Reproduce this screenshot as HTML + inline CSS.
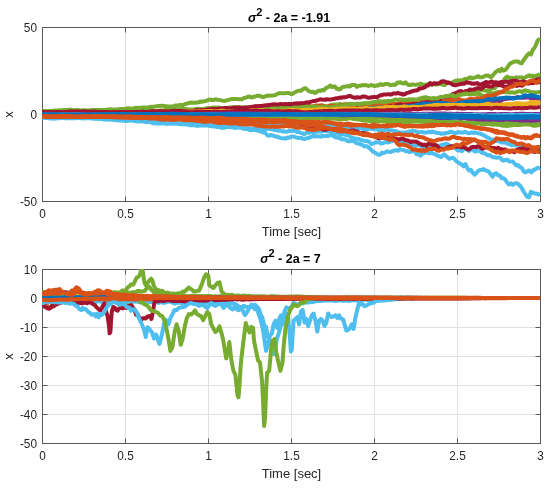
<!DOCTYPE html>
<html><head><meta charset="utf-8"><style>html,body{margin:0;padding:0;background:#fff;width:550px;height:489px;overflow:hidden}svg{display:block}</style></head>
<body>
<svg width="550" height="489" viewBox="0 0 550 489">
<rect width="550" height="489" fill="#fff"/>
<line x1="125.5" y1="27.5" x2="125.5" y2="201.5" stroke="#dfdfdf" stroke-width="1"/>
<line x1="208.5" y1="27.5" x2="208.5" y2="201.5" stroke="#dfdfdf" stroke-width="1"/>
<line x1="291.5" y1="27.5" x2="291.5" y2="201.5" stroke="#dfdfdf" stroke-width="1"/>
<line x1="374.5" y1="27.5" x2="374.5" y2="201.5" stroke="#dfdfdf" stroke-width="1"/>
<line x1="457.5" y1="27.5" x2="457.5" y2="201.5" stroke="#dfdfdf" stroke-width="1"/>
<line x1="42.5" y1="114.5" x2="540.5" y2="114.5" stroke="#dfdfdf" stroke-width="1"/>
<rect x="42.5" y="27.5" width="498.0" height="174.0" fill="none" stroke="#585858" stroke-width="1"/>
<line x1="125.5" y1="27.5" x2="125.5" y2="32.5" stroke="#585858" stroke-width="1"/>
<line x1="125.5" y1="201.5" x2="125.5" y2="196.5" stroke="#585858" stroke-width="1"/>
<line x1="208.5" y1="27.5" x2="208.5" y2="32.5" stroke="#585858" stroke-width="1"/>
<line x1="208.5" y1="201.5" x2="208.5" y2="196.5" stroke="#585858" stroke-width="1"/>
<line x1="291.5" y1="27.5" x2="291.5" y2="32.5" stroke="#585858" stroke-width="1"/>
<line x1="291.5" y1="201.5" x2="291.5" y2="196.5" stroke="#585858" stroke-width="1"/>
<line x1="374.5" y1="27.5" x2="374.5" y2="32.5" stroke="#585858" stroke-width="1"/>
<line x1="374.5" y1="201.5" x2="374.5" y2="196.5" stroke="#585858" stroke-width="1"/>
<line x1="457.5" y1="27.5" x2="457.5" y2="32.5" stroke="#585858" stroke-width="1"/>
<line x1="457.5" y1="201.5" x2="457.5" y2="196.5" stroke="#585858" stroke-width="1"/>
<line x1="42.5" y1="27.5" x2="47.5" y2="27.5" stroke="#585858" stroke-width="1"/>
<line x1="540.5" y1="27.5" x2="535.5" y2="27.5" stroke="#585858" stroke-width="1"/>
<line x1="42.5" y1="114.5" x2="47.5" y2="114.5" stroke="#585858" stroke-width="1"/>
<line x1="540.5" y1="114.5" x2="535.5" y2="114.5" stroke="#585858" stroke-width="1"/>
<line x1="42.5" y1="201.5" x2="47.5" y2="201.5" stroke="#585858" stroke-width="1"/>
<line x1="540.5" y1="201.5" x2="535.5" y2="201.5" stroke="#585858" stroke-width="1"/>
<defs><clipPath id="ct"><rect x="42" y="27" width="499" height="175"/></clipPath><clipPath id="cb"><rect x="42" y="269" width="499" height="175"/></clipPath></defs>
<g clip-path="url(#ct)">
<polyline points="42.0,111.0 43.7,111.2 45.4,111.4 47.1,111.3 48.8,111.2 50.5,110.9 52.2,110.9 54.0,110.7 55.7,110.4 57.4,110.4 59.1,110.3 60.8,110.4 62.5,110.2 64.2,110.1 65.9,110.1 67.6,109.8 69.3,109.8 71.0,109.8 72.8,110.2 74.5,110.2 76.2,110.1 77.9,110.3 79.6,110.3 81.3,110.4 83.0,110.3 84.7,110.3 86.4,110.4 88.1,110.4 89.8,110.3 91.4,110.0 93.1,110.0 94.8,110.0 96.5,110.0 98.2,110.0 99.9,110.1 101.6,110.0 103.2,109.9 104.9,110.0 106.6,109.7 108.3,109.5 110.0,109.3 111.7,109.6 113.3,109.5 115.0,109.5 116.7,109.6 118.3,109.4 120.0,109.0 121.7,109.1 123.3,108.9 125.0,108.9 126.7,108.5 128.3,108.3 130.0,108.5 131.7,108.8 133.3,108.4 135.0,107.9 136.7,107.8 138.3,107.9 140.0,107.8 141.7,107.8 143.3,107.5 145.0,107.5 146.7,107.7 148.3,107.5 150.0,107.0 151.7,106.8 153.3,106.9 155.0,106.4 156.7,106.3 158.3,106.0 160.0,105.9 161.7,105.8 163.3,105.8 165.0,106.2 166.7,106.3 168.3,106.6 170.0,106.6 171.7,106.4 173.3,106.4 175.0,105.5 176.7,105.4 178.3,105.5 180.0,105.0 181.7,105.1 183.3,104.9 185.0,104.0 186.7,103.7 188.3,103.2 190.0,102.8 191.7,102.6 193.3,102.8 195.0,102.7 196.7,102.5 198.3,102.4 200.0,101.5 201.6,101.9 203.2,101.3 204.8,101.3 206.4,100.7 208.0,100.1 209.9,99.5 211.8,100.0 213.6,100.0 215.5,99.3 217.4,99.8 219.2,99.9 221.1,100.4 223.0,100.8 224.9,100.9 226.8,100.2 228.7,99.9 230.6,99.3 232.5,98.9 234.4,99.1 236.3,99.1 238.2,99.3 240.1,99.3 241.9,99.3 243.8,98.1 245.7,97.8 247.6,96.8 249.4,96.6 251.3,97.4 253.2,97.1 254.7,96.4 256.3,96.1 257.8,95.6 259.3,96.1 260.8,96.1 262.3,97.1 263.8,97.0 265.3,96.3 266.8,95.8 268.3,95.6 270.2,95.7 272.1,95.5 274.0,95.4 275.9,94.8 277.8,93.7 279.6,93.0 281.5,93.2 283.4,93.3 285.3,93.3 287.2,92.9 289.1,93.1 291.0,94.0 292.5,94.0 294.0,92.8 295.5,92.0 297.3,91.2 299.1,90.6 300.9,90.9 302.4,89.5 303.8,88.7 305.3,88.2 306.9,89.4 308.5,90.9 310.1,91.6 311.8,92.0 313.3,91.7 314.7,92.9 316.2,92.5 317.6,91.1 319.1,90.6 320.5,90.9 322.1,90.0 323.8,90.4 325.5,88.3 327.1,87.6 328.7,86.7 330.3,85.5 332.0,87.0 333.6,86.5 335.1,86.6 336.5,88.7 338.0,88.7 339.4,89.5 340.9,88.7 342.3,87.1 343.8,86.8 345.4,86.6 346.9,86.4 348.5,86.0 350.0,86.5 351.7,85.0 353.4,85.0 355.1,85.1 356.9,86.9 358.6,85.7 360.3,85.8 362.0,85.2 363.7,85.0 365.3,85.2 366.9,85.2 368.5,86.0 370.2,85.2 371.8,85.1 373.4,85.7 375.0,86.1 376.8,85.2 378.6,85.5 380.4,84.1 382.2,85.0 384.0,84.5 385.5,84.0 387.0,83.9 388.5,84.2 390.0,85.2 391.5,85.0 393.0,84.6 394.5,85.0 396.0,84.2 397.4,82.4 398.9,82.7 400.4,82.2 401.8,83.1 403.6,83.6 405.5,82.4 406.9,83.7 408.4,84.9 410.2,85.1 412.0,84.5 413.8,84.6 415.6,84.9 417.5,84.4 419.3,84.2 420.8,83.6 422.2,84.5 423.6,84.6 425.1,84.9 426.6,84.5 428.0,84.2 429.8,83.2 431.5,84.7 433.2,84.0 435.0,84.5 436.6,84.6 438.3,84.1 440.0,83.6 441.6,84.4 443.3,84.9 445.0,85.0 446.7,83.2 448.4,82.3 450.1,83.0 451.8,82.9 453.6,81.8 455.4,80.9 457.2,80.3 459.0,80.7 460.9,80.3 462.7,80.6 464.5,79.1 466.4,79.3 468.2,78.2 470.0,77.3 471.8,78.4 473.6,77.8 475.2,77.3 476.8,76.8 478.4,76.1 480.0,77.3 481.9,77.3 483.7,76.7 485.5,75.6 487.4,75.5 489.2,76.1 491.0,77.3 492.9,75.3 494.7,73.0 496.5,71.4 498.4,70.0 500.0,71.3 501.7,68.7 503.3,70.6 505.1,70.1 507.0,68.1 508.9,64.9 510.7,63.2 512.5,62.5 514.4,61.4 516.2,61.5 518.0,61.4 519.9,62.9 521.7,63.2 523.5,60.3 525.4,57.7 527.2,55.2 529.0,53.4 530.9,54.6 532.8,49.7 534.3,48.1 535.8,45.4 537.7,40.5 540.0,38.7" fill="none" stroke="#77AC30" stroke-width="4.0" stroke-linejoin="round"/>
<polyline points="42.0,111.5 43.7,111.5 45.4,111.9 47.1,112.0 48.8,112.1 50.5,112.2 52.2,112.2 53.9,112.2 55.6,112.2 57.3,112.0 59.0,111.8 60.7,111.6 62.4,111.6 64.1,111.7 65.8,111.9 67.5,112.0 69.2,112.0 70.9,112.1 72.6,112.0 74.3,111.7 76.0,111.8 77.8,111.7 79.5,111.7 81.2,111.7 82.9,112.1 84.6,112.3 86.3,112.3 88.0,112.1 89.7,112.2 91.4,112.0 93.1,112.2 94.8,111.9 96.5,111.9 98.2,112.0 99.9,111.8 101.6,111.8 103.3,111.8 105.0,112.0 106.7,111.8 108.4,111.9 110.1,112.3 111.8,112.0 113.5,111.8 115.2,111.9 116.9,111.7 118.6,111.5 120.3,111.7 122.0,111.8 123.7,112.0 125.4,112.2 127.1,112.3 128.8,112.1 130.5,111.6 132.2,111.7 133.9,111.5 135.6,111.5 137.3,111.5 139.0,111.3 140.7,111.2 142.4,111.5 144.1,111.6 145.8,111.3 147.5,111.2 149.2,111.2 151.0,111.3 152.7,111.4 154.4,111.3 156.1,111.3 157.8,111.4 159.5,111.1 161.2,111.3 162.9,111.4 164.6,111.2 166.3,111.1 168.0,111.1 169.7,110.8 171.4,110.4 173.1,110.4 174.8,110.7 176.5,110.6 178.2,110.6 179.9,110.5 181.6,110.3 183.3,110.4 185.0,110.5 186.7,110.4 188.4,110.6 190.1,110.3 191.8,110.3 193.5,110.1 195.3,109.9 197.0,109.9 198.7,109.9 200.4,110.0 202.1,110.1 203.8,109.8 205.5,110.0 207.2,109.6 208.9,109.5 210.6,109.5 212.4,109.4 214.1,109.5 215.8,109.4 217.5,109.1 219.2,109.2 220.9,109.1 222.6,108.9 224.3,108.8 226.0,108.7 227.7,108.7 229.5,108.5 231.2,108.5 232.9,108.4 234.6,108.7 236.3,108.5 238.0,108.7 239.7,108.6 241.4,108.8 243.1,109.3 244.8,109.1 246.5,109.1 248.3,108.8 250.0,108.6 251.7,108.3 253.4,108.3 255.1,108.4 256.8,108.6 258.5,108.4 260.2,108.4 261.9,107.9 263.6,108.0 265.4,107.9 267.1,107.5 268.8,107.3 270.5,107.3 272.2,107.3 273.9,107.4 275.6,107.2 277.3,107.1 279.0,107.0 280.7,106.5 282.5,106.4 284.2,106.3 285.9,106.0 287.6,106.2 289.3,106.7 291.0,107.0 292.7,107.0 294.4,106.6 296.0,106.6 297.7,106.3 299.4,106.4 301.1,106.7 302.8,106.6 304.5,106.2 306.1,106.6 307.8,106.5 309.5,106.9 311.2,106.6 312.9,107.3 314.6,106.9 316.2,107.0 317.9,107.2 319.6,106.4 321.3,106.1 323.0,105.6 324.7,106.1 326.3,106.3 328.0,105.9 329.7,105.4 331.4,104.8 333.1,104.8 334.8,104.5 336.4,104.6 338.1,104.4 339.8,103.8 341.5,104.4 343.2,104.5 344.9,104.2 346.5,104.1 348.2,104.5 349.9,104.8 351.6,104.3 353.3,104.8 355.0,104.5 356.6,104.7 358.3,104.3 360.0,104.0 361.7,104.1 363.4,103.6 365.1,103.5 366.9,103.5 368.6,103.1 370.3,103.5 372.0,103.6 373.7,103.4 375.4,103.7 377.1,104.1 378.9,104.4 380.6,104.2 382.3,104.4 384.0,104.4 385.7,103.8 387.4,103.6 389.1,104.2 390.9,103.8 392.6,103.9 394.3,104.4 396.0,104.1 397.7,104.0 399.4,103.5 401.1,103.6 402.9,103.0 404.6,103.0 406.3,102.5 408.0,102.5 409.7,101.7 411.4,101.1 413.1,101.3 414.9,101.5 416.6,100.0 418.3,100.5 420.0,100.0 421.7,100.1 423.3,100.3 425.0,100.0 426.7,99.5 428.3,98.4 430.0,98.3 431.7,98.9 433.3,98.1 435.0,98.4 436.7,98.5 438.3,98.7 440.0,97.9 441.7,97.5 443.3,97.4 445.0,98.0 446.7,97.3 448.3,96.7 450.0,96.0 451.7,96.4 453.3,95.4 455.0,95.2 456.7,94.4 458.3,94.1 460.0,94.4 461.7,94.0 463.3,94.3 465.0,94.0 466.7,93.8 468.3,93.6 470.0,93.0 471.6,92.8 473.3,92.7 474.9,91.7 476.5,91.7 478.2,91.3 479.8,90.5 481.5,90.2 483.1,90.2 484.7,90.3 486.4,90.8 488.0,90.5 489.8,90.2 491.5,88.8 493.2,88.0 495.0,88.0 496.7,85.5 498.3,83.0 500.0,83.0 501.8,82.3 503.6,80.6 505.4,78.0 507.2,76.5 509.0,78.2 510.9,77.8 512.7,78.0 514.5,78.2 516.4,77.3 518.2,77.6 520.0,77.6 521.8,77.2 523.6,78.2 525.5,77.2 527.3,76.2 529.1,75.3 531.0,76.4 532.8,75.6 534.6,77.2 536.4,75.5 538.2,75.5 540.0,73.6" fill="none" stroke="#77AC30" stroke-width="4.0" stroke-linejoin="round"/>
<polyline points="42.0,114.5 43.7,114.5 45.4,114.5 47.1,114.5 48.8,114.5 50.5,114.5 52.2,114.5 53.9,114.6 55.6,114.5 57.2,114.7 58.9,114.4 60.6,114.4 62.3,114.5 64.0,114.5 65.7,114.4 67.4,114.4 69.1,114.5 70.8,114.6 72.5,114.5 74.2,114.5 75.9,114.4 77.6,114.5 79.3,114.5 81.0,114.5 82.7,114.6 84.3,114.6 86.0,114.6 87.7,114.5 89.4,114.5 91.1,114.3 92.8,114.2 94.5,114.2 96.2,114.1 97.9,114.3 99.6,114.1 101.3,113.9 103.0,113.9 104.7,113.9 106.4,113.9 108.1,114.0 109.8,114.2 111.4,114.2 113.1,114.0 114.8,114.0 116.5,114.1 118.2,114.2 119.9,114.1 121.6,114.2 123.3,114.2 125.0,114.0 126.7,114.0 128.4,113.9 130.1,113.8 131.9,113.7 133.6,113.7 135.3,113.7 137.0,113.7 138.7,113.6 140.4,113.7 142.1,113.7 143.9,113.6 145.6,113.6 147.3,113.5 149.0,113.5 150.7,113.4 152.4,113.6 154.1,113.4 155.9,113.3 157.6,113.3 159.3,113.2 161.0,113.1 162.7,113.2 164.4,113.0 166.1,113.0 167.9,112.8 169.6,113.0 171.3,113.0 173.0,113.1 174.7,113.0 176.4,112.9 178.1,112.8 179.9,112.8 181.6,112.8 183.3,112.9 185.0,113.0 186.7,112.9 188.3,112.8 190.0,112.8 191.7,112.6 193.3,112.6 195.0,112.5 196.7,112.5 198.3,112.5 200.0,112.4 201.7,112.5 203.3,112.4 205.0,112.5 206.7,112.3 208.3,112.1 210.0,112.0 211.7,111.9 213.3,112.0 215.0,111.8 216.7,112.0 218.3,111.8 220.0,112.0 221.7,112.0 223.3,111.9 225.0,112.0 226.7,111.7 228.3,111.6 230.0,111.4 231.7,111.7 233.3,111.3 235.0,111.5 236.7,111.2 238.3,110.9 240.0,110.7 241.7,110.7 243.3,110.5 245.0,110.2 246.7,110.1 248.3,110.0 250.0,110.0 251.7,109.6 253.4,109.8 255.1,109.9 256.8,109.6 258.5,109.4 260.2,109.4 262.0,109.2 263.7,109.3 265.4,109.3 267.1,109.1 268.8,108.7 270.5,108.1 272.2,108.0 273.9,107.6 275.6,107.7 277.3,108.0 279.0,107.9 280.8,108.0 282.5,108.2 284.2,108.2 285.9,107.8 287.6,107.4 289.3,107.1 291.0,107.0 292.7,106.7 294.4,106.6 296.1,106.9 297.8,106.7 299.5,106.6 301.2,106.3 302.9,106.1 304.6,106.3 306.4,106.6 308.1,106.6 309.8,106.3 311.5,106.8 313.2,106.1 314.9,105.8 316.6,105.5 318.3,105.4 320.0,105.5 321.7,105.2 323.5,106.2 325.2,106.6 326.9,106.7 328.7,106.4 330.4,105.7 332.2,106.0 333.9,106.1 335.6,106.1 337.4,106.4 339.1,106.4 340.9,105.7 342.6,104.9 344.3,104.6 346.1,104.5 347.8,104.5 349.5,104.7 351.3,104.7 353.0,104.5 354.8,104.8 356.5,105.1 358.3,105.0 360.0,104.8 361.8,104.7 363.5,104.5 365.3,104.6 367.0,104.3 368.8,104.5 370.5,104.3 372.3,104.4 374.0,105.2 375.8,104.7 377.5,104.7 379.3,105.5 381.0,105.8 382.8,105.8 384.5,105.9 386.3,105.7 388.0,105.2 389.8,104.1 391.5,103.8 393.3,103.5 395.0,103.9 396.8,104.0 398.5,103.4 400.3,103.5 402.0,103.0 403.8,103.5 405.5,103.1 407.3,103.4 409.0,103.4 410.8,103.2 412.5,103.6 414.3,103.5 416.0,102.5 417.7,102.5 419.4,102.0 421.2,101.8 422.9,101.7 424.6,101.9 426.4,101.9 428.1,101.3 429.8,100.9 431.5,100.3 433.2,100.1 435.0,99.6 436.7,99.9 438.4,99.4 440.2,99.7 441.9,100.4 443.6,100.5 445.2,100.2 446.9,100.5 448.5,99.9 450.2,99.7 451.8,100.1 453.4,100.1 455.1,99.8 456.7,99.5 458.4,99.0 460.0,99.5 461.7,100.2 463.3,100.6 465.0,100.4 466.7,100.3 468.3,99.6 470.0,98.8 471.7,98.9 473.3,98.9 475.0,98.0" fill="none" stroke="#D95319" stroke-width="4.0" stroke-linejoin="round"/>
<polyline points="42.0,112.2 43.7,112.3 45.4,112.2 47.1,112.7 48.8,112.8 50.5,112.8 52.2,112.8 53.9,112.8 55.6,112.6 57.3,112.7 59.0,112.6 60.7,112.7 62.4,112.7 64.1,112.4 65.8,112.2 67.5,112.1 69.2,111.8 70.9,111.8 72.6,111.7 74.3,111.8 76.0,111.7 77.8,111.7 79.5,111.7 81.2,111.8 82.9,111.7 84.6,111.9 86.3,111.8 88.0,111.9 89.7,111.9 91.4,111.8 93.1,111.6 94.8,111.6 96.5,111.9 98.2,111.8 99.9,112.0 101.6,112.2 103.3,112.1 105.0,112.3 106.7,112.5 108.4,112.4 110.1,112.3 111.8,112.5 113.5,112.5 115.2,112.8 116.9,112.9 118.6,112.7 120.3,112.7 122.0,112.5 123.7,112.6 125.4,112.7 127.1,112.6 128.8,112.5 130.5,112.6 132.2,112.5 133.9,112.7 135.6,112.5 137.3,112.5 139.0,112.4 140.7,112.2 142.4,112.6 144.1,112.9 145.8,112.8 147.5,112.9 149.2,112.6 151.0,112.8 152.7,112.9 154.4,112.8 156.1,112.8 157.8,112.8 159.5,112.9 161.2,112.8 162.9,112.7 164.6,112.6 166.3,112.5 168.0,112.6 169.7,112.6 171.4,112.7 173.1,112.4 174.8,112.3 176.5,112.3 178.2,112.2 179.9,112.2 181.6,112.1 183.3,111.9 185.0,112.0 186.7,112.2 188.3,112.1 190.0,112.2 191.7,112.1 193.3,112.0 195.0,112.0 196.7,112.2 198.3,112.2 200.0,112.0 201.7,112.1 203.3,112.0 205.0,111.9 206.7,112.0 208.3,111.8 210.0,111.5 211.7,111.4 213.3,111.5 215.0,111.6 216.7,111.5 218.3,111.5 220.0,111.6 221.7,111.8 223.3,111.7 225.0,111.8 226.7,112.1 228.4,112.1 230.1,111.9 231.8,111.9 233.5,111.8 235.2,111.8 236.8,111.8 238.5,111.6 240.2,111.5 241.9,111.4 243.6,111.2 245.3,111.1 247.0,110.9 248.7,111.0 250.4,111.2 252.1,111.0 253.8,111.0 255.5,111.0 257.2,110.9 258.8,110.7 260.5,110.7 262.2,110.8 263.9,110.5 265.6,110.6 267.3,110.4 269.0,110.1 270.7,110.0 272.4,110.0 274.1,109.9 275.8,109.9 277.5,109.7 279.2,109.5 280.8,109.6 282.5,109.3 284.2,109.5 285.9,109.5 287.6,109.3 289.3,109.2 291.0,109.0 292.7,109.0 294.4,109.1 296.1,109.1 297.8,108.7 299.5,108.2 301.2,108.3 302.9,108.2 304.6,108.1 306.3,108.1 308.0,107.9 309.7,108.3 311.4,108.3 313.1,108.3 314.8,108.1 316.5,108.4 318.2,108.6 319.9,109.0 321.6,109.2 323.3,109.0 325.0,108.8 326.7,109.1 328.4,109.0 330.1,109.0 331.9,109.0 333.6,109.2 335.3,109.4 337.0,109.2 338.7,109.0 340.4,108.7 342.1,108.8 343.8,108.8 345.5,108.5 347.2,108.8 348.9,108.8 350.6,108.6 352.3,108.6 354.0,108.5 355.7,108.5 357.4,108.6 359.1,108.5 360.8,108.6 362.5,108.1 364.2,108.0 365.9,108.2 367.6,108.5 369.3,108.7 371.0,108.5 372.7,108.0 374.5,107.8 376.2,108.2 377.9,108.2 379.7,107.9 381.4,107.3 383.1,107.2 384.8,107.0 386.6,107.0 388.3,106.9 390.0,106.1 391.8,106.0 393.5,106.1 395.2,105.8 397.0,105.3 398.7,104.8 400.4,104.3 402.2,104.9 403.9,105.2 405.6,104.9 407.3,105.2 409.1,104.7 410.8,104.4 412.5,104.1 414.3,103.9 416.0,104.0 417.7,104.3 419.4,104.2 421.1,103.7 422.8,103.3 424.5,102.8 426.2,102.5 427.9,101.8 429.6,101.4 431.4,101.2 433.1,101.2 434.8,100.4 436.5,100.2 438.2,99.9 439.9,99.1 441.6,97.7 443.3,97.0 445.0,97.0 446.8,96.0 448.5,96.4 450.2,95.9 452.0,94.6 453.8,93.6 455.5,93.1 457.2,92.5 459.0,91.5 460.9,90.9 462.7,92.0 464.5,91.7 466.4,90.9 468.2,90.7 470.0,89.5 471.8,89.7 473.6,89.5 475.5,89.0 477.3,88.2 479.1,88.3 481.0,88.7 482.8,87.7 484.6,86.1 486.4,85.9 488.2,86.5 490.0,86.5 491.9,86.6 493.7,85.2 495.5,84.4 497.3,84.9 499.1,85.3 500.9,85.3 502.7,85.8 504.5,86.6 506.4,86.7 508.2,86.2 510.0,85.1 511.7,85.3 513.3,85.1 515.0,85.0 516.7,85.9 518.3,85.3 520.0,85.1 521.7,85.7 523.3,84.9 525.0,83.0 526.7,82.5 528.3,83.2 530.0,82.6 531.7,82.3 533.3,80.5 535.0,81.6 536.7,79.9 538.3,79.2 540.0,79.0" fill="none" stroke="#A2142F" stroke-width="4.0" stroke-linejoin="round"/>
<polyline points="42.0,111.3 43.7,111.2 45.4,111.2 47.1,111.3 48.8,111.2 50.5,111.1 52.2,111.1 53.9,110.7 55.6,111.0 57.3,111.2 59.0,111.3 60.7,111.3 62.4,111.5 64.1,111.7 65.8,111.7 67.5,111.6 69.2,111.5 70.9,111.5 72.6,111.4 74.3,111.5 76.0,111.7 77.7,111.5 79.4,111.7 81.1,111.6 82.8,111.6 84.5,111.5 86.2,111.4 87.9,111.3 89.6,111.4 91.3,111.1 93.0,111.3 94.7,111.1 96.4,111.1 98.1,111.1 99.8,110.9 101.5,110.9 103.2,110.7 104.9,110.6 106.6,110.4 108.3,110.7 110.0,111.0 111.7,110.9 113.3,110.9 115.0,110.9 116.7,111.0 118.3,111.1 120.0,111.1 121.7,110.8 123.3,110.9 125.0,110.4 126.7,110.4 128.3,110.3 130.0,110.1 131.7,110.2 133.3,110.0 135.0,110.2 136.7,110.0 138.3,110.1 140.0,110.0 141.7,109.9 143.3,110.3 145.0,110.6 146.7,110.6 148.3,110.6 150.0,110.5 151.7,110.7 153.3,110.9 155.0,111.2 156.7,111.0 158.3,110.9 160.0,110.5 161.7,110.4 163.3,110.3 165.0,110.0 166.7,109.6 168.3,109.7 170.0,109.6 171.7,109.6 173.3,109.5 175.0,109.3 176.7,109.3 178.3,109.3 180.0,109.3 181.7,109.1 183.3,109.0 185.0,109.0 186.7,109.1 188.3,109.4 190.0,109.5 191.7,109.6 193.3,109.4 195.0,109.1 196.7,108.8 198.3,108.8 200.0,109.0 201.7,109.2 203.3,108.9 205.0,108.6 206.7,108.3 208.3,108.1 210.0,108.0 211.7,107.8 213.3,107.5 215.0,107.6 216.7,107.7 218.3,107.5 220.0,108.0 221.7,107.9 223.3,108.2 225.0,108.0 226.7,108.1 228.3,107.6 230.0,107.5 231.7,107.4 233.3,107.2 235.0,107.3 236.7,107.5 238.3,107.1 240.0,107.2 241.7,107.4 243.3,107.3 245.0,107.8 246.7,107.6 248.3,107.4 250.0,107.5 251.7,107.4 253.4,107.8 255.1,107.9 256.8,108.1 258.5,107.8 260.2,107.6 262.0,107.8 263.7,107.7 265.4,107.9 267.1,107.8 268.8,108.0 270.5,107.8 272.2,107.6 273.9,107.6 275.6,107.4 277.3,107.4 279.0,107.6 280.8,107.8 282.5,107.3 284.2,106.9 285.9,106.9 287.6,106.9 289.3,106.8 291.0,106.6 292.7,106.2 294.4,106.6 296.0,106.6 297.7,106.8 299.4,106.7 301.1,106.5 302.8,106.4 304.5,106.6 306.1,106.5 307.8,106.9 309.5,106.8 311.2,106.4 312.9,106.5 314.5,106.4 316.2,106.4 317.9,107.2 319.6,107.3 321.3,106.9 322.9,106.9 324.6,107.1 326.3,107.0 328.0,107.5 329.7,107.5 331.4,107.3 333.0,107.0 334.7,106.6 336.4,106.6 338.1,106.5 339.9,106.4 341.6,105.7 343.4,105.7 345.1,104.9 346.8,104.4 348.6,104.5 350.3,103.8 352.0,104.1 353.8,104.2 355.5,104.3 357.3,103.6 359.0,104.0 360.7,103.8 362.3,103.4 364.0,103.4 365.7,103.1 367.4,103.5 369.0,103.1 370.7,102.8 372.4,102.3 374.1,102.1 375.7,102.3 377.4,101.5 379.2,101.1 380.9,101.5 382.7,101.4 384.5,101.1 386.2,101.5 388.0,101.0 389.8,101.0 391.5,100.9 393.3,100.3 395.0,99.5 396.6,99.6 398.3,100.0 400.0,99.5 401.6,99.5 403.2,100.2 404.8,99.8 406.4,99.8 408.1,99.9 409.7,99.2 411.3,99.6 412.9,99.3 414.5,99.5 416.1,99.7 417.7,99.5 419.3,98.6 420.9,98.2 422.6,97.7 424.2,97.4 425.8,97.2 427.4,97.8 429.0,98.2 430.7,98.5 432.4,98.7 434.2,98.4 435.9,98.5 437.6,98.5 439.3,97.3 441.1,96.9 442.8,97.0 444.5,96.5 446.1,96.3 447.7,96.1 449.3,95.8 450.9,95.2 452.6,94.9 454.2,96.5 455.8,96.3 457.4,95.6 459.0,94.5 460.7,94.9 462.5,94.2 464.2,93.8 466.0,93.6 467.7,93.8 469.4,94.3 471.2,94.5 472.9,93.8 474.7,94.1 476.4,93.5 478.0,94.1 479.7,94.4 481.3,95.2 483.0,95.7 484.6,96.0 486.3,95.9 487.9,94.5 489.6,94.0 491.2,93.7 492.9,93.2 494.5,93.0 496.1,92.5 497.7,92.1 499.3,92.6 500.9,92.6 502.6,92.1 504.2,91.8 505.8,92.2 507.4,92.1 509.0,92.5 510.6,92.2 512.2,92.4 513.8,92.4 515.4,92.7 517.0,91.8 518.6,91.3 520.2,91.3 521.8,92.0 523.6,91.0 525.5,90.3 527.3,91.0 529.2,91.3 531.0,92.7 532.8,92.3 534.6,92.3 536.4,92.6 538.2,92.1 540.0,92.0" fill="none" stroke="#77AC30" stroke-width="4.0" stroke-linejoin="round"/>
<polyline points="42.0,112.2 43.7,112.0 45.4,112.3 47.1,112.5 48.8,112.4 50.5,112.4 52.2,112.1 53.9,112.3 55.6,112.2 57.3,112.2 59.0,112.4 60.7,112.2 62.4,112.2 64.1,112.0 65.8,111.9 67.5,112.0 69.2,111.6 70.9,111.5 72.6,111.6 74.3,111.7 76.0,111.6 77.7,111.6 79.4,111.7 81.1,111.7 82.8,111.5 84.5,111.5 86.2,111.7 87.9,111.5 89.6,111.7 91.3,111.7 93.0,111.9 94.7,111.5 96.4,111.7 98.1,111.9 99.8,112.1 101.5,111.9 103.2,111.9 104.9,111.9 106.6,112.0 108.3,112.5 110.0,112.2 111.7,112.3 113.3,112.2 115.0,112.2 116.7,112.3 118.3,112.2 120.0,112.1 121.7,112.1 123.3,112.1 125.0,112.1 126.7,112.1 128.3,112.1 130.0,112.1 131.7,112.1 133.3,112.2 135.0,112.3 136.7,112.2 138.3,112.1 140.0,112.0 141.7,112.0 143.3,112.2 145.0,112.1 146.7,112.0 148.3,111.9 150.0,111.8 151.7,111.7 153.3,111.5 155.0,111.5 156.7,111.5 158.3,111.5 160.0,111.2 161.7,111.4 163.3,111.5 165.0,111.4 166.7,111.5 168.3,111.6 170.0,111.5 171.7,111.1 173.3,110.9 175.0,110.8 176.7,110.9 178.3,111.1 180.0,111.1 181.7,111.0 183.3,111.1 185.0,111.0 186.6,111.2 188.3,111.2 189.9,111.0 191.6,110.9 193.2,110.8 194.9,110.7 196.5,110.1 198.1,110.2 199.8,110.3 201.4,110.1 203.1,110.2 204.7,109.9 206.4,109.7 208.0,109.5 209.7,109.3 211.3,109.1 213.0,109.0 214.7,108.9 216.3,108.9 218.0,108.8 219.7,108.8 221.3,108.6 223.0,108.4 224.7,107.9 226.3,108.1 228.0,108.2 229.7,108.4 231.3,108.1 233.0,107.8 234.7,107.8 236.3,107.5 238.0,107.8 239.8,107.6 241.5,107.9 243.3,108.1 245.0,107.5 246.8,107.4 248.5,107.4 250.3,107.0 252.0,106.8 253.8,106.4 255.5,106.1 257.3,106.2 259.0,106.1 260.8,106.1 262.5,105.7 264.2,105.6 265.8,105.2 267.5,105.3 269.2,105.0 270.9,104.7 272.5,104.4 274.2,104.2 275.9,104.6 277.6,104.6 279.3,104.4 280.9,103.9 282.6,104.2 284.3,104.3 286.0,104.0 287.6,104.3 289.3,104.0 291.0,104.3 292.6,103.9 294.3,103.6 295.9,103.5 297.5,103.2 299.1,103.6 300.8,103.1 302.4,103.2 304.0,103.0 305.6,102.6 307.2,102.3 308.9,102.7 310.5,101.8 312.1,101.4 313.7,100.9 315.3,100.9 316.9,100.3 318.5,99.9 320.2,99.3 321.8,99.6 323.4,99.8 325.0,99.8 326.6,99.2 328.3,99.4 329.9,99.4 331.5,99.4 333.1,99.0 334.8,98.8 336.4,98.2 338.1,98.2 339.8,97.6 341.5,97.8 343.2,97.2 344.9,97.3 346.6,96.9 348.3,96.2 350.0,95.9 351.8,96.8 353.6,97.5 355.4,97.8 357.2,97.3 359.0,97.5 360.6,97.6 362.3,96.6 363.9,96.6 365.6,96.7 367.2,97.5 368.9,97.8 370.5,97.5 372.1,97.2 373.8,97.1 375.4,97.1 377.0,97.4 378.6,96.2 380.3,95.3 381.9,95.2 383.5,94.5 385.1,94.6 386.8,94.4 388.4,94.1 390.0,94.5 391.5,94.4 393.0,93.6 394.5,93.6 396.0,93.6 397.8,93.0 399.6,93.6 401.5,93.9 403.3,94.7 405.1,94.1 406.9,92.9 408.7,92.6 410.5,91.8 412.4,91.3 414.2,90.7 416.0,90.6 417.8,90.0 419.6,88.2 421.5,88.5 423.3,87.8 425.1,87.1 426.6,85.6 428.0,85.6 430.2,83.1 432.4,84.5 434.2,83.1 436.0,83.5 437.9,83.5 439.7,82.8 441.6,81.5 443.6,81.2 445.5,81.9 447.5,82.9 449.4,82.8 451.4,83.8 453.3,85.1 455.2,85.2 457.1,84.8 459.0,84.4 460.9,84.0 462.7,83.6 464.5,83.8 466.4,82.2 468.2,82.8 470.0,82.8 471.8,83.7 473.6,83.6 475.5,83.7 477.3,83.0 479.1,84.5 481.0,84.4 482.8,83.7 484.6,82.8 486.4,81.9 488.2,82.9 490.0,81.9 491.9,81.6 493.7,82.6 495.5,82.2 497.3,82.4 499.1,83.1 500.9,81.9 502.7,82.2 504.5,81.9 506.4,81.6 508.2,82.2 510.0,81.5 511.9,81.1 513.8,80.8 515.6,80.7 517.5,81.3 519.1,82.1 520.7,82.2 522.3,81.6 523.9,81.5 525.5,82.4 527.1,83.0 528.7,83.5 530.3,82.5 531.9,83.3 533.5,83.1 535.2,82.1 536.8,82.3 538.4,82.2 540.0,82.4" fill="none" stroke="#A2142F" stroke-width="4.0" stroke-linejoin="round"/>
<polyline points="475.0,98.0 476.7,98.5 478.3,98.3 480.0,98.4 481.7,98.6 483.3,97.8 485.0,96.7 486.7,95.8 488.3,95.7 490.0,96.0 491.6,95.8 493.2,94.8 494.8,95.3 496.4,94.1 498.0,93.5 499.6,92.4 501.2,91.8 502.8,91.8 504.4,90.0 506.0,89.0 507.7,88.7 509.4,87.4 511.0,86.8 512.7,86.5 514.5,85.3 516.3,84.1 518.2,83.9 520.0,83.6 521.8,83.6 523.6,84.3 525.5,83.9 527.3,83.2 529.2,81.3 531.0,81.0 532.8,80.3 534.6,81.8 536.4,82.9 538.2,81.1 540.0,80.0" fill="none" stroke="#D95319" stroke-width="4.0" stroke-linejoin="round"/>
<polyline points="42.0,114.5 43.7,114.4 45.4,114.4 47.1,114.4 48.8,114.3 50.5,114.1 52.2,114.2 53.9,114.2 55.6,114.2 57.2,114.2 58.9,114.2 60.6,114.3 62.3,114.4 64.0,114.5 65.7,114.5 67.4,114.5 69.1,114.7 70.8,114.7 72.5,114.8 74.2,114.7 75.9,114.6 77.6,114.8 79.3,114.7 81.0,114.6 82.7,114.5 84.3,114.5 86.0,114.4 87.7,114.3 89.4,114.3 91.1,114.3 92.8,114.5 94.5,114.5 96.2,114.5 97.9,114.5 99.6,114.5 101.3,114.4 103.0,114.3 104.7,114.3 106.4,114.4 108.1,114.3 109.8,114.2 111.4,114.1 113.1,114.0 114.8,114.1 116.5,113.9 118.2,113.8 119.9,113.6 121.6,113.4 123.3,113.4 125.0,113.5 126.7,113.3 128.4,113.4 130.1,113.5 131.8,113.4 133.5,113.4 135.2,113.3 136.9,113.4 138.6,113.4 140.2,113.4 141.9,113.3 143.6,113.3 145.3,113.5 147.0,113.4 148.7,113.5 150.4,113.4 152.1,113.4 153.8,113.5 155.5,113.6 157.2,113.6 158.9,113.6 160.6,113.6 162.3,113.7 164.0,113.7 165.7,113.8 167.3,113.8 169.0,113.8 170.7,114.0 172.4,113.9 174.1,113.9 175.8,113.7 177.5,113.8 179.2,113.7 180.9,113.7 182.6,113.6 184.3,113.7 186.0,113.8 187.7,113.8 189.4,113.8 191.1,113.8 192.8,113.8 194.4,113.8 196.1,113.8 197.8,113.7 199.5,113.6 201.2,113.6 202.9,113.3 204.6,113.4 206.3,113.5 208.0,113.5 209.7,113.5 211.4,113.5 213.0,113.5 214.7,113.6 216.4,113.6 218.1,113.3 219.8,113.4 221.4,113.4 223.1,113.4 224.8,113.6 226.5,113.7 228.2,113.7 229.8,113.8 231.5,113.8 233.2,113.6 234.9,113.7 236.6,113.7 238.2,113.7 239.9,113.5 241.6,113.4 243.3,113.3 245.0,113.4 246.6,113.5 248.3,113.5 250.0,113.5 251.7,113.3 253.4,113.3 255.1,113.3 256.8,113.3 258.5,113.1 260.2,113.0 262.0,113.1 263.7,113.1 265.4,113.2 267.1,113.2 268.8,113.2 270.5,113.0 272.2,112.9 273.9,112.8 275.6,112.9 277.3,112.8 279.0,113.0 280.8,113.0 282.5,112.8 284.2,112.8 285.9,112.7 287.6,112.7 289.3,112.6 291.0,112.5 292.7,112.4 294.4,112.4 296.1,112.4 297.8,112.3 299.5,112.2 301.2,112.0 302.9,112.3 304.6,112.2 306.3,111.9 308.0,112.0 309.7,111.9 311.4,111.8 313.1,111.4 314.8,111.2 316.5,111.0 318.2,111.2 319.9,111.4 321.6,111.2 323.3,111.2 325.0,111.2 326.7,111.4 328.4,111.2 330.1,111.4 331.9,111.0 333.6,110.6 335.3,110.7 337.0,110.2 338.7,110.2 340.4,110.1 342.1,110.2 343.8,110.1 345.5,110.1 347.2,110.0 348.9,109.9 350.6,109.6 352.3,109.5 354.0,109.7 355.7,109.6 357.4,109.7 359.1,109.6 360.8,109.5 362.5,109.8 364.2,109.6 365.9,109.3 367.6,109.5 369.3,109.6 371.0,109.5 372.7,109.2 374.5,109.0 376.2,109.1 377.9,109.1 379.7,109.1 381.4,109.3 383.1,109.1 384.8,108.7 386.6,108.9 388.3,108.5 390.0,108.8 391.8,109.2 393.5,108.9 395.2,108.6 397.0,108.0 398.7,108.0 400.4,107.8 402.2,108.1 403.9,107.7 405.6,107.8 407.3,107.5 409.1,107.2 410.8,107.0 412.5,106.9 414.3,106.8 416.0,107.0 417.7,106.7 419.4,106.8 421.0,106.6 422.7,106.7 424.4,106.4 426.1,106.3 427.8,106.7 429.5,106.9 431.1,106.5 432.8,105.9 434.5,105.5 436.2,105.9 437.9,105.4 439.5,105.5 441.2,105.5 442.9,105.4 444.6,104.9 446.3,104.4 448.0,104.1 449.6,104.5 451.3,104.3 453.0,104.1 454.7,104.0 456.4,105.0 458.0,104.9 459.7,104.7 461.4,104.4 463.1,104.0 464.8,104.6 466.5,104.9 468.1,104.3 469.8,104.5 471.5,104.0 473.2,104.6 474.9,104.1 476.5,103.8 478.2,103.5 479.9,104.2 481.6,103.4 483.3,102.4 485.0,102.5 486.6,102.8 488.3,102.2 490.0,101.0 491.7,101.1 493.4,100.7 495.2,101.3 496.9,101.0 498.6,100.9 500.3,101.3 502.1,99.9 503.8,99.2 505.5,99.0 507.2,98.7 509.0,98.6 510.7,98.5 512.4,97.9 514.1,97.8 515.9,97.9 517.6,96.9 519.3,97.6 521.0,97.9 522.8,97.6 524.5,97.7 526.2,97.3 527.9,97.4 529.7,97.8 531.4,98.8 533.1,98.7 534.8,98.6 536.6,98.6 538.3,98.8 540.0,98.5" fill="none" stroke="#7E2F8E" stroke-width="4.0" stroke-linejoin="round"/>
<polyline points="42.0,114.5 43.7,114.6 45.4,114.6 47.1,114.7 48.8,114.7 50.5,114.8 52.2,114.8 53.9,114.9 55.6,114.9 57.2,114.9 58.9,114.9 60.6,114.8 62.3,114.7 64.0,114.7 65.7,114.6 67.4,114.7 69.1,114.7 70.8,114.7 72.5,114.6 74.2,114.4 75.9,114.4 77.6,114.3 79.3,114.2 81.0,114.3 82.7,114.3 84.3,114.4 86.0,114.5 87.7,114.4 89.4,114.4 91.1,114.3 92.8,114.3 94.5,114.2 96.2,114.2 97.9,114.4 99.6,114.4 101.3,114.3 103.0,114.3 104.7,114.2 106.4,114.3 108.1,114.1 109.8,114.1 111.4,114.2 113.1,114.2 114.8,114.2 116.5,114.2 118.2,114.1 119.9,114.1 121.6,114.0 123.3,114.3 125.0,114.2 126.7,114.3 128.4,114.2 130.1,114.1 131.9,114.1 133.6,114.1 135.3,114.2 137.0,114.2 138.7,114.2 140.4,114.2 142.1,114.2 143.9,114.3 145.6,114.4 147.3,114.5 149.0,114.4 150.7,114.2 152.4,114.2 154.1,114.2 155.9,114.2 157.6,114.0 159.3,114.0 161.0,114.1 162.7,114.2 164.4,114.3 166.1,114.3 167.9,114.3 169.6,114.3 171.3,114.2 173.0,114.3 174.7,114.2 176.4,114.1 178.1,114.1 179.9,114.1 181.6,114.1 183.3,113.9 185.0,114.0 186.7,113.8 188.3,113.9 190.0,113.9 191.7,113.9 193.3,113.9 195.0,113.9 196.7,114.0 198.3,114.1 200.0,114.1 201.7,113.8 203.3,113.8 205.0,113.7 206.7,113.6 208.3,113.5 210.0,113.4 211.7,113.5 213.3,113.5 215.0,113.5 216.7,113.4 218.3,113.4 220.0,113.4 221.7,113.6 223.3,113.5 225.0,113.5 226.7,113.4 228.3,113.4 230.0,113.7 231.7,113.6 233.3,113.6 235.0,113.6 236.7,113.7 238.3,113.8 240.0,113.9 241.7,113.9 243.3,113.9 245.0,113.9 246.7,113.8 248.3,113.6 250.0,113.5 251.7,113.3 253.4,113.3 255.1,113.1 256.8,113.1 258.5,113.1 260.2,113.1 262.0,112.8 263.7,112.9 265.4,112.7 267.1,112.7 268.8,112.7 270.5,112.6 272.2,112.6 273.9,112.5 275.6,112.4 277.3,112.3 279.0,112.0 280.8,112.2 282.5,112.1 284.2,112.0 285.9,112.0 287.6,111.9 289.3,111.9 291.0,112.0 292.7,112.0 294.4,111.9 296.1,111.9 297.8,111.7 299.4,111.7 301.1,111.7 302.8,111.6 304.5,111.6 306.2,111.3 307.9,111.1 309.6,111.0 311.3,110.7 313.0,110.8 314.7,110.5 316.3,110.5 318.0,110.5 319.7,110.6 321.4,110.5 323.1,110.4 324.8,110.4 326.5,110.6 328.2,110.7 329.9,110.6 331.6,110.6 333.2,110.7 334.9,110.5 336.6,110.7 338.3,110.6 340.0,110.5 341.7,110.5 343.4,110.2 345.2,109.9 346.9,110.1 348.6,110.0 350.3,109.5 352.1,109.4 353.8,109.4 355.5,109.2 357.2,108.9 358.9,108.8 360.7,108.9 362.4,108.6 364.1,108.4 365.8,108.4 367.6,108.1 369.3,108.2 371.0,108.0 372.7,108.1 374.5,108.0 376.2,107.8 377.9,107.8 379.7,107.6 381.4,107.6 383.1,107.5 384.8,107.8 386.6,107.7 388.3,107.6 390.0,107.6 391.8,107.6 393.5,107.7 395.2,107.3 397.0,107.2 398.7,106.8 400.4,106.7 402.2,106.6 403.9,106.7 405.6,106.8 407.3,106.5 409.1,105.9 410.8,105.9 412.5,106.0 414.3,105.8 416.0,105.0 417.7,104.7 419.4,104.4 421.1,104.2 422.8,103.3 424.5,103.6 426.2,103.6 427.8,103.7 429.5,104.1 431.2,104.0 432.9,103.4 434.6,103.4 436.3,102.9 438.0,103.2 439.7,103.0 441.4,103.1 443.1,103.2 444.8,103.1 446.5,103.6 448.2,103.6 449.8,103.8 451.5,104.6 453.2,104.5 454.9,104.0 456.6,103.4 458.3,103.2 460.0,102.5 461.7,102.4 463.3,102.1 465.0,101.7 466.7,102.0 468.3,101.8 470.0,101.7 471.7,101.3 473.3,101.4 475.0,101.3 476.7,101.3 478.3,101.6 480.0,100.9 481.7,101.2 483.3,101.3 485.0,100.6 486.7,99.6 488.3,99.0 490.0,99.5 491.7,99.6 493.3,99.2 495.0,98.6 496.7,98.6 498.3,98.7 500.0,98.2 501.7,98.1 503.3,97.9 505.0,97.7 506.7,97.5 508.3,97.7 510.0,97.8 511.7,98.0 513.3,98.7 515.0,98.0 516.7,97.8 518.3,97.4 520.0,97.4 521.7,97.0 523.3,96.1 525.0,95.2 526.7,95.7 528.3,96.0 530.0,95.2 531.7,95.8 533.3,95.4 535.0,96.2 536.7,96.8 538.3,97.0 540.0,96.7" fill="none" stroke="#0072BD" stroke-width="4.0" stroke-linejoin="round"/>
<polyline points="42.0,114.5 43.7,114.3 45.4,114.3 47.1,114.1 48.8,114.2 50.5,114.4 52.2,114.4 53.9,114.3 55.6,114.1 57.2,114.1 58.9,114.0 60.6,114.0 62.3,113.8 64.0,113.9 65.7,114.0 67.4,113.8 69.1,113.8 70.8,113.9 72.5,113.9 74.2,113.9 75.9,113.8 77.6,113.8 79.3,113.8 81.0,113.7 82.7,113.6 84.3,113.6 86.0,113.7 87.7,113.7 89.4,113.6 91.1,113.6 92.8,113.7 94.5,113.5 96.2,113.5 97.9,113.4 99.6,113.4 101.3,113.3 103.0,113.3 104.7,113.4 106.4,113.3 108.1,113.3 109.8,113.3 111.4,113.2 113.1,113.3 114.8,113.3 116.5,113.2 118.2,113.2 119.9,113.1 121.6,113.2 123.3,112.9 125.0,112.8 126.7,112.9 128.4,112.8 130.1,112.7 131.8,112.9 133.5,112.8 135.2,112.8 136.9,112.7 138.6,112.7 140.2,112.9 141.9,112.8 143.6,112.9 145.3,112.8 147.0,113.0 148.7,112.9 150.4,112.9 152.1,113.1 153.8,113.2 155.5,113.3 157.2,113.2 158.9,113.1 160.6,113.2 162.3,113.3 164.0,113.0 165.7,112.8 167.3,112.7 169.0,112.6 170.7,112.7 172.4,112.9 174.1,112.9 175.8,112.7 177.5,112.6 179.2,112.7 180.9,112.4 182.6,112.6 184.3,112.5 186.0,112.6 187.7,112.6 189.4,112.5 191.1,112.4 192.8,112.3 194.4,112.3 196.1,112.3 197.8,112.4 199.5,112.2 201.2,111.9 202.9,111.7 204.6,111.5 206.3,111.7 208.0,112.0 209.7,112.0 211.4,111.8 213.1,111.6 214.8,111.6 216.5,111.6 218.2,111.7 219.9,112.1 221.6,112.1 223.2,112.0 224.9,112.1 226.6,112.1 228.3,111.9 230.0,112.3 231.7,112.2 233.4,112.2 235.1,112.1 236.8,112.2 238.5,112.0 240.2,112.2 241.9,112.2 243.6,111.8 245.3,111.5 247.0,111.4 248.7,111.3 250.3,111.3 252.0,111.3 253.7,111.3 255.4,111.0 257.1,110.8 258.8,111.0 260.5,110.9 262.2,110.9 263.9,110.9 265.6,111.0 267.3,111.0 269.0,110.9 270.7,110.9 272.4,111.1 274.1,111.2 275.8,111.1 277.4,111.0 279.1,111.2 280.8,110.8 282.5,110.9 284.2,110.7 285.9,110.7 287.6,110.8 289.3,110.7 291.0,110.3 292.7,110.4 294.4,110.3 296.1,110.3 297.8,110.3 299.5,110.4 301.2,110.5 302.9,110.1 304.6,110.1 306.3,110.1 308.0,110.1 309.7,110.1 311.4,109.9 313.1,109.8 314.8,109.7 316.5,109.6 318.2,109.3 319.9,109.0 321.6,108.9 323.3,109.3 325.0,109.2 326.7,109.8 328.4,110.2 330.1,110.1 331.9,109.7 333.6,109.9 335.3,110.0 337.0,109.9 338.7,109.9 340.4,109.7 342.1,109.6 343.8,110.0 345.5,109.9 347.2,109.5 348.9,109.7 350.6,109.7 352.3,109.9 354.0,110.0 355.7,109.7 357.4,109.6 359.1,109.4 360.8,109.4 362.5,109.6 364.2,109.6 365.9,109.5 367.6,109.2 369.3,109.3 371.0,109.3 372.7,109.2 374.5,109.1 376.2,108.8 377.9,108.8 379.7,108.3 381.4,108.3 383.1,108.5 384.8,108.3 386.6,108.4 388.3,108.7 390.0,108.9 391.8,108.6 393.5,108.5 395.2,108.6 397.0,108.5 398.7,108.7 400.4,108.8 402.2,108.5 403.9,108.0 405.6,107.8 407.3,107.8 409.1,107.9 410.8,107.8 412.5,107.7 414.3,107.8 416.0,107.8 417.7,107.7 419.4,108.1 421.0,108.1 422.7,108.4 424.4,108.1 426.1,108.0 427.8,107.8 429.5,108.0 431.1,107.6 432.8,107.2 434.5,106.4 436.2,106.6 437.9,106.8 439.5,107.1 441.2,106.7 442.9,106.4 444.6,106.5 446.3,106.5 448.0,106.6 449.6,106.5 451.3,105.9 453.0,105.5 454.7,105.0 456.4,105.0 458.0,105.0 459.7,104.9 461.4,104.6 463.1,104.9 464.8,105.1 466.5,105.4 468.1,105.7 469.8,105.6 471.5,105.7 473.2,105.3 474.9,105.8 476.5,105.5 478.2,105.7 479.9,105.5 481.6,105.2 483.3,105.0 485.0,105.1 486.6,105.7 488.3,105.5 490.0,105.5 491.7,105.9 493.4,106.1 495.2,106.0 496.9,105.9 498.6,105.5 500.3,105.4 502.1,105.0 503.8,105.0 505.5,104.5 507.2,104.5 509.0,104.3 510.7,104.3 512.4,104.6 514.1,104.6 515.9,104.4 517.6,104.4 519.3,104.6 521.0,104.6 522.8,104.7 524.5,104.7 526.2,104.2 527.9,104.2 529.7,104.6 531.4,104.6 533.1,104.4 534.8,104.1 536.6,103.1 538.3,103.0 540.0,103.5" fill="none" stroke="#EDB120" stroke-width="4.0" stroke-linejoin="round"/>
<polyline points="42.0,114.5 43.7,114.4 45.4,114.5 47.1,114.7 48.8,114.6 50.5,114.7 52.2,114.4 53.9,114.4 55.6,114.4 57.2,114.4 58.9,114.4 60.6,114.5 62.3,114.4 64.0,114.3 65.7,114.4 67.4,114.3 69.1,114.2 70.8,114.2 72.5,114.2 74.2,114.3 75.9,114.3 77.6,114.3 79.3,114.3 81.0,114.3 82.7,114.2 84.3,114.4 86.0,114.3 87.7,114.2 89.4,114.1 91.1,114.1 92.8,114.1 94.5,114.1 96.2,113.9 97.9,113.9 99.6,113.9 101.3,113.8 103.0,113.8 104.7,113.8 106.4,113.8 108.1,113.8 109.8,113.8 111.4,113.6 113.1,113.6 114.8,113.6 116.5,113.5 118.2,113.5 119.9,113.6 121.6,113.5 123.3,113.6 125.0,113.5 126.7,113.5 128.4,113.6 130.1,113.7 131.9,113.5 133.6,113.4 135.3,113.3 137.0,113.1 138.7,113.1 140.4,113.1 142.1,112.9 143.9,112.9 145.6,112.7 147.3,112.7 149.0,112.7 150.7,112.7 152.4,112.9 154.1,112.6 155.9,112.5 157.6,112.5 159.3,112.5 161.0,112.6 162.7,112.7 164.4,112.8 166.1,112.8 167.9,112.9 169.6,112.9 171.3,112.8 173.0,112.7 174.7,112.6 176.4,112.3 178.1,112.3 179.9,111.9 181.6,111.9 183.3,111.7 185.0,111.8 186.7,111.7 188.3,111.5 190.0,111.5 191.7,111.4 193.3,111.5 195.0,111.5 196.7,111.6 198.3,111.6 200.0,111.4 201.7,111.3 203.3,111.5 205.0,111.3 206.7,111.2 208.3,111.1 210.0,111.0 211.7,111.0 213.3,111.2 215.0,111.3 216.7,111.2 218.3,111.1 220.0,111.0 221.7,110.8 223.3,110.7 225.0,111.0 226.7,111.1 228.3,111.1 230.0,110.9 231.7,111.1 233.3,111.0 235.0,111.5 236.7,111.6 238.3,111.6 240.0,111.3 241.7,111.3 243.3,111.3 245.0,111.3 246.7,111.3 248.3,110.9 250.0,110.5 251.7,110.3 253.4,110.2 255.1,110.3 256.8,110.2 258.5,110.2 260.2,110.3 262.0,110.2 263.7,110.6 265.4,110.8 267.1,110.7 268.8,110.7 270.5,110.8 272.2,110.7 273.9,110.7 275.6,110.7 277.3,110.9 279.0,111.0 280.8,111.0 282.5,110.9 284.2,110.9 285.9,110.7 287.6,110.4 289.3,110.0 291.0,110.0 292.7,110.0 294.4,110.3 296.1,110.4 297.8,110.5 299.5,110.6 301.2,110.4 302.9,110.1 304.6,110.1 306.3,109.8 308.0,109.6 309.7,110.0 311.3,110.1 313.0,110.1 314.7,110.2 316.4,110.2 318.1,110.3 319.8,110.1 321.5,109.8 323.2,109.6 324.9,109.2 326.6,109.3 328.3,109.5 330.0,109.5 331.7,109.5 333.4,109.2 335.1,109.0 336.8,108.7 338.5,108.6 340.2,108.9 342.0,108.5 343.7,108.4 345.4,108.4 347.1,108.6 348.8,108.5 350.5,108.6 352.2,108.6 353.9,108.3 355.6,108.7 357.3,108.9 359.0,108.5 360.8,108.4 362.5,108.4 364.2,108.2 365.9,108.0 367.6,108.3 369.3,108.7 371.0,108.5 372.7,108.7 374.5,108.6 376.2,108.3 377.9,108.2 379.7,107.8 381.4,107.7 383.1,107.6 384.8,107.1 386.6,107.2 388.3,107.0 390.0,106.9 391.8,106.8 393.5,106.6 395.2,106.9 397.0,107.3 398.7,107.3 400.4,107.0 402.2,106.9 403.9,106.4 405.6,106.6 407.3,107.0 409.1,107.2 410.8,107.0 412.5,106.7 414.3,106.7 416.0,107.0 417.7,106.9 419.4,107.0 421.1,107.0 422.9,106.7 424.6,106.7 426.3,106.3 428.0,105.9 429.7,105.7 431.4,105.9 433.1,105.3 434.9,104.9 436.6,105.1 438.3,104.9 440.0,105.5 441.7,105.1 443.4,105.2 445.2,105.0 446.9,104.9 448.6,104.6 450.3,105.1 452.1,104.8 453.8,104.7 455.5,105.0 457.2,105.5 459.0,105.7 460.7,105.1 462.4,105.3 464.1,105.6 465.9,105.3 467.6,105.4 469.3,105.0 471.0,105.4 472.8,105.2 474.5,105.1 476.2,105.3 477.9,105.3 479.7,105.6 481.4,104.9 483.1,104.7 484.8,104.4 486.6,103.9 488.3,103.8 490.0,104.2 491.7,104.8 493.4,104.8 495.2,104.7 496.9,104.5 498.6,104.7 500.3,105.1 502.1,104.4 503.8,104.6 505.5,104.4 507.2,104.0 509.0,103.9 510.7,104.3 512.4,104.3 514.1,103.4 515.9,103.1 517.6,103.4 519.3,103.1 521.0,103.4 522.8,103.5 524.5,103.7 526.2,103.5 527.9,103.1 529.7,102.6 531.4,102.1 533.1,102.1 534.8,102.0 536.6,102.4 538.3,102.4 540.0,101.7" fill="none" stroke="#EDB120" stroke-width="4.0" stroke-linejoin="round"/>
<polyline points="42.0,112.2 43.7,112.2 45.4,112.2 47.1,112.4 48.8,112.2 50.5,112.2 52.2,112.4 53.9,112.4 55.6,112.5 57.2,112.3 58.9,112.1 60.6,112.2 62.3,112.4 64.0,112.3 65.7,112.4 67.4,112.4 69.1,112.3 70.8,112.4 72.5,112.5 74.2,112.7 75.9,112.6 77.6,112.7 79.3,112.6 81.0,112.6 82.7,112.3 84.3,112.3 86.0,112.3 87.7,112.4 89.4,112.4 91.1,112.4 92.8,112.5 94.5,112.6 96.2,112.5 97.9,112.6 99.6,112.6 101.3,112.3 103.0,112.3 104.7,112.6 106.4,112.4 108.1,112.4 109.8,112.4 111.4,112.4 113.1,112.4 114.8,112.3 116.5,112.3 118.2,112.3 119.9,112.3 121.6,112.1 123.3,112.2 125.0,112.2 126.7,112.2 128.4,112.3 130.1,112.2 131.9,112.1 133.6,112.0 135.3,112.0 137.0,111.9 138.7,111.9 140.4,111.9 142.1,111.6 143.9,111.8 145.6,111.9 147.3,112.0 149.0,111.9 150.7,111.5 152.4,111.6 154.1,111.7 155.9,111.6 157.6,111.5 159.3,111.6 161.0,111.6 162.7,111.7 164.4,111.7 166.1,111.7 167.9,111.7 169.6,111.7 171.3,111.7 173.0,111.6 174.7,111.6 176.4,111.6 178.1,111.7 179.9,111.7 181.6,111.8 183.3,112.0 185.0,112.0 186.7,112.1 188.3,112.0 190.0,112.2 191.7,112.3 193.3,112.3 195.0,111.8 196.7,111.9 198.3,111.9 200.0,111.9 201.7,111.8 203.3,111.9 205.0,111.9 206.7,112.0 208.3,111.8 210.0,112.0 211.7,111.9 213.3,111.8 215.0,111.8 216.7,111.8 218.3,111.8 220.0,112.0 221.7,111.9 223.3,111.8 225.0,111.8 226.7,111.6 228.4,111.5 230.1,111.4 231.8,111.3 233.5,111.2 235.2,111.0 236.8,110.9 238.5,110.8 240.2,110.9 241.9,111.0 243.6,110.9 245.3,110.8 247.0,110.8 248.7,110.8 250.4,110.8 252.1,110.8 253.8,110.7 255.5,110.6 257.2,110.6 258.8,110.9 260.5,111.1 262.2,111.0 263.9,110.9 265.6,110.8 267.3,110.7 269.0,110.7 270.7,111.2 272.4,111.3 274.1,111.6 275.8,111.3 277.5,111.3 279.2,111.3 280.8,111.4 282.5,111.6 284.2,111.5 285.9,111.3 287.6,111.3 289.3,111.1 291.0,111.2 292.7,111.4 294.4,111.2 296.1,111.3 297.8,111.4 299.5,111.6 301.2,112.1 302.9,112.2 304.6,112.4 306.3,112.3 308.0,112.2 309.7,112.0 311.4,111.9 313.1,111.7 314.8,111.6 316.5,111.5 318.2,111.6 319.9,111.3 321.6,111.4 323.3,111.1 325.0,111.1 326.7,111.1 328.4,110.9 330.1,110.8 331.9,110.9 333.6,111.1 335.3,111.2 337.0,111.0 338.7,110.8 340.4,110.7 342.1,110.7 343.8,110.4 345.5,110.4 347.2,110.5 348.9,110.5 350.6,110.6 352.3,110.4 354.0,110.6 355.7,110.6 357.4,110.7 359.1,110.5 360.8,110.7 362.5,110.7 364.2,110.5 365.9,110.2 367.6,110.3 369.3,110.5 371.0,110.5 372.7,110.4 374.5,110.3 376.2,110.3 377.9,110.6 379.7,110.5 381.4,110.4 383.1,110.6 384.8,110.5 386.6,110.2 388.3,110.1 390.0,110.2 391.8,110.1 393.5,110.2 395.2,110.3 397.0,110.5 398.7,110.0 400.4,109.8 402.2,109.7 403.9,109.9 405.6,109.8 407.3,109.7 409.1,109.6 410.8,109.7 412.5,109.1 414.3,109.0 416.0,109.0 417.7,109.4 419.4,109.1 421.1,108.9 422.9,108.6 424.6,108.5 426.3,108.6 428.0,108.5 429.7,108.5 431.4,108.6 433.1,108.8 434.9,108.6 436.6,108.7 438.3,108.5 440.0,108.5 441.7,108.0 443.4,108.1 445.2,108.3 446.9,108.6 448.6,108.2 450.3,108.2 452.1,108.1 453.8,108.0 455.5,107.5 457.2,108.1 459.0,108.2 460.7,108.3 462.4,108.5 464.1,108.5 465.9,108.3 467.6,108.1 469.3,108.0 471.0,108.2 472.8,108.3 474.5,108.3 476.2,108.3 477.9,108.3 479.7,107.9 481.4,108.1 483.1,108.1 484.8,108.1 486.6,107.9 488.3,107.9 490.0,108.2 491.7,108.7 493.4,108.0 495.2,107.8 496.9,107.8 498.6,108.2 500.3,107.9 502.1,108.1 503.8,108.2 505.5,108.2 507.2,108.3 509.0,108.5 510.7,108.4 512.4,108.3 514.1,107.9 515.9,108.4 517.6,108.0 519.3,107.9 521.0,108.3 522.8,108.2 524.5,107.9 526.2,107.9 527.9,107.9 529.7,107.5 531.4,107.6 533.1,107.7 534.8,107.8 536.6,107.6 538.3,107.3 540.0,106.7" fill="none" stroke="#A2142F" stroke-width="4.0" stroke-linejoin="round"/>
<polyline points="42.0,117.3 43.7,117.4 45.4,117.7 47.1,118.0 48.8,118.3 50.5,118.4 52.2,118.6 54.0,118.7 55.7,118.4 57.4,118.3 59.1,118.2 60.8,118.0 62.5,118.0 64.2,118.1 65.9,118.4 67.6,118.3 69.3,118.2 71.0,118.3 72.8,118.3 74.5,118.2 76.2,118.2 77.9,118.1 79.6,118.1 81.3,118.4 83.0,118.3 84.7,118.3 86.4,118.3 88.1,118.0 89.8,118.3 91.4,118.3 93.1,118.5 94.8,118.5 96.5,118.6 98.2,118.9 99.9,118.7 101.6,118.8 103.2,119.4 104.9,119.3 106.6,119.4 108.3,119.6 110.0,119.6 111.7,119.6 113.3,119.9 115.0,120.1 116.7,120.0 118.3,120.0 120.0,120.0 121.7,120.0 123.3,120.3 125.0,120.3 126.7,119.9 128.3,120.0 130.0,119.9 131.7,119.9 133.3,120.0 135.0,120.0 136.7,119.9 138.3,120.4 140.0,120.3 141.7,120.6 143.3,120.5 145.0,121.0 146.7,120.9 148.3,121.4 150.0,122.0 151.7,122.6 153.3,123.3 155.0,123.3 156.7,123.5 158.3,123.5 160.0,123.5 161.7,123.5 163.3,123.1 165.0,123.6 166.7,123.9 168.3,123.6 170.0,123.6 171.7,123.2 173.3,123.1 175.0,123.6 176.7,123.6 178.3,123.7 180.0,124.3 181.7,124.0 183.3,124.2 185.0,124.0 186.7,124.5 188.3,124.6 190.0,125.3 191.7,125.0 193.3,125.3 195.0,125.3 196.7,125.7 198.3,125.7 200.0,125.5 201.7,125.4 203.3,125.5 205.0,125.4 206.7,125.2 208.3,125.5 210.0,126.0 211.7,126.2 213.3,126.4 215.0,126.5 216.7,126.9 218.3,126.9 220.0,127.1 221.7,127.9 223.3,127.7 225.0,127.5 226.7,126.9 228.3,126.7 230.0,126.9 231.7,127.3 233.3,127.4 235.0,127.9 236.7,127.7 238.3,127.6 240.0,126.8 241.7,127.5 243.3,128.5 245.0,128.8 246.7,128.6 248.3,129.6 250.0,130.0 251.7,130.2 253.4,130.1 255.1,130.0 256.8,130.2 258.5,130.8 260.2,131.3 262.0,132.0 263.7,132.5 265.4,132.9 267.1,135.1 268.8,135.8 270.5,135.0 272.2,135.3 273.9,135.9 275.6,136.5 277.3,136.7 279.0,137.4 280.8,138.1 282.5,138.4 284.2,138.2 285.9,138.5 287.6,137.5 289.3,137.7 291.0,136.7 292.7,136.4 294.4,136.7 296.1,137.5 297.8,137.9 299.5,137.9 301.2,137.9 302.9,138.7 304.6,139.0 306.3,138.2 308.1,138.0 309.8,137.5 311.5,136.7 313.3,135.9 315.1,136.5 316.9,136.1 318.7,136.4 320.5,136.7 322.1,135.9 323.8,136.3 325.4,136.1 327.1,135.7 328.7,135.9 330.4,134.9 332.0,135.6 333.7,136.1 335.4,137.2 337.0,137.5 338.7,137.9 340.5,138.8 342.3,139.3 344.2,139.3 346.0,139.6 347.8,141.3 349.4,141.3 351.0,140.9 352.6,141.0 354.2,141.3 355.8,142.6 357.4,143.4 359.0,143.5 360.8,144.4 362.6,145.1 364.4,146.5 366.2,146.1 368.0,147.0 369.8,148.4 371.5,150.2 373.2,151.9 375.0,152.6 376.8,153.9 378.5,154.9 380.2,154.6 382.0,152.6 383.8,153.1 385.5,152.2 387.3,151.3 389.1,152.0 390.9,151.9 392.7,151.1 394.5,150.5 396.3,150.1 398.1,150.8 400.0,149.1 401.8,149.8 403.6,149.9 405.4,151.2 407.2,151.1 409.0,152.0 410.9,151.9 412.7,150.4 414.5,151.5 416.4,154.2 417.8,153.5 419.3,154.9 420.7,155.6 422.1,153.5 423.6,153.5 425.5,152.4 427.3,152.4 429.1,153.4 431.0,152.7 432.4,153.3 433.9,153.8 435.3,154.2 437.2,155.6 439.1,156.1 441.0,157.0 442.5,155.7 444.0,154.3 445.5,155.5 447.3,157.0 449.2,158.7 451.0,158.2 452.8,157.7 454.5,159.0 456.3,161.1 458.2,162.5 460.0,163.6 461.8,164.5 463.6,166.3 465.5,164.1 467.3,168.2 469.1,170.5 470.9,169.9 472.7,172.7 474.5,174.7 476.2,173.2 478.0,171.0 479.9,169.9 481.7,169.8 483.6,169.0 485.4,170.6 487.2,170.8 489.0,171.8 490.8,174.4 492.7,176.8 494.5,173.6 496.3,173.3 498.2,175.5 500.0,175.5 501.8,178.3 503.7,178.2 505.5,180.0 507.2,182.6 509.0,184.5 510.8,183.4 512.7,184.8 514.5,183.6 516.3,183.1 518.1,184.0 520.0,185.6 521.8,188.2 523.6,191.5 525.5,194.5 527.2,196.8 529.0,197.3 530.9,191.8 532.7,192.7 534.5,193.4 536.4,193.6 538.2,194.2 540.0,195.5" fill="none" stroke="#4DBEEE" stroke-width="4.0" stroke-linejoin="round"/>
<polyline points="42.0,117.3 43.7,117.2 45.4,117.4 47.1,117.3 48.8,117.3 50.5,117.6 52.2,117.3 54.0,117.2 55.7,117.1 57.4,117.0 59.1,117.0 60.8,117.4 62.5,117.1 64.2,117.0 65.9,117.0 67.6,117.4 69.3,117.6 71.0,117.5 72.8,117.4 74.5,117.7 76.2,117.9 77.9,118.0 79.6,118.0 81.3,117.9 83.0,118.1 84.7,118.2 86.4,118.1 88.1,118.0 89.8,117.7 91.4,117.8 93.1,117.8 94.8,117.9 96.5,118.0 98.2,118.4 99.9,118.3 101.6,118.4 103.2,118.6 104.9,118.8 106.6,119.1 108.3,119.2 110.0,119.3 111.7,119.3 113.3,119.3 115.0,119.2 116.7,120.0 118.3,120.5 120.0,120.3 121.7,120.6 123.3,120.6 125.0,120.9 126.7,121.0 128.3,120.7 130.0,120.5 131.7,120.5 133.3,120.7 135.0,121.2 136.7,121.2 138.3,121.4 140.0,121.3 141.7,121.3 143.3,121.6 145.0,121.9 146.7,122.2 148.3,121.7 150.0,121.5 151.7,121.9 153.3,121.9 155.0,122.1 156.7,122.8 158.3,123.0 160.0,123.1 161.7,123.0 163.3,122.7 165.0,123.2 166.7,123.2 168.3,123.5 170.0,123.1 171.7,123.7 173.3,123.6 175.0,123.2 176.7,123.3 178.3,123.4 180.0,123.4 181.7,123.2 183.3,123.2 185.0,123.3 186.7,123.3 188.3,123.6 190.0,123.6 191.7,123.5 193.3,123.8 195.0,123.8 196.7,124.5 198.3,125.0 200.0,124.2 201.7,123.8 203.3,124.4 205.0,124.1 206.7,124.0 208.3,124.4 210.0,124.9 211.7,125.2 213.3,124.9 215.0,125.3 216.7,125.9 218.3,126.2 220.0,125.7 221.7,126.1 223.3,126.3 225.0,126.5 226.7,126.5 228.3,127.0 230.0,126.5 231.7,126.7 233.3,126.2 235.0,126.0 236.7,126.4 238.3,127.1 240.0,127.5 241.7,127.7 243.3,128.4 245.0,128.3 246.7,128.5 248.3,128.2 250.0,128.5 251.7,128.7 253.4,128.8 255.1,128.6 256.8,129.0 258.5,129.1 260.2,129.2 262.0,129.4 263.7,129.1 265.4,129.0 267.1,128.8 268.8,128.9 270.5,129.3 272.2,129.0 273.9,130.0 275.6,130.1 277.3,130.3 279.0,130.7 280.8,130.7 282.5,131.5 284.2,131.3 285.9,131.7 287.6,131.5 289.3,130.7 291.0,131.0 292.6,130.6 294.3,130.8 295.9,131.5 297.5,132.0 299.1,132.0 300.8,133.1 302.4,133.3 304.0,134.1 305.6,133.4 307.2,132.4 308.9,132.9 310.5,132.0 312.1,131.9 313.7,132.2 315.3,132.2 316.9,131.6 318.5,131.6 320.2,131.7 321.8,131.5 323.4,131.1 325.0,131.0 326.6,131.2 328.3,131.2 329.9,131.2 331.5,132.3 333.1,132.9 334.8,133.3 336.4,133.3 338.1,133.6 339.8,134.4 341.5,134.8 343.2,134.0 344.9,134.8 346.6,135.0 348.3,135.4 350.0,136.7 351.8,137.7 353.6,138.1 355.4,138.7 357.2,138.7 359.0,139.0 360.8,139.8 362.6,140.4 364.4,140.8 366.2,141.0 368.0,141.3 369.6,142.2 371.1,144.0 372.7,143.8 374.3,143.0 375.8,142.2 377.4,142.4 379.0,142.1 380.7,143.6 382.4,143.3 384.0,142.6 385.6,141.9 387.3,142.5 389.1,142.1 390.9,141.5 392.7,140.8 394.5,140.4 396.3,141.4 398.1,140.9 400.0,141.8 401.8,141.1 403.6,142.3 405.4,141.5 407.2,143.3 409.0,144.0 410.9,144.6 412.7,145.6 414.5,145.9 416.4,145.5 418.2,145.3 420.0,144.5 421.8,146.8 423.6,146.9 425.5,147.0 427.3,147.4 429.1,147.0 431.0,147.6 432.8,147.9 434.5,147.4 436.2,145.9 438.0,146.9 439.5,145.7 441.0,145.3 442.5,144.7 444.0,144.7 445.9,143.6 447.9,144.2 449.8,146.9 451.7,146.2 453.7,146.5 455.6,148.4 457.1,149.9 458.5,150.6 460.0,149.8 461.8,151.2 463.6,149.6 465.5,148.5 467.3,149.8 469.1,151.0 470.9,149.5 472.7,149.6 474.5,151.3 476.3,151.4 478.1,150.3 480.0,151.2 481.8,152.7 483.6,153.1 485.4,153.7 487.2,155.2 489.0,155.0 490.9,155.8 492.7,157.3 494.5,157.2 496.4,157.8 498.2,157.4 500.0,157.4 501.8,159.9 503.6,160.7 505.5,160.0 507.3,159.6 509.1,161.4 511.0,161.5 512.8,161.4 514.5,163.6 516.2,165.5 518.0,165.0 519.9,167.0 521.8,167.8 523.6,171.5 525.5,172.4 527.4,171.2 529.4,170.5 531.3,172.4 533.2,170.2 535.1,169.5 537.0,168.0 538.5,168.0 540.0,167.3" fill="none" stroke="#4DBEEE" stroke-width="4.0" stroke-linejoin="round"/>
<polyline points="42.0,117.3 43.7,117.3 45.4,117.4 47.1,117.5 48.8,117.6 50.5,117.7 52.2,117.6 53.9,117.5 55.6,117.7 57.3,117.3 59.0,117.3 60.7,117.2 62.4,117.2 64.1,117.2 65.8,117.2 67.5,117.3 69.2,117.3 70.9,117.2 72.6,117.3 74.3,117.5 76.0,117.8 77.7,117.9 79.4,117.8 81.1,118.0 82.8,118.0 84.5,118.1 86.2,118.0 87.9,117.9 89.6,118.0 91.3,118.2 93.0,118.2 94.7,118.5 96.4,118.5 98.1,118.2 99.8,118.3 101.5,118.0 103.2,117.8 104.9,117.7 106.6,117.9 108.3,118.0 110.0,118.0 111.7,118.1 113.3,117.8 115.0,118.2 116.7,118.2 118.3,118.1 120.0,118.1 121.7,118.3 123.3,118.3 125.0,118.3 126.7,118.3 128.3,118.2 130.0,118.2 131.7,118.2 133.3,118.2 135.0,118.1 136.7,118.3 138.3,118.4 140.0,118.7 141.7,118.8 143.3,118.8 145.0,118.8 146.7,119.0 148.3,119.0 150.0,118.8 151.7,118.7 153.3,118.4 155.0,118.7 156.7,119.0 158.3,118.8 160.0,118.7 161.7,118.6 163.3,118.5 165.0,118.7 166.7,118.8 168.3,118.9 170.0,119.0 171.7,119.2 173.3,119.4 175.0,119.1 176.7,119.0 178.3,119.2 180.0,118.9 181.7,119.2 183.3,119.5 185.0,119.6 186.7,119.7 188.3,119.7 190.0,120.1 191.7,120.3 193.3,120.4 195.0,120.1 196.7,120.4 198.3,120.3 200.0,120.5 201.7,120.5 203.3,120.7 205.0,121.1 206.7,120.8 208.3,120.8 210.0,120.7 211.7,120.6 213.3,120.7 215.0,120.6 216.7,120.4 218.3,120.3 220.0,120.8 221.7,120.8 223.3,120.7 225.0,120.9 226.7,120.7 228.3,120.9 230.0,121.2 231.7,121.4 233.3,121.5 235.0,121.0 236.7,121.4 238.3,121.6 240.0,122.0 241.7,122.7 243.3,122.5 245.0,122.8 246.7,122.6 248.3,122.9 250.0,123.0 251.7,123.4 253.4,123.4 255.1,123.3 256.8,123.2 258.5,123.3 260.2,123.9 262.0,123.4 263.7,123.0 265.4,123.0 267.1,122.9 268.8,122.6 270.5,123.3 272.2,123.2 273.9,123.8 275.6,123.7 277.3,123.0 279.0,123.4 280.8,124.0 282.5,124.4 284.2,125.1 285.9,124.9 287.6,124.7 289.3,125.0 291.0,125.0 292.7,125.3 294.5,125.2 296.2,125.2 297.9,125.4 299.7,125.5 301.4,125.6 303.1,125.5 304.9,126.1 306.6,126.2 308.3,126.1 310.1,126.3 311.8,126.0 313.5,126.3 315.3,127.0 317.0,127.1 318.7,126.8 320.5,126.4 322.2,126.4 323.9,126.1 325.7,125.8 327.4,125.9 329.2,125.7 330.9,125.9 332.7,126.0 334.5,125.9 336.2,126.4 338.0,126.9 339.8,126.9 341.5,126.6 343.3,127.0 345.0,127.5 346.8,127.4 348.5,127.2 350.3,127.9 352.0,128.7 353.8,128.7 355.5,128.5 357.3,128.7 359.0,128.5 360.8,128.6 362.5,128.9 364.2,129.3 366.0,129.7 367.8,129.2 369.5,128.2 371.2,128.8 373.0,128.9 374.8,129.3 376.5,129.2 378.2,129.8 380.0,130.2 381.6,130.1 383.2,130.9 384.8,130.1 386.4,129.4 388.1,129.7 389.7,130.4 391.3,130.3 392.9,130.6 394.5,131.0 396.1,131.2 397.7,131.9 399.3,132.5 400.9,132.7 402.6,132.4 404.2,132.6 405.8,132.6 407.4,132.1 409.0,131.6 410.6,131.5 412.2,131.1 413.9,130.9 415.5,131.3 417.1,131.9 418.7,132.1 420.4,132.2 422.0,132.0 423.6,132.4 425.4,132.6 427.2,132.4 429.0,131.8 430.8,132.3 432.6,131.6 434.4,132.3 436.2,132.7 438.0,133.1 439.6,133.1 441.3,133.8 442.9,133.6 444.5,133.5 446.2,132.9 447.8,132.7 449.4,132.3 451.1,131.6 452.7,132.4 454.5,132.9 456.4,132.9 458.2,132.1 460.0,132.4 461.7,132.6 463.3,132.6 465.0,131.8 466.6,132.4 468.3,133.3 469.9,133.1 471.6,132.4 473.3,132.9 475.0,132.5 476.7,132.9 478.4,133.4 480.1,133.4 481.8,134.5 483.6,135.2 485.4,136.1 487.2,137.2 489.0,138.2 490.8,139.6 492.5,139.6 494.3,140.6 496.0,141.0 497.8,141.1 499.5,141.5 501.3,142.4 503.0,142.6 504.8,142.1 506.5,143.3 508.3,144.0 510.0,144.2 511.8,145.4 513.5,144.3 515.3,145.5 517.1,144.7 518.9,144.6 520.7,145.7 522.5,147.0 524.0,147.5 525.5,147.6 527.0,148.4 529.0,149.7 531.0,148.6 532.8,148.8 534.6,148.0 536.4,148.6 538.2,149.3 540.0,150.0" fill="none" stroke="#4DBEEE" stroke-width="4.0" stroke-linejoin="round"/>
<polyline points="42.0,116.0 43.7,115.9 45.4,115.7 47.1,115.9 48.8,115.9 50.5,115.9 52.2,115.9 53.9,115.9 55.6,115.7 57.2,115.8 58.9,116.1 60.6,116.0 62.3,116.1 64.0,115.9 65.7,115.8 67.4,115.7 69.1,115.6 70.8,115.5 72.5,115.5 74.2,115.5 75.9,115.6 77.6,115.7 79.3,115.7 81.0,115.7 82.7,115.6 84.3,115.6 86.0,115.6 87.7,115.6 89.4,115.5 91.1,115.6 92.8,115.7 94.5,115.6 96.2,115.6 97.9,115.5 99.6,115.4 101.3,115.3 103.0,115.3 104.7,115.3 106.4,115.4 108.1,115.4 109.8,115.4 111.4,115.5 113.1,115.4 114.8,115.5 116.5,115.5 118.2,115.6 119.9,115.8 121.6,116.0 123.3,115.9 125.0,116.0 126.7,116.0 128.4,115.9 130.1,116.0 131.9,116.0 133.6,116.0 135.3,115.9 137.0,116.0 138.7,115.9 140.4,115.8 142.1,115.8 143.9,115.8 145.6,115.7 147.3,115.6 149.0,115.6 150.7,115.6 152.4,115.8 154.1,116.0 155.9,116.0 157.6,115.9 159.3,115.9 161.0,115.8 162.7,115.9 164.4,115.9 166.1,116.0 167.9,115.9 169.6,116.0 171.3,116.1 173.0,116.1 174.7,116.4 176.4,116.4 178.1,116.4 179.9,116.5 181.6,116.4 183.3,116.5 185.0,116.5 186.7,116.6 188.4,116.8 190.1,116.7 191.8,116.8 193.6,116.8 195.3,116.8 197.0,116.8 198.7,116.9 200.4,117.2 202.1,117.2 203.8,117.2 205.5,117.4 207.2,117.4 208.9,117.4 210.7,117.6 212.4,117.8 214.1,117.7 215.8,117.7 217.5,117.8 219.2,117.8 220.9,117.8 222.6,117.6 224.3,117.8 226.1,117.6 227.8,117.7 229.5,117.7 231.2,117.8 232.9,118.1 234.6,117.9 236.3,117.9 238.0,117.9 239.7,118.0 241.4,118.0 243.2,118.1 244.9,118.1 246.6,118.1 248.3,118.2 250.0,118.0 251.7,117.9 253.4,118.2 255.1,118.4 256.8,118.3 258.5,118.8 260.2,119.0 262.0,119.0 263.7,119.5 265.4,119.4 267.1,119.5 268.8,119.6 270.5,119.6 272.2,119.8 273.9,119.8 275.6,120.0 277.3,119.5 279.0,119.7 280.8,119.6 282.5,120.0 284.2,120.0 285.9,120.1 287.6,120.4 289.3,120.7 291.0,121.0 292.8,121.2 294.5,121.8 296.2,122.5 298.0,122.8 299.8,123.8 301.5,124.3 303.2,125.2 305.0,126.0 306.7,125.9 308.3,126.1 310.0,126.3 311.7,126.5 313.3,126.6 315.0,127.2 316.7,127.5 318.3,128.0 320.0,128.5 321.7,129.2 323.3,129.7 325.0,129.5 326.7,129.4 328.3,129.2 330.0,128.7 331.7,129.2 333.3,129.2 335.0,129.0 336.7,130.2 338.3,130.1 340.0,130.5 341.7,130.7 343.3,131.0 345.0,130.8 346.7,131.1 348.3,131.6 350.0,131.0 351.8,130.4 353.6,130.5 355.3,131.1 357.1,131.5 358.9,132.7 360.7,133.8 362.4,133.0 364.2,133.2 366.0,133.5 367.8,134.4 369.5,134.5 371.2,135.7 373.0,135.7 374.8,136.7 376.5,137.4 378.2,138.0 380.0,138.2 381.7,137.4 383.3,137.9 385.0,138.1 386.6,138.1 388.3,138.0 389.9,137.9 391.6,137.5 393.5,138.3 395.3,138.8 397.1,139.2 399.0,139.6 400.7,138.9 402.3,138.6 404.0,139.1 405.7,140.2 407.3,140.2 409.0,141.0 410.8,142.1 412.5,141.4 414.3,141.7 416.0,141.5 417.8,142.5 419.5,143.7 421.2,144.1 422.9,145.2 424.6,144.5 426.3,145.8 428.0,144.0 429.7,143.7 431.3,144.4 433.0,145.0 434.7,145.0 436.3,145.2 438.0,146.9 439.9,148.8 441.8,148.9 443.6,149.4 445.5,148.4 447.3,147.6 449.1,146.9 450.9,146.3 452.7,146.2 454.5,146.1 456.4,146.8 458.2,146.0 460.0,147.0 461.6,147.2 463.2,146.9 464.8,147.7 466.4,148.5 468.1,149.6 469.7,149.1 471.3,147.3 472.9,147.0 474.5,147.0 476.1,147.3 477.7,146.3 479.3,146.5 480.9,147.8 482.6,148.9 484.2,147.9 485.8,147.0 487.4,147.1 489.0,147.6 490.9,147.7 492.7,148.5 494.5,147.9 496.4,149.1 498.2,147.7 500.0,149.3 501.8,149.2 503.6,149.8 505.4,149.4 507.2,151.1 509.0,150.8 510.8,151.6 512.6,151.1 514.4,152.2 516.2,150.6 518.0,149.1 519.9,148.6 521.8,148.9 523.6,148.1 525.5,149.8 527.3,149.3 529.1,149.4 530.9,150.6 532.7,151.3 534.5,152.0 536.4,150.8 538.2,150.8 540.0,150.5" fill="none" stroke="#A2142F" stroke-width="4.0" stroke-linejoin="round"/>
<polyline points="42.0,116.0 43.7,116.2 45.4,116.3 47.1,116.3 48.8,116.2 50.5,116.1 52.2,116.1 53.9,116.3 55.6,116.1 57.2,116.1 58.9,116.2 60.6,116.1 62.3,116.1 64.0,116.0 65.7,116.0 67.4,115.7 69.1,115.8 70.8,115.8 72.5,115.7 74.2,115.6 75.9,115.8 77.6,115.8 79.3,115.6 81.0,115.5 82.7,115.4 84.3,115.4 86.0,115.5 87.7,115.5 89.4,115.6 91.1,115.6 92.8,115.5 94.5,115.6 96.2,115.8 97.9,115.8 99.6,115.8 101.3,115.9 103.0,115.7 104.7,115.9 106.4,116.1 108.1,116.1 109.8,116.2 111.4,116.3 113.1,116.3 114.8,116.2 116.5,116.0 118.2,116.1 119.9,116.1 121.6,116.0 123.3,115.9 125.0,116.0 126.7,116.2 128.4,116.4 130.1,116.6 131.8,116.5 133.5,116.4 135.2,116.5 136.9,116.5 138.6,116.5 140.2,116.7 141.9,117.0 143.6,116.8 145.3,116.9 147.0,116.8 148.7,116.6 150.4,116.8 152.1,116.7 153.8,116.5 155.5,116.5 157.2,116.4 158.9,116.4 160.6,116.3 162.3,116.3 164.0,116.5 165.7,116.6 167.3,116.5 169.0,116.6 170.7,116.8 172.4,116.7 174.1,116.6 175.8,116.4 177.5,116.7 179.2,116.6 180.9,116.7 182.6,116.8 184.3,116.8 186.0,116.8 187.7,116.8 189.4,116.9 191.1,116.8 192.8,116.8 194.4,117.0 196.1,117.0 197.8,117.3 199.5,117.2 201.2,117.3 202.9,117.4 204.6,117.4 206.3,117.1 208.0,117.0 209.7,116.9 211.4,117.1 213.1,117.2 214.8,117.1 216.5,117.2 218.2,117.0 219.9,117.2 221.6,117.1 223.2,117.2 224.9,117.1 226.6,117.1 228.3,117.2 230.0,117.0 231.7,117.0 233.4,116.9 235.1,116.9 236.8,116.9 238.5,117.0 240.2,116.9 241.9,116.7 243.6,116.8 245.3,116.8 247.0,116.7 248.7,116.6 250.3,116.5 252.0,116.7 253.7,116.8 255.4,116.9 257.1,117.0 258.8,116.9 260.5,117.0 262.2,117.2 263.9,117.1 265.6,117.0 267.3,117.0 269.0,117.0 270.7,117.2 272.4,117.3 274.1,117.0 275.8,117.2 277.4,117.4 279.1,117.3 280.8,117.3 282.5,117.3 284.2,117.4 285.9,117.3 287.6,117.4 289.3,117.5 291.0,117.5 292.7,117.7 294.4,117.7 296.1,117.8 297.7,118.2 299.4,118.2 301.1,118.4 302.8,118.5 304.5,118.4 306.2,118.3 307.9,118.6 309.5,118.3 311.2,118.2 312.9,118.1 314.6,118.1 316.3,118.0 318.0,118.1 319.7,118.3 321.3,118.2 323.0,118.2 324.7,118.1 326.4,118.1 328.1,118.6 329.8,118.8 331.5,118.6 333.1,118.6 334.8,118.7 336.5,118.8 338.2,119.2 339.9,119.3 341.6,119.2 343.3,119.1 344.9,119.0 346.6,118.9 348.3,118.3 350.0,118.3 351.7,118.6 353.4,118.9 355.1,119.0 356.8,119.2 358.5,119.4 360.2,119.8 361.8,120.2 363.5,120.5 365.2,120.5 366.9,120.7 368.6,120.7 370.3,120.9 372.0,120.9 373.7,121.1 375.4,121.1 377.1,121.3 378.8,121.4 380.5,121.3 382.2,121.3 383.8,121.6 385.5,121.4 387.2,122.0 388.9,121.9 390.6,121.6 392.3,122.0 394.0,121.9 395.7,121.9 397.4,121.9 399.1,121.9 400.8,122.0 402.5,121.8 404.2,122.0 405.8,121.8 407.5,122.0 409.2,121.9 410.9,121.8 412.6,121.6 414.3,121.6 416.0,121.5 417.7,121.6 419.4,121.8 421.1,121.7 422.9,121.7 424.6,122.0 426.3,122.2 428.0,122.2 429.7,122.0 431.4,122.2 433.1,122.3 434.9,121.9 436.6,121.9 438.3,121.5 440.0,122.0 441.7,121.5 443.4,121.7 445.2,121.6 446.9,121.9 448.6,122.1 450.3,122.0 452.1,122.0 453.8,122.4 455.5,122.4 457.2,122.6 459.0,122.7 460.7,123.1 462.4,123.2 464.1,123.3 465.9,123.2 467.6,123.4 469.3,123.4 471.0,124.4 472.8,124.0 474.5,124.0 476.2,123.6 477.9,123.6 479.7,123.4 481.4,124.0 483.1,124.1 484.8,124.1 486.6,123.9 488.3,123.8 490.0,124.0 491.7,124.5 493.4,124.8 495.2,124.4 496.9,124.7 498.6,124.8 500.3,124.8 502.1,125.6 503.8,125.7 505.5,125.8 507.2,126.0 509.0,125.5 510.7,125.6 512.4,125.0 514.1,124.8 515.9,124.9 517.6,125.0 519.3,124.9 521.0,124.7 522.8,124.7 524.5,124.2 526.2,124.6 527.9,124.5 529.7,124.5 531.4,125.2 533.1,125.7 534.8,125.7 536.6,125.5 538.3,125.2 540.0,125.0" fill="none" stroke="#77AC30" stroke-width="4.0" stroke-linejoin="round"/>
<polyline points="42.0,116.0 43.7,115.9 45.4,115.9 47.1,116.1 48.8,116.1 50.5,115.8 52.2,115.7 53.9,115.9 55.6,116.0 57.2,116.0 58.9,116.1 60.6,116.0 62.3,116.2 64.0,116.4 65.7,116.3 67.4,116.3 69.1,116.4 70.8,116.4 72.5,116.5 74.2,116.3 75.9,116.3 77.6,116.4 79.3,116.5 81.0,116.6 82.7,116.5 84.3,116.7 86.0,116.8 87.7,116.7 89.4,116.8 91.1,116.8 92.8,116.7 94.5,116.6 96.2,116.6 97.9,116.4 99.6,116.4 101.3,116.3 103.0,116.3 104.7,116.4 106.4,116.5 108.1,116.4 109.8,116.6 111.4,116.6 113.1,116.5 114.8,116.4 116.5,116.5 118.2,116.4 119.9,116.4 121.6,116.4 123.3,116.3 125.0,116.4 126.7,116.4 128.4,116.2 130.1,116.2 131.8,116.1 133.5,116.3 135.2,116.2 136.9,116.1 138.6,116.1 140.2,116.2 141.9,116.0 143.6,116.0 145.3,116.1 147.0,116.3 148.7,116.4 150.4,116.4 152.1,116.3 153.8,116.3 155.5,116.6 157.2,116.8 158.9,116.8 160.6,116.9 162.3,116.9 164.0,116.7 165.7,117.0 167.3,116.8 169.0,116.8 170.7,116.8 172.4,116.8 174.1,116.8 175.8,116.7 177.5,116.8 179.2,116.8 180.9,116.8 182.6,116.8 184.3,116.7 186.0,116.5 187.7,116.4 189.4,116.4 191.1,116.4 192.8,116.4 194.4,116.3 196.1,116.2 197.8,116.3 199.5,116.3 201.2,116.5 202.9,116.4 204.6,116.3 206.3,116.5 208.0,116.5 209.7,116.5 211.4,116.8 213.1,116.7 214.8,116.6 216.5,116.8 218.2,116.9 219.9,116.6 221.6,116.7 223.2,116.7 224.9,116.7 226.6,116.6 228.3,116.8 230.0,116.9 231.7,116.9 233.4,116.9 235.1,116.9 236.8,116.9 238.5,117.0 240.2,117.2 241.9,117.0 243.6,117.1 245.3,116.8 247.0,116.9 248.7,117.1 250.3,117.0 252.0,117.1 253.7,117.3 255.4,117.3 257.1,117.1 258.8,117.3 260.5,117.2 262.2,117.2 263.9,117.1 265.6,117.1 267.3,117.1 269.0,117.0 270.7,117.1 272.4,117.2 274.1,117.0 275.8,116.9 277.4,116.9 279.1,117.1 280.8,117.0 282.5,117.0 284.2,116.9 285.9,117.1 287.6,117.1 289.3,117.0 291.0,117.0 292.7,117.3 294.4,117.3 296.1,117.4 297.7,117.0 299.4,116.9 301.1,116.7 302.8,116.7 304.5,116.8 306.2,116.7 307.9,116.8 309.5,116.8 311.2,117.0 312.9,117.1 314.6,116.9 316.3,117.1 318.0,117.0 319.7,117.1 321.3,116.9 323.0,116.8 324.7,117.1 326.4,116.8 328.1,116.5 329.8,116.8 331.5,117.1 333.1,117.1 334.8,117.1 336.5,117.1 338.2,117.1 339.9,117.4 341.6,117.5 343.3,117.6 344.9,117.6 346.6,117.5 348.3,117.5 350.0,117.5 351.7,117.6 353.4,117.8 355.1,117.7 356.8,117.8 358.5,117.9 360.2,117.7 361.8,117.8 363.5,117.9 365.2,117.4 366.9,117.6 368.6,117.4 370.3,117.5 372.0,117.6 373.7,117.6 375.4,117.8 377.1,117.9 378.8,117.4 380.5,117.4 382.2,117.8 383.8,118.0 385.5,118.3 387.2,118.6 388.9,118.6 390.6,119.0 392.3,118.8 394.0,118.9 395.7,119.2 397.4,119.1 399.1,119.2 400.8,119.2 402.5,119.3 404.2,119.1 405.8,119.3 407.5,119.5 409.2,119.4 410.9,119.5 412.6,119.6 414.3,119.6 416.0,120.0 417.7,119.7 419.4,119.9 421.0,120.0 422.7,119.9 424.4,120.0 426.1,119.9 427.8,120.1 429.5,120.1 431.1,120.5 432.8,120.4 434.5,120.7 436.2,120.8 437.9,120.6 439.5,121.2 441.2,121.2 442.9,121.4 444.6,121.3 446.3,121.3 448.0,121.2 449.6,121.4 451.3,121.6 453.0,122.0 454.7,122.1 456.4,122.1 458.0,122.2 459.7,122.1 461.4,122.1 463.1,122.2 464.8,122.4 466.5,122.4 468.1,122.3 469.8,122.1 471.5,122.3 473.2,122.2 474.9,121.9 476.5,122.2 478.2,121.9 479.9,121.7 481.6,121.9 483.3,122.0 485.0,122.2 486.6,122.3 488.3,122.7 490.0,122.5 491.7,123.1 493.4,123.3 495.2,123.1 496.9,123.1 498.6,122.7 500.3,122.6 502.1,123.0 503.8,123.2 505.5,123.3 507.2,122.9 509.0,122.8 510.7,122.6 512.4,122.0 514.1,122.5 515.9,122.3 517.6,122.1 519.3,121.9 521.0,121.7 522.8,121.9 524.5,122.1 526.2,122.3 527.9,122.0 529.7,122.0 531.4,122.1 533.1,122.6 534.8,122.4 536.6,122.7 538.3,123.0 540.0,123.3" fill="none" stroke="#77AC30" stroke-width="4.0" stroke-linejoin="round"/>
<polyline points="42.0,114.7 43.7,114.8 45.4,114.8 47.1,114.8 48.8,114.8 50.5,115.0 52.2,115.0 53.9,115.0 55.6,115.0 57.2,114.9 58.9,114.7 60.6,114.6 62.3,114.8 64.0,114.7 65.7,114.9 67.4,114.9 69.1,114.9 70.8,114.9 72.5,114.9 74.2,115.0 75.9,115.0 77.6,115.1 79.3,115.1 81.0,115.2 82.7,115.1 84.3,115.1 86.0,115.0 87.7,115.0 89.4,115.0 91.1,115.0 92.8,115.0 94.5,115.0 96.2,115.1 97.9,115.2 99.6,115.2 101.3,115.3 103.0,115.3 104.7,115.2 106.4,115.3 108.1,115.3 109.8,115.2 111.4,115.2 113.1,115.3 114.8,115.4 116.5,115.4 118.2,115.5 119.9,115.5 121.6,115.5 123.3,115.5 125.0,115.5 126.7,115.5 128.4,115.7 130.1,115.6 131.8,115.6 133.5,115.6 135.2,115.7 136.9,115.8 138.6,115.8 140.2,115.9 141.9,115.8 143.6,115.7 145.3,115.6 147.0,115.7 148.7,115.6 150.4,115.5 152.1,115.4 153.8,115.4 155.5,115.4 157.2,115.4 158.9,115.4 160.6,115.5 162.3,115.5 164.0,115.6 165.7,115.6 167.3,115.6 169.0,115.6 170.7,115.5 172.4,115.3 174.1,115.1 175.8,115.2 177.5,115.3 179.2,115.3 180.9,115.1 182.6,115.0 184.3,115.1 186.0,115.0 187.7,115.1 189.4,115.0 191.1,115.0 192.8,115.0 194.4,115.0 196.1,115.0 197.8,115.1 199.5,115.1 201.2,115.1 202.9,115.0 204.6,115.2 206.3,115.0 208.0,115.0 209.7,114.9 211.4,115.0 213.1,115.0 214.8,115.0 216.5,114.9 218.2,114.9 219.9,115.0 221.6,115.1 223.2,115.2 224.9,115.1 226.6,115.1 228.3,115.1 230.0,115.1 231.7,115.0 233.4,115.0 235.1,115.1 236.8,114.9 238.5,114.9 240.2,114.7 241.9,114.7 243.6,114.7 245.3,114.7 247.0,114.7 248.7,114.6 250.3,114.6 252.0,114.5 253.7,114.4 255.4,114.5 257.1,114.4 258.8,114.3 260.5,114.3 262.2,114.4 263.9,114.4 265.6,114.5 267.3,114.5 269.0,114.4 270.7,114.4 272.4,114.4 274.1,114.3 275.8,114.3 277.4,114.4 279.1,114.4 280.8,114.4 282.5,114.4 284.2,114.4 285.9,114.3 287.6,114.3 289.3,114.4 291.0,114.3 292.7,114.2 294.4,114.3 296.1,114.3 297.8,114.2 299.5,114.2 301.2,114.3 302.9,114.2 304.6,114.2 306.3,114.3 308.0,114.3 309.7,114.4 311.4,114.5 313.1,114.5 314.8,114.6 316.5,114.5 318.2,114.7 319.9,114.7 321.6,114.7 323.3,114.8 325.0,114.8 326.7,114.9 328.4,115.0 330.1,115.0 331.9,114.9 333.6,115.0 335.3,115.0 337.0,115.0 338.7,115.1 340.4,115.2 342.1,115.3 343.8,115.3 345.5,115.3 347.2,115.2 348.9,115.0 350.6,115.0 352.3,115.0 354.0,115.1 355.7,115.1 357.4,115.0 359.1,115.1 360.8,115.1 362.5,115.1 364.2,115.0 365.9,115.0 367.6,115.0 369.3,115.1 371.0,115.0 372.7,115.1 374.5,115.2 376.2,115.1 377.9,115.3 379.7,115.3 381.4,115.3 383.1,115.5 384.8,115.5 386.6,115.5 388.3,115.5 390.0,115.7 391.8,115.8 393.5,115.8 395.2,116.0 397.0,115.9 398.7,116.1 400.4,115.9 402.2,116.1 403.9,116.3 405.6,116.3 407.3,116.3 409.1,116.4 410.8,116.4 412.5,116.5 414.3,116.5 416.0,116.5 417.7,116.4 419.4,116.5 421.0,116.5 422.7,116.5 424.4,116.5 426.1,116.6 427.8,116.7 429.5,117.0 431.1,117.1 432.8,117.3 434.5,117.5 436.2,117.7 437.9,117.8 439.5,118.0 441.2,118.0 442.9,118.0 444.6,118.0 446.3,117.9 448.0,117.9 449.6,118.0 451.3,117.8 453.0,117.8 454.7,117.7 456.4,117.6 458.0,117.9 459.7,118.2 461.4,118.2 463.1,118.0 464.8,118.1 466.5,118.6 468.1,118.7 469.8,118.7 471.5,118.5 473.2,118.8 474.9,119.1 476.5,119.3 478.2,119.5 479.9,119.5 481.6,119.5 483.3,119.4 485.0,119.5 486.6,119.4 488.3,119.5 490.0,119.8 491.7,119.6 493.4,119.5 495.2,119.5 496.9,119.8 498.6,119.9 500.3,119.9 502.1,120.0 503.8,119.9 505.5,119.5 507.2,119.1 509.0,119.7 510.7,119.5 512.4,119.7 514.1,119.9 515.9,119.9 517.6,120.0 519.3,120.2 521.0,120.5 522.8,120.5 524.5,120.6 526.2,120.6 527.9,120.5 529.7,120.5 531.4,120.8 533.1,120.6 534.8,120.6 536.6,120.1 538.3,120.2 540.0,120.0" fill="none" stroke="#7E2F8E" stroke-width="4.0" stroke-linejoin="round"/>
<polyline points="42.0,114.5 43.7,114.4 45.4,114.4 47.1,114.6 48.8,114.6 50.5,114.6 52.2,114.4 53.9,114.5 55.6,114.6 57.2,114.6 58.9,114.7 60.6,114.6 62.3,114.6 64.0,114.5 65.7,114.5 67.4,114.5 69.1,114.5 70.8,114.4 72.5,114.4 74.2,114.3 75.9,114.3 77.6,114.4 79.3,114.3 81.0,114.3 82.7,114.2 84.3,114.3 86.0,114.2 87.7,114.1 89.4,114.2 91.1,114.3 92.8,114.2 94.5,114.2 96.2,114.0 97.9,114.1 99.6,114.3 101.3,114.2 103.0,114.1 104.7,114.2 106.4,114.1 108.1,114.2 109.8,114.2 111.4,114.1 113.1,114.0 114.8,114.1 116.5,114.1 118.2,114.1 119.9,114.2 121.6,114.3 123.3,114.4 125.0,114.4 126.7,114.5 128.4,114.4 130.1,114.4 131.8,114.3 133.5,114.3 135.2,114.2 136.9,114.1 138.6,114.1 140.2,114.0 141.9,114.0 143.6,114.1 145.3,114.1 147.0,114.1 148.7,114.2 150.4,114.1 152.1,114.1 153.8,114.1 155.5,114.1 157.2,114.0 158.9,114.0 160.6,114.1 162.3,114.2 164.0,114.1 165.7,114.0 167.3,114.0 169.0,113.9 170.7,113.8 172.4,113.7 174.1,113.8 175.8,113.8 177.5,113.8 179.2,114.0 180.9,114.0 182.6,114.1 184.3,114.0 186.0,114.0 187.7,114.0 189.4,114.0 191.1,114.0 192.8,114.1 194.4,114.1 196.1,114.2 197.8,114.2 199.5,114.1 201.2,114.1 202.9,114.1 204.6,114.0 206.3,114.0 208.0,114.0 209.7,113.8 211.4,113.7 213.1,113.6 214.8,113.5 216.5,113.5 218.2,113.5 219.9,113.5 221.6,113.4 223.2,113.3 224.9,113.3 226.6,113.2 228.3,113.3 230.0,113.3 231.7,113.2 233.4,113.1 235.1,113.2 236.8,113.2 238.5,113.4 240.2,113.3 241.9,113.3 243.6,113.4 245.3,113.2 247.0,113.2 248.7,113.2 250.3,113.2 252.0,113.3 253.7,113.4 255.4,113.4 257.1,113.5 258.8,113.5 260.5,113.5 262.2,113.7 263.9,113.7 265.6,113.7 267.3,113.8 269.0,113.6 270.7,113.7 272.4,113.6 274.1,113.7 275.8,113.6 277.4,113.6 279.1,113.6 280.8,113.8 282.5,113.8 284.2,113.9 285.9,113.8 287.6,113.9 289.3,113.9 291.0,114.0 292.7,113.8 294.4,113.8 296.1,113.9 297.8,113.9 299.5,113.8 301.2,113.8 302.9,113.7 304.6,113.7 306.3,113.8 308.0,113.8 309.7,113.8 311.4,113.8 313.1,113.9 314.8,114.0 316.5,114.0 318.2,113.9 319.9,113.8 321.6,113.7 323.3,113.8 325.0,113.7 326.7,113.8 328.4,113.8 330.1,113.9 331.9,113.8 333.6,113.6 335.3,113.5 337.0,113.5 338.7,113.7 340.4,113.7 342.1,113.7 343.8,113.6 345.5,113.5 347.2,113.6 348.9,113.6 350.6,113.7 352.3,113.7 354.0,113.8 355.7,113.6 357.4,113.6 359.1,113.6 360.8,113.8 362.5,113.9 364.2,113.9 365.9,113.9 367.6,113.7 369.3,113.7 371.0,113.8 372.7,113.9 374.5,114.0 376.2,114.1 377.9,114.0 379.7,114.0 381.4,113.9 383.1,113.9 384.8,113.8 386.6,113.7 388.3,113.7 390.0,113.7 391.8,113.7 393.5,113.6 395.2,113.6 397.0,113.8 398.7,113.8 400.4,113.7 402.2,113.8 403.9,113.7 405.6,113.8 407.3,113.8 409.1,113.8 410.8,113.8 412.5,113.7 414.3,113.8 416.0,113.8 417.7,113.8 419.4,113.9 421.0,113.9 422.7,113.8 424.4,113.8 426.1,113.7 427.8,113.8 429.5,113.8 431.1,113.8 432.8,113.7 434.5,113.6 436.2,113.7 437.9,113.5 439.5,113.5 441.2,113.5 442.9,113.6 444.6,113.6 446.3,113.7 448.0,113.7 449.6,113.8 451.3,113.8 453.0,113.9 454.7,113.9 456.4,113.8 458.0,113.8 459.7,113.9 461.4,113.8 463.1,113.9 464.8,113.9 466.5,114.0 468.1,114.0 469.8,114.1 471.5,114.0 473.2,114.2 474.9,114.3 476.5,114.2 478.2,114.3 479.9,114.5 481.6,114.3 483.3,114.3 485.0,114.2 486.6,114.2 488.3,114.0 490.0,114.0 491.7,114.1 493.4,114.1 495.2,114.1 496.9,114.2 498.6,114.2 500.3,114.1 502.1,114.1 503.8,114.1 505.5,114.1 507.2,114.1 509.0,114.2 510.7,114.2 512.4,114.2 514.1,114.1 515.9,114.1 517.6,114.0 519.3,113.8 521.0,113.8 522.8,113.8 524.5,113.8 526.2,113.9 527.9,114.0 529.7,114.0 531.4,114.2 533.1,114.1 534.8,114.0 536.6,113.9 538.3,113.9 540.0,114.0" fill="none" stroke="#7E2F8E" stroke-width="4.0" stroke-linejoin="round"/>
<polyline points="42.0,114.7 43.7,114.7 45.4,114.7 47.1,114.7 48.8,114.7 50.5,114.7 52.2,114.7 53.9,114.6 55.6,114.8 57.2,114.7 58.9,114.5 60.6,114.5 62.3,114.5 64.0,114.4 65.7,114.6 67.4,114.6 69.1,114.5 70.8,114.5 72.5,114.5 74.2,114.5 75.9,114.6 77.6,114.6 79.3,114.7 81.0,114.7 82.7,114.8 84.3,114.9 86.0,115.0 87.7,115.1 89.4,114.9 91.1,114.9 92.8,114.8 94.5,114.7 96.2,114.7 97.9,114.6 99.6,114.7 101.3,114.7 103.0,114.7 104.7,114.6 106.4,114.5 108.1,114.4 109.8,114.5 111.4,114.4 113.1,114.5 114.8,114.4 116.5,114.4 118.2,114.3 119.9,114.5 121.6,114.6 123.3,114.6 125.0,114.7 126.7,114.7 128.4,114.6 130.1,114.5 131.8,114.5 133.5,114.6 135.2,114.5 136.9,114.4 138.6,114.5 140.2,114.6 141.9,114.5 143.6,114.5 145.3,114.4 147.0,114.4 148.7,114.4 150.4,114.4 152.1,114.3 153.8,114.1 155.5,114.1 157.2,114.0 158.9,114.1 160.6,113.9 162.3,114.0 164.0,113.9 165.7,113.9 167.3,113.9 169.0,114.0 170.7,114.0 172.4,114.0 174.1,114.1 175.8,114.0 177.5,114.2 179.2,114.2 180.9,114.2 182.6,114.1 184.3,114.0 186.0,114.1 187.7,114.2 189.4,114.2 191.1,114.1 192.8,114.3 194.4,114.3 196.1,114.1 197.8,114.2 199.5,114.3 201.2,114.3 202.9,114.4 204.6,114.4 206.3,114.4 208.0,114.5 209.7,114.5 211.4,114.5 213.1,114.6 214.8,114.6 216.5,114.5 218.2,114.6 219.9,114.7 221.6,114.7 223.2,114.5 224.9,114.5 226.6,114.4 228.3,114.3 230.0,114.3 231.7,114.3 233.4,114.3 235.1,114.3 236.8,114.4 238.5,114.4 240.2,114.4 241.9,114.4 243.6,114.3 245.3,114.4 247.0,114.6 248.7,114.6 250.3,114.5 252.0,114.4 253.7,114.5 255.4,114.6 257.1,114.5 258.8,114.5 260.5,114.4 262.2,114.5 263.9,114.4 265.6,114.5 267.3,114.4 269.0,114.3 270.7,114.4 272.4,114.5 274.1,114.6 275.8,114.4 277.4,114.3 279.1,114.5 280.8,114.5 282.5,114.4 284.2,114.4 285.9,114.3 287.6,114.2 289.3,114.2 291.0,114.3 292.7,114.2 294.4,114.3 296.1,114.4 297.8,114.5 299.5,114.7 301.2,114.7 302.9,114.5 304.6,114.4 306.3,114.5 308.0,114.5 309.7,114.5 311.4,114.6 313.1,114.6 314.8,114.6 316.5,114.5 318.2,114.4 319.9,114.4 321.6,114.5 323.3,114.5 325.0,114.5 326.7,114.6 328.4,114.6 330.1,114.5 331.9,114.5 333.6,114.5 335.3,114.4 337.0,114.4 338.7,114.3 340.4,114.4 342.1,114.2 343.8,114.1 345.5,114.2 347.2,114.1 348.9,113.9 350.6,113.9 352.3,113.9 354.0,113.9 355.7,114.0 357.4,114.1 359.1,114.2 360.8,114.2 362.5,114.2 364.2,114.3 365.9,114.4 367.6,114.3 369.3,114.3 371.0,114.3 372.7,114.3 374.5,114.5 376.2,114.5 377.9,114.4 379.7,114.4 381.4,114.4 383.1,114.4 384.8,114.4 386.6,114.4 388.3,114.4 390.0,114.4 391.8,114.4 393.5,114.3 395.2,114.4 397.0,114.5 398.7,114.6 400.4,114.6 402.2,114.6 403.9,114.6 405.6,114.7 407.3,114.7 409.1,114.7 410.8,114.9 412.5,114.8 414.3,114.8 416.0,114.8 417.7,114.8 419.4,114.8 421.0,114.8 422.7,114.8 424.4,114.7 426.1,114.6 427.8,114.7 429.5,114.9 431.1,114.9 432.8,114.8 434.5,114.8 436.2,114.7 437.9,115.0 439.5,114.8 441.2,114.7 442.9,114.7 444.6,114.7 446.3,114.7 448.0,114.7 449.6,114.8 451.3,114.7 453.0,114.8 454.7,114.8 456.4,114.9 458.0,114.9 459.7,114.9 461.4,114.9 463.1,115.0 464.8,114.9 466.5,114.9 468.1,115.0 469.8,115.1 471.5,115.0 473.2,115.0 474.9,114.9 476.5,115.1 478.2,115.3 479.9,115.3 481.6,115.3 483.3,115.3 485.0,115.5 486.6,115.4 488.3,115.5 490.0,115.5 491.7,115.5 493.4,115.3 495.2,115.4 496.9,115.3 498.6,115.4 500.3,115.2 502.1,115.2 503.8,115.1 505.5,115.1 507.2,115.1 509.0,115.2 510.7,115.1 512.4,115.0 514.1,115.1 515.9,115.2 517.6,115.2 519.3,115.0 521.0,114.9 522.8,115.1 524.5,115.1 526.2,115.0 527.9,114.9 529.7,114.9 531.4,114.9 533.1,115.1 534.8,115.3 536.6,115.2 538.3,115.3 540.0,115.5" fill="none" stroke="#4DBEEE" stroke-width="4.0" stroke-linejoin="round"/>
<polyline points="42.0,114.7 43.7,114.6 45.4,114.7 47.1,114.8 48.8,114.8 50.5,114.7 52.2,114.5 53.9,114.5 55.6,114.6 57.2,114.6 58.9,114.6 60.6,114.6 62.3,114.8 64.0,114.7 65.7,114.7 67.4,114.6 69.1,114.7 70.8,114.8 72.5,114.8 74.2,114.8 75.9,114.8 77.6,114.9 79.3,114.8 81.0,114.7 82.7,114.6 84.3,114.4 86.0,114.4 87.7,114.5 89.4,114.5 91.1,114.4 92.8,114.5 94.5,114.5 96.2,114.5 97.9,114.4 99.6,114.4 101.3,114.3 103.0,114.3 104.7,114.3 106.4,114.2 108.1,114.3 109.8,114.4 111.4,114.3 113.1,114.2 114.8,114.2 116.5,114.2 118.2,114.0 119.9,114.1 121.6,114.2 123.3,114.2 125.0,114.1 126.7,114.2 128.4,114.3 130.1,114.3 131.8,114.3 133.5,114.3 135.2,114.4 136.9,114.4 138.6,114.2 140.2,114.2 141.9,114.3 143.6,114.1 145.3,114.1 147.0,114.2 148.7,114.1 150.4,114.1 152.1,114.1 153.8,114.1 155.5,114.3 157.2,114.2 158.9,114.3 160.6,114.2 162.3,114.0 164.0,114.1 165.7,114.0 167.3,114.0 169.0,113.9 170.7,113.8 172.4,113.8 174.1,113.9 175.8,114.0 177.5,114.0 179.2,113.9 180.9,114.0 182.6,114.1 184.3,114.1 186.0,114.1 187.7,114.2 189.4,114.4 191.1,114.3 192.8,114.3 194.4,114.4 196.1,114.4 197.8,114.5 199.5,114.4 201.2,114.3 202.9,114.5 204.6,114.5 206.3,114.4 208.0,114.5 209.7,114.4 211.4,114.4 213.1,114.5 214.8,114.4 216.5,114.4 218.2,114.4 219.9,114.4 221.6,114.3 223.2,114.3 224.9,114.3 226.6,114.3 228.3,114.3 230.0,114.2 231.7,114.3 233.4,114.3 235.1,114.2 236.8,114.3 238.5,114.3 240.2,114.3 241.9,114.2 243.6,114.2 245.3,114.2 247.0,114.1 248.7,114.0 250.3,114.1 252.0,114.2 253.7,114.1 255.4,114.2 257.1,114.3 258.8,114.3 260.5,114.4 262.2,114.3 263.9,114.3 265.6,114.4 267.3,114.5 269.0,114.5 270.7,114.5 272.4,114.5 274.1,114.5 275.8,114.5 277.4,114.4 279.1,114.4 280.8,114.4 282.5,114.4 284.2,114.4 285.9,114.3 287.6,114.3 289.3,114.3 291.0,114.3 292.7,114.3 294.4,114.3 296.1,114.4 297.8,114.5 299.5,114.6 301.2,114.7 302.9,114.6 304.6,114.6 306.3,114.7 308.0,114.6 309.7,114.6 311.4,114.6 313.1,114.6 314.8,114.6 316.5,114.5 318.2,114.4 319.9,114.2 321.6,114.3 323.3,114.3 325.0,114.5 326.7,114.5 328.4,114.5 330.1,114.5 331.9,114.5 333.6,114.4 335.3,114.3 337.0,114.4 338.7,114.4 340.4,114.4 342.1,114.5 343.8,114.6 345.5,114.6 347.2,114.6 348.9,114.6 350.6,114.6 352.3,114.5 354.0,114.4 355.7,114.4 357.4,114.4 359.1,114.4 360.8,114.4 362.5,114.3 364.2,114.4 365.9,114.3 367.6,114.2 369.3,114.3 371.0,114.5 372.7,114.5 374.5,114.5 376.2,114.6 377.9,114.6 379.7,114.8 381.4,115.0 383.1,115.1 384.8,115.2 386.6,115.3 388.3,115.2 390.0,115.2 391.8,115.2 393.5,115.3 395.2,115.3 397.0,115.3 398.7,115.5 400.4,115.5 402.2,115.4 403.9,115.4 405.6,115.3 407.3,115.4 409.1,115.3 410.8,115.4 412.5,115.3 414.3,115.2 416.0,115.5 417.7,115.7 419.4,115.5 421.0,115.5 422.7,115.4 424.4,115.5 426.1,115.4 427.8,115.4 429.5,115.3 431.1,115.2 432.8,115.1 434.5,115.1 436.2,115.0 437.9,115.2 439.5,115.1 441.2,115.2 442.9,115.1 444.6,115.1 446.3,115.0 448.0,115.2 449.6,115.2 451.3,115.3 453.0,115.4 454.7,115.5 456.4,115.5 458.0,115.4 459.7,115.4 461.4,115.6 463.1,115.6 464.8,115.7 466.5,115.7 468.1,115.8 469.8,115.8 471.5,115.8 473.2,115.9 474.9,115.9 476.5,116.0 478.2,116.0 479.9,116.1 481.6,116.2 483.3,116.4 485.0,116.3 486.6,116.2 488.3,116.5 490.0,116.5 491.7,116.6 493.4,116.5 495.2,116.6 496.9,116.6 498.6,116.7 500.3,116.6 502.1,116.6 503.8,116.5 505.5,116.4 507.2,116.4 509.0,116.4 510.7,116.4 512.4,116.5 514.1,116.6 515.9,116.3 517.6,116.3 519.3,116.4 521.0,116.5 522.8,116.4 524.5,116.3 526.2,116.4 527.9,116.3 529.7,116.3 531.4,116.3 533.1,116.2 534.8,116.2 536.6,116.5 538.3,116.4 540.0,116.5" fill="none" stroke="#0072BD" stroke-width="4.0" stroke-linejoin="round"/>
<polyline points="42.0,114.7 43.7,114.6 45.4,114.6 47.1,114.8 48.8,114.6 50.5,114.7 52.2,114.6 53.9,114.4 55.6,114.4 57.2,114.4 58.9,114.4 60.6,114.4 62.3,114.7 64.0,114.7 65.7,114.7 67.4,114.7 69.1,114.7 70.8,114.7 72.5,114.8 74.2,114.8 75.9,114.7 77.6,114.9 79.3,114.8 81.0,114.8 82.7,114.9 84.3,114.9 86.0,115.1 87.7,115.0 89.4,115.0 91.1,114.9 92.8,115.0 94.5,114.8 96.2,114.7 97.9,114.7 99.6,114.8 101.3,114.8 103.0,114.8 104.7,114.8 106.4,114.7 108.1,114.8 109.8,114.8 111.4,114.6 113.1,114.6 114.8,114.6 116.5,114.7 118.2,114.6 119.9,114.7 121.6,114.7 123.3,114.7 125.0,114.6 126.7,114.6 128.4,114.5 130.1,114.6 131.8,114.5 133.5,114.7 135.2,114.7 136.9,114.6 138.6,114.5 140.2,114.5 141.9,114.5 143.6,114.5 145.3,114.6 147.0,114.6 148.7,114.5 150.4,114.6 152.1,114.6 153.8,114.6 155.5,114.6 157.2,114.6 158.9,114.6 160.6,114.6 162.3,114.5 164.0,114.6 165.7,114.8 167.3,114.8 169.0,114.9 170.7,114.9 172.4,114.9 174.1,115.0 175.8,115.0 177.5,115.0 179.2,114.8 180.9,114.7 182.6,114.8 184.3,114.7 186.0,114.6 187.7,114.5 189.4,114.4 191.1,114.4 192.8,114.5 194.4,114.6 196.1,114.5 197.8,114.6 199.5,114.6 201.2,114.5 202.9,114.5 204.6,114.6 206.3,114.7 208.0,114.7 209.7,114.8 211.4,114.8 213.1,114.8 214.8,114.9 216.5,114.7 218.2,114.8 219.9,114.8 221.6,114.7 223.2,114.7 224.9,114.7 226.6,114.7 228.3,114.6 230.0,114.7 231.7,114.6 233.4,114.6 235.1,114.5 236.8,114.5 238.5,114.4 240.2,114.5 241.9,114.5 243.6,114.6 245.3,114.7 247.0,114.8 248.7,114.7 250.3,114.6 252.0,114.5 253.7,114.4 255.4,114.5 257.1,114.5 258.8,114.5 260.5,114.5 262.2,114.5 263.9,114.5 265.6,114.5 267.3,114.4 269.0,114.5 270.7,114.3 272.4,114.2 274.1,114.3 275.8,114.2 277.4,114.3 279.1,114.3 280.8,114.2 282.5,114.1 284.2,114.2 285.9,114.3 287.6,114.3 289.3,114.3 291.0,114.3 292.7,114.4 294.4,114.4 296.1,114.4 297.8,114.4 299.5,114.3 301.2,114.4 302.9,114.3 304.6,114.2 306.3,114.2 308.0,114.2 309.7,114.2 311.4,114.1 313.1,114.2 314.8,114.2 316.5,114.2 318.2,114.2 319.9,114.1 321.6,114.1 323.3,114.2 325.0,114.2 326.7,114.4 328.4,114.3 330.1,114.4 331.9,114.3 333.6,114.2 335.3,114.2 337.0,114.2 338.7,114.5 340.4,114.5 342.1,114.4 343.8,114.3 345.5,114.4 347.2,114.4 348.9,114.3 350.6,114.2 352.3,114.3 354.0,114.3 355.7,114.3 357.4,114.4 359.1,114.4 360.8,114.4 362.5,114.3 364.2,114.4 365.9,114.4 367.6,114.5 369.3,114.5 371.0,114.6 372.7,114.6 374.5,114.7 376.2,114.7 377.9,114.8 379.7,114.9 381.4,114.9 383.1,114.9 384.8,114.9 386.6,114.9 388.3,115.0 390.0,115.2 391.8,115.1 393.5,115.3 395.2,115.4 397.0,115.4 398.7,115.4 400.4,115.5 402.2,115.4 403.9,115.3 405.6,115.5 407.3,115.7 409.1,115.8 410.8,116.0 412.5,115.8 414.3,116.1 416.0,116.3 417.7,116.4 419.4,116.3 421.0,116.5 422.7,116.7 424.4,116.8 426.1,116.7 427.8,116.6 429.5,116.8 431.1,116.7 432.8,116.8 434.5,116.9 436.2,117.2 437.9,117.3 439.5,117.3 441.2,117.3 442.9,117.4 444.6,117.4 446.3,117.3 448.0,117.3 449.6,117.5 451.3,117.4 453.0,117.5 454.7,117.4 456.4,117.6 458.0,117.5 459.7,117.4 461.4,117.2 463.1,117.2 464.8,117.0 466.5,117.1 468.1,117.1 469.8,117.0 471.5,117.1 473.2,117.3 474.9,117.2 476.5,117.3 478.2,117.3 479.9,117.2 481.6,117.0 483.3,117.3 485.0,117.5 486.6,117.6 488.3,117.4 490.0,117.6 491.7,117.9 493.4,118.0 495.2,118.2 496.9,118.0 498.6,118.4 500.3,118.4 502.1,118.2 503.8,118.2 505.5,118.2 507.2,118.2 509.0,118.3 510.7,118.1 512.4,118.1 514.1,118.0 515.9,118.0 517.6,117.7 519.3,117.9 521.0,117.9 522.8,117.7 524.5,117.5 526.2,117.6 527.9,117.7 529.7,117.7 531.4,117.6 533.1,117.4 534.8,117.3 536.6,117.4 538.3,117.6 540.0,117.6" fill="none" stroke="#0072BD" stroke-width="4.0" stroke-linejoin="round"/>
<polyline points="42.0,116.2 43.7,116.5 45.4,116.6 47.1,116.6 48.8,116.7 50.5,116.5 52.2,116.6 53.9,116.7 55.6,116.7 57.3,116.6 59.0,116.7 60.7,116.6 62.4,116.6 64.1,116.7 65.8,116.7 67.5,116.5 69.2,116.5 70.9,116.5 72.6,116.4 74.3,116.5 76.0,116.6 77.7,116.9 79.4,116.9 81.1,117.2 82.8,117.1 84.5,117.1 86.2,116.9 87.9,117.1 89.6,117.1 91.3,117.0 93.0,117.0 94.7,116.8 96.4,116.7 98.1,116.5 99.8,116.6 101.5,116.6 103.2,116.8 104.9,116.9 106.6,117.1 108.3,117.1 110.0,117.0 111.7,117.2 113.4,117.2 115.1,117.3 116.8,117.4 118.5,117.6 120.2,117.3 121.9,117.5 123.6,117.6 125.3,117.6 127.0,117.5 128.8,117.8 130.5,117.8 132.2,117.5 133.9,117.7 135.6,117.5 137.3,117.6 139.0,117.7 140.7,118.1 142.4,118.1 144.1,118.1 145.8,117.9 147.5,118.2 149.2,118.5 150.9,118.4 152.6,118.4 154.3,118.5 156.0,118.7 157.7,118.6 159.4,119.3 161.1,119.4 162.8,119.6 164.5,119.9 166.2,119.6 168.0,119.6 169.7,119.8 171.4,119.8 173.1,119.9 174.8,119.9 176.5,119.6 178.2,119.5 179.9,119.6 181.6,119.9 183.3,119.7 185.0,120.0 186.7,120.2 188.3,120.2 190.0,120.2 191.7,120.0 193.3,120.2 195.0,120.5 196.7,120.9 198.3,120.8 200.0,121.0 201.7,121.3 203.3,121.7 205.0,122.0 206.7,121.4 208.3,121.5 210.0,121.0 211.7,121.3 213.3,122.1 215.0,122.2 216.7,122.6 218.3,123.2 220.0,122.9 221.7,122.7 223.3,122.6 225.0,123.0 226.7,122.8 228.3,123.3 230.0,123.6 231.7,123.6 233.3,123.1 235.0,123.2 236.7,123.3 238.3,123.9 240.0,124.3 241.7,124.2 243.3,124.3 245.0,124.5 246.7,124.3 248.3,124.5 250.0,124.0 251.7,124.6 253.4,124.6 255.1,125.2 256.8,125.7 258.5,125.5 260.2,125.9 262.0,125.7 263.7,126.6 265.4,126.5 267.1,126.4 268.8,126.7 270.5,126.8 272.2,126.5 273.9,126.4 275.6,126.9 277.3,126.5 279.0,126.8 280.8,126.5 282.5,126.2 284.2,126.4 285.9,126.1 287.6,126.0 289.3,126.5 291.0,126.0 292.6,126.5 294.3,126.8 295.9,127.6 297.5,127.8 299.1,127.7 300.8,127.6 302.4,127.6 304.0,127.9 305.6,128.3 307.2,129.3 308.9,129.6 310.5,129.4 312.1,130.0 313.7,130.0 315.3,129.2 316.9,129.5 318.5,129.0 320.2,128.5 321.8,128.4 323.4,127.6 325.0,127.6 326.6,127.8 328.3,128.5 329.9,128.7 331.5,129.2 333.1,129.8 334.8,129.9 336.4,130.0 338.1,130.9 339.8,130.9 341.5,131.5 343.2,131.2 344.9,130.3 346.6,131.3 348.3,131.9 350.0,132.2 351.7,132.9 353.4,133.3 355.1,133.2 356.9,133.2 358.6,133.5 360.3,133.7 362.0,134.4 363.7,134.5 365.4,134.1 367.1,133.6 368.8,134.4 370.5,135.9 372.3,136.3 374.0,136.3 375.7,137.2 377.4,136.7 379.1,136.8 380.8,137.7 382.5,137.9 384.2,137.8 385.9,138.2 387.6,138.9 389.3,140.0 391.0,139.0 392.6,139.2 394.1,140.2 395.7,141.0 397.3,143.7 398.8,145.0 400.4,144.7 402.1,144.5 403.8,144.8 405.6,145.3 407.3,145.8 409.0,146.9 410.8,147.6 412.5,149.8 414.3,149.6 416.0,149.6 417.8,150.5 419.5,150.0 421.3,151.2 423.0,150.2 424.8,151.0 426.5,150.5 428.3,148.9 430.0,149.0 431.8,148.9 433.5,148.7 435.3,149.1 437.2,150.4 439.1,150.7 441.0,149.8 442.9,149.4 444.7,149.3 446.5,148.2 448.4,148.4 449.8,148.2 451.3,148.1 452.7,147.6 454.5,145.6 456.4,144.7 458.2,145.3 460.0,145.5 461.8,143.9 463.6,143.0 465.5,143.9 467.3,143.3 469.1,142.3 470.9,141.1 472.7,140.4 474.5,139.5 476.3,140.4 478.1,142.1 480.0,143.0 481.8,144.0 483.6,146.3 485.4,146.4 487.2,147.9 489.0,148.4 490.9,149.4 492.7,150.9 494.5,151.3 496.4,152.7 498.2,151.5 500.0,153.1 501.8,152.5 503.6,152.0 505.5,151.3 507.3,150.2 509.1,152.1 511.0,150.5 512.8,150.4 514.5,150.5 516.2,151.0 518.0,151.3 519.9,151.7 521.8,152.1 523.6,151.7 525.5,152.7 527.3,153.1 529.1,152.0 530.9,151.0 532.7,151.3 534.5,150.9 536.4,150.6 538.2,152.1 540.0,152.0" fill="none" stroke="#D95319" stroke-width="4.0" stroke-linejoin="round"/>
<polyline points="42.0,116.2 43.7,116.2 45.4,116.4 47.1,116.4 48.8,116.4 50.5,116.4 52.2,116.3 53.9,116.4 55.6,116.3 57.3,116.1 59.0,116.0 60.7,116.0 62.4,116.0 64.1,116.0 65.8,115.9 67.5,116.1 69.2,116.3 70.9,116.3 72.6,116.4 74.3,116.7 76.0,116.8 77.7,116.7 79.4,116.7 81.1,116.5 82.8,116.6 84.5,116.5 86.2,116.7 87.9,116.6 89.6,116.7 91.3,116.6 93.0,116.5 94.7,116.6 96.4,116.7 98.1,116.7 99.8,116.7 101.5,116.9 103.2,116.9 104.9,116.9 106.6,116.7 108.3,116.7 110.0,116.8 111.7,116.6 113.4,116.5 115.1,116.7 116.8,116.8 118.5,117.0 120.2,117.1 121.9,117.2 123.6,117.6 125.3,117.4 127.0,117.4 128.8,117.5 130.5,117.7 132.2,118.0 133.9,117.8 135.6,117.7 137.3,117.8 139.0,117.9 140.7,118.2 142.4,118.2 144.1,117.9 145.8,117.7 147.5,117.6 149.2,117.7 150.9,117.4 152.6,117.2 154.3,117.2 156.0,117.4 157.7,117.4 159.4,117.4 161.1,117.7 162.8,117.6 164.5,117.8 166.2,118.2 168.0,118.2 169.7,118.2 171.4,118.3 173.1,118.6 174.8,118.6 176.5,118.4 178.2,118.7 179.9,118.5 181.6,118.4 183.3,118.4 185.0,118.5 186.7,118.7 188.3,118.8 190.0,118.9 191.7,118.7 193.3,118.8 195.0,119.0 196.7,119.0 198.3,119.2 200.0,119.8 201.7,119.8 203.3,119.9 205.0,119.9 206.7,120.0 208.3,120.2 210.0,120.1 211.7,120.1 213.3,120.3 215.0,120.2 216.7,120.3 218.3,120.0 220.0,120.3 221.7,120.5 223.3,120.3 225.0,120.5 226.7,120.9 228.3,121.2 230.0,121.4 231.7,121.1 233.3,121.2 235.0,121.4 236.7,121.2 238.3,121.8 240.0,121.7 241.7,121.6 243.3,121.6 245.0,121.9 246.7,121.9 248.3,121.7 250.0,121.5 251.7,121.9 253.4,121.8 255.1,121.9 256.8,121.6 258.5,121.6 260.2,122.1 262.0,121.9 263.7,121.9 265.4,122.3 267.1,122.3 268.8,121.6 270.5,121.7 272.2,122.1 273.9,122.3 275.6,122.1 277.3,121.6 279.0,121.9 280.8,121.4 282.5,121.9 284.2,122.2 285.9,122.0 287.6,122.1 289.3,122.3 291.0,122.5 292.7,123.0 294.4,123.1 296.1,123.4 297.8,123.7 299.5,123.6 301.2,123.2 302.9,123.5 304.6,123.8 306.4,124.8 308.1,124.9 309.8,125.2 311.5,125.6 313.2,125.5 314.9,125.7 316.6,125.5 318.3,125.7 320.0,126.0 321.7,126.4 323.3,127.0 325.0,127.9 326.7,128.0 328.3,128.6 330.0,128.6 331.7,128.7 333.3,129.2 335.0,128.8 336.7,128.5 338.3,128.7 340.0,129.0 341.7,129.1 343.5,129.8 345.2,130.3 346.9,130.5 348.6,132.0 350.4,131.7 352.1,131.4 353.8,132.1 355.5,132.6 357.3,132.8 359.0,133.3 360.8,134.1 362.5,134.7 364.2,134.8 366.0,135.4 367.8,135.1 369.5,135.6 371.2,135.8 373.0,135.5 374.8,134.8 376.5,135.0 378.2,134.3 380.0,134.5 381.6,133.4 383.2,134.1 384.8,134.7 386.4,134.2 388.1,133.6 389.7,134.8 391.3,134.9 392.9,134.6 394.5,134.5 396.1,134.5 397.7,134.4 399.3,133.7 400.9,134.6 402.6,134.9 404.2,134.6 405.8,134.7 407.4,135.1 409.0,135.3 410.6,134.7 412.2,134.8 413.9,135.7 415.5,136.1 417.1,135.5 418.7,136.9 420.4,137.1 422.0,137.2 423.6,137.5 425.5,138.8 427.3,139.3 429.1,140.1 431.0,140.4 432.8,141.3 434.5,140.8 436.2,140.3 438.0,139.6 439.9,139.6 441.8,139.4 443.6,138.6 445.5,138.2 447.3,138.7 449.1,138.7 450.9,137.6 452.7,136.7 454.5,136.9 456.4,138.1 458.2,137.9 460.0,138.2 461.6,138.6 463.2,139.0 464.8,138.8 466.4,139.5 468.1,138.9 469.7,139.5 471.3,139.1 472.9,139.9 474.5,139.6 476.3,140.8 478.1,141.1 480.0,141.9 481.8,141.8 483.6,142.3 485.4,141.7 487.2,142.6 489.0,144.7 490.9,143.1 492.7,142.4 494.5,141.2 496.4,138.2 498.2,138.9 500.0,138.8 501.8,139.6 503.6,139.0 505.5,139.3 507.3,138.6 509.1,140.0 511.0,141.1 512.8,141.6 514.5,142.1 516.2,143.6 518.0,144.0 519.9,143.6 521.8,143.6 523.6,144.3 525.5,145.5 527.1,145.5 528.7,145.1 530.3,146.4 531.9,147.2 533.6,147.3 535.2,147.7 536.8,147.1 538.4,146.9 540.0,147.0" fill="none" stroke="#D95319" stroke-width="4.0" stroke-linejoin="round"/>
<polyline points="42.0,116.2 43.7,116.4 45.4,116.4 47.1,116.4 48.8,116.5 50.5,116.6 52.2,116.5 53.9,116.4 55.6,116.2 57.3,116.5 59.0,116.7 60.7,116.6 62.4,116.9 64.1,116.8 65.8,116.9 67.5,117.0 69.2,116.9 70.9,117.0 72.6,116.9 74.3,116.9 76.0,116.9 77.7,116.8 79.4,116.8 81.1,116.7 82.8,116.6 84.5,116.6 86.2,116.5 87.9,116.4 89.6,116.4 91.3,116.3 93.0,116.2 94.7,116.3 96.4,116.3 98.1,116.3 99.8,116.3 101.5,116.3 103.2,116.3 104.9,116.5 106.6,116.5 108.3,116.4 110.0,116.5 111.7,116.5 113.4,116.6 115.1,116.4 116.8,116.4 118.5,116.3 120.2,116.4 121.9,116.5 123.6,116.5 125.3,116.5 127.0,116.6 128.8,116.5 130.5,116.5 132.2,116.5 133.9,116.7 135.6,116.7 137.3,116.9 139.0,116.9 140.7,116.7 142.4,116.8 144.1,116.9 145.8,116.9 147.5,116.9 149.2,116.9 150.9,117.1 152.6,117.1 154.3,117.1 156.0,117.1 157.7,117.3 159.4,117.3 161.1,117.4 162.8,117.6 164.5,117.3 166.2,117.1 168.0,117.1 169.7,117.2 171.4,117.5 173.1,117.4 174.8,117.5 176.5,117.3 178.2,117.5 179.9,117.5 181.6,117.5 183.3,117.6 185.0,117.5 186.7,117.4 188.3,117.5 190.0,117.5 191.7,117.7 193.3,117.8 195.0,117.7 196.7,117.8 198.3,117.8 200.0,117.6 201.7,117.6 203.3,117.8 205.0,117.8 206.7,118.0 208.3,117.9 210.0,118.0 211.7,118.0 213.3,118.0 215.0,118.1 216.7,117.8 218.3,117.5 220.0,117.8 221.7,117.9 223.3,118.1 225.0,118.5 226.7,118.9 228.3,119.2 230.0,119.4 231.7,119.6 233.3,120.0 235.0,119.8 236.7,119.6 238.3,119.8 240.0,120.1 241.7,120.3 243.3,120.2 245.0,120.3 246.7,119.9 248.3,120.1 250.0,120.5 251.7,120.7 253.4,120.7 255.1,120.4 256.8,120.6 258.5,120.9 260.2,120.7 262.0,120.5 263.7,120.6 265.4,120.6 267.1,121.0 268.8,121.1 270.5,121.1 272.2,121.0 273.9,121.2 275.6,121.4 277.3,121.7 279.0,121.7 280.8,121.3 282.5,121.6 284.2,121.5 285.9,121.2 287.6,121.7 289.3,121.9 291.0,122.0 292.7,122.1 294.5,121.9 296.2,121.8 298.0,121.9 299.7,121.9 301.5,122.6 303.2,122.2 305.0,121.9 306.7,122.0 308.5,122.2 310.2,122.9 312.0,122.9 313.7,123.0 315.4,122.9 317.2,122.9 318.9,122.9 320.7,123.0 322.4,122.6 324.2,122.4 325.9,121.9 327.7,122.1 329.4,122.6 331.2,123.0 332.9,123.0 334.7,123.8 336.4,124.0 338.1,124.6 339.9,124.9 341.6,125.1 343.4,124.9 345.1,124.7 346.8,124.7 348.6,125.2 350.3,125.7 352.0,125.6 353.8,125.4 355.5,125.3 357.3,125.3 359.0,125.0 360.8,125.0 362.5,125.1 364.3,124.9 366.0,124.8 367.8,126.0 369.6,125.9 371.3,125.3 373.1,124.9 374.9,124.7 376.6,125.4 378.4,125.5 380.1,126.0 381.9,126.0 383.6,125.8 385.3,125.9 387.0,125.0 388.7,125.6 390.4,125.8 392.1,125.9 393.8,125.4 395.5,125.4 397.2,125.0 398.9,125.0 400.7,125.3 402.4,125.9 404.1,125.9 405.8,125.9 407.5,126.1 409.2,125.8 410.9,125.8 412.6,125.8 414.3,125.8 416.0,126.5 417.7,126.5 419.4,126.2 421.1,126.6 422.9,126.7 424.6,126.3 426.3,126.1 428.0,126.4 429.7,125.9 431.4,126.2 433.1,126.1 434.9,125.7 436.6,125.0 438.3,125.1 440.0,125.0 441.6,124.7 443.3,124.6 444.9,124.9 446.5,125.3 448.2,125.0 449.8,125.2 451.5,125.4 453.1,124.9 454.7,125.2 456.4,124.3 458.0,124.0 459.6,124.8 461.3,124.8 462.9,124.9 464.6,125.6 466.2,125.9 467.9,126.3 469.6,126.0 471.2,126.7 472.9,127.0 474.5,127.3 476.1,127.7 477.7,127.8 479.3,128.0 480.9,128.5 482.6,129.1 484.2,128.6 485.8,128.9 487.4,129.2 489.0,129.5 490.6,130.1 492.2,129.8 493.9,130.4 495.5,130.9 497.1,130.7 498.7,132.0 500.4,132.2 502.0,132.4 503.6,132.4 505.3,132.8 506.9,133.6 508.6,134.2 510.3,135.0 512.0,134.2 513.6,134.9 515.3,136.0 517.0,136.7 518.7,136.7 520.4,137.6 522.1,137.1 523.8,136.8 525.5,138.2 527.3,137.0 529.1,137.9 530.9,138.4 532.7,137.5 534.5,135.5 536.4,135.5 538.2,135.9 540.0,136.0" fill="none" stroke="#D95319" stroke-width="4.0" stroke-linejoin="round"/>
<polyline points="42.0,116.2 43.7,116.4 45.4,116.5 47.1,116.7 48.8,116.7 50.5,116.8 52.2,117.0 53.9,117.0 55.6,117.0 57.3,116.9 59.0,116.7 60.7,116.9 62.4,117.0 64.1,116.9 65.8,116.6 67.5,117.0 69.2,116.8 70.9,116.9 72.6,116.9 74.3,116.9 76.0,116.8 77.7,116.8 79.4,116.5 81.1,116.4 82.8,116.6 84.5,116.6 86.2,116.5 87.9,116.4 89.6,116.7 91.3,116.5 93.0,116.7 94.7,116.7 96.4,116.6 98.1,116.3 99.8,116.2 101.5,116.4 103.2,116.2 104.9,116.2 106.6,116.3 108.3,116.3 110.0,116.5 111.7,116.4 113.4,116.6 115.1,116.6 116.8,116.8 118.5,116.9 120.2,116.8 121.9,116.9 123.6,116.9 125.3,116.9 127.0,116.8 128.8,116.8 130.5,117.1 132.2,117.2 133.9,117.3 135.6,117.2 137.3,117.2 139.0,117.1 140.7,117.0 142.4,117.2 144.1,117.4 145.8,117.5 147.5,117.3 149.2,117.3 150.9,117.2 152.6,117.3 154.3,117.5 156.0,117.6 157.7,117.7 159.4,117.8 161.1,117.7 162.8,117.6 164.5,117.6 166.2,117.8 168.0,117.9 169.7,118.0 171.4,118.2 173.1,118.2 174.8,118.2 176.5,118.0 178.2,117.8 179.9,118.0 181.6,117.9 183.3,118.0 185.0,118.0 186.7,117.9 188.4,118.0 190.1,118.3 191.8,118.5 193.6,118.3 195.3,118.3 197.0,118.5 198.7,118.7 200.4,118.4 202.1,118.3 203.8,118.1 205.5,118.3 207.2,118.3 208.9,118.4 210.7,118.4 212.4,118.5 214.1,118.5 215.8,118.7 217.5,118.5 219.2,118.4 220.9,118.3 222.6,118.4 224.3,118.4 226.1,118.7 227.8,118.7 229.5,118.7 231.2,118.9 232.9,118.8 234.6,119.1 236.3,118.9 238.0,119.0 239.7,119.0 241.4,119.0 243.2,118.5 244.9,119.2 246.6,118.9 248.3,119.2 250.0,119.5 251.7,119.6 253.4,119.4 255.1,119.7 256.8,119.5 258.5,119.8 260.2,119.6 262.0,119.3 263.7,119.4 265.4,119.8 267.1,120.0 268.8,120.3 270.5,120.3 272.2,120.4 273.9,120.2 275.6,120.0 277.3,120.2 279.0,120.4 280.8,120.6 282.5,120.3 284.2,120.1 285.9,120.1 287.6,120.6 289.3,120.9 291.0,121.0 292.7,121.1 294.4,121.3 296.1,121.4 297.7,121.6 299.4,121.9 301.1,121.9 302.8,121.7 304.5,121.7 306.2,121.9 307.9,121.9 309.5,121.8 311.2,121.7 312.9,121.8 314.6,122.2 316.3,122.0 318.0,121.9 319.7,122.1 321.3,122.4 323.0,122.1 324.7,122.2 326.4,122.8 328.1,122.6 329.8,122.4 331.5,122.5 333.1,123.1 334.8,123.5 336.5,123.4 338.2,124.0 339.9,123.6 341.6,123.8 343.3,124.2 344.9,123.9 346.6,123.7 348.3,123.6 350.0,124.0 351.7,124.5 353.4,124.5 355.1,124.7 356.8,124.8 358.5,124.9 360.2,125.1 361.8,125.4 363.5,125.3 365.2,125.8 366.9,125.6 368.6,126.0 370.3,126.3 372.0,126.9 373.7,126.7 375.4,126.3 377.1,126.1 378.8,126.2 380.5,126.0 382.2,126.3 383.8,126.1 385.5,126.5 387.2,126.3 388.9,126.1 390.6,125.5 392.3,125.3 394.0,125.2 395.7,125.4 397.4,124.9 399.1,125.2 400.8,125.4 402.5,126.1 404.2,126.8 405.8,126.7 407.5,126.2 409.2,126.3 410.9,125.9 412.6,126.5 414.3,125.9 416.0,125.8 417.7,126.0 419.4,126.1 421.1,126.0 422.9,125.7 424.6,125.6 426.3,125.2 428.0,125.8 429.7,125.0 431.4,124.8 433.1,124.9 434.9,124.8 436.6,125.0 438.3,125.2 440.0,125.0 441.6,125.1 443.3,125.0 444.9,124.6 446.5,125.3 448.2,125.1 449.8,124.9 451.5,124.8 453.1,124.9 454.7,124.7 456.4,124.3 458.0,124.3 459.6,124.5 461.3,124.8 462.9,125.0 464.6,125.2 466.2,125.7 467.9,125.7 469.6,126.4 471.2,127.0 472.9,127.4 474.5,127.5 476.2,127.8 477.9,128.0 479.7,128.5 481.4,128.2 483.1,128.4 484.8,128.6 486.6,129.4 488.3,129.5 490.0,129.5 491.7,130.9 493.4,131.2 495.1,132.2 496.8,132.6 498.5,133.0 500.2,132.3 501.9,133.0 503.6,132.4 505.3,133.8 506.9,133.8 508.6,134.3 510.3,134.5 512.0,134.8 513.6,135.3 515.3,136.0 517.0,135.8 518.7,136.6 520.4,137.2 522.1,137.7 523.8,137.1 525.5,138.2 527.1,137.9 528.7,137.7 530.3,137.4 531.9,137.1 533.6,135.8 535.2,135.6 536.8,135.1 538.4,136.1 540.0,136.0" fill="none" stroke="#D95319" stroke-width="4.0" stroke-linejoin="round"/>
</g>
<text transform="translate(42.5,218.4) scale(0.93,1)" text-anchor="middle" font-family="Liberation Sans, Arial, sans-serif" font-size="12.7" fill="#262626">0</text>
<text transform="translate(125.5,218.4) scale(0.93,1)" text-anchor="middle" font-family="Liberation Sans, Arial, sans-serif" font-size="12.7" fill="#262626">0.5</text>
<text transform="translate(208.5,218.4) scale(0.93,1)" text-anchor="middle" font-family="Liberation Sans, Arial, sans-serif" font-size="12.7" fill="#262626">1</text>
<text transform="translate(291.5,218.4) scale(0.93,1)" text-anchor="middle" font-family="Liberation Sans, Arial, sans-serif" font-size="12.7" fill="#262626">1.5</text>
<text transform="translate(374.5,218.4) scale(0.93,1)" text-anchor="middle" font-family="Liberation Sans, Arial, sans-serif" font-size="12.7" fill="#262626">2</text>
<text transform="translate(457.5,218.4) scale(0.93,1)" text-anchor="middle" font-family="Liberation Sans, Arial, sans-serif" font-size="12.7" fill="#262626">2.5</text>
<text transform="translate(540.5,218.4) scale(0.93,1)" text-anchor="middle" font-family="Liberation Sans, Arial, sans-serif" font-size="12.7" fill="#262626">3</text>
<text transform="translate(37,32.0) scale(0.93,1)" text-anchor="end" font-family="Liberation Sans, Arial, sans-serif" font-size="12.7" fill="#262626">50</text>
<text transform="translate(37,119.0) scale(0.93,1)" text-anchor="end" font-family="Liberation Sans, Arial, sans-serif" font-size="12.7" fill="#262626">0</text>
<text transform="translate(37,206.0) scale(0.93,1)" text-anchor="end" font-family="Liberation Sans, Arial, sans-serif" font-size="12.7" fill="#262626">-50</text>
<text x="291.5" y="236" text-anchor="middle" font-family="Liberation Sans, Arial, sans-serif" font-size="13" fill="#262626">Time [sec]</text>
<text transform="translate(13,114.5) rotate(-90)" text-anchor="middle" font-family="Liberation Sans, Arial, sans-serif" font-size="13" fill="#262626">x</text>
<text x="289" y="21.6" text-anchor="middle" font-family="Liberation Sans, Arial, sans-serif" font-size="12.5" font-weight="bold" fill="#000"><tspan font-style="italic">σ</tspan><tspan font-size="11" dy="-6">2</tspan><tspan dy="6"> - 2a = -1.91</tspan></text>
<line x1="125.5" y1="269.5" x2="125.5" y2="443.5" stroke="#dfdfdf" stroke-width="1"/>
<line x1="208.5" y1="269.5" x2="208.5" y2="443.5" stroke="#dfdfdf" stroke-width="1"/>
<line x1="291.5" y1="269.5" x2="291.5" y2="443.5" stroke="#dfdfdf" stroke-width="1"/>
<line x1="374.5" y1="269.5" x2="374.5" y2="443.5" stroke="#dfdfdf" stroke-width="1"/>
<line x1="457.5" y1="269.5" x2="457.5" y2="443.5" stroke="#dfdfdf" stroke-width="1"/>
<line x1="42.5" y1="298.5" x2="540.5" y2="298.5" stroke="#dfdfdf" stroke-width="1"/>
<line x1="42.5" y1="327.5" x2="540.5" y2="327.5" stroke="#dfdfdf" stroke-width="1"/>
<line x1="42.5" y1="356.5" x2="540.5" y2="356.5" stroke="#dfdfdf" stroke-width="1"/>
<line x1="42.5" y1="385.5" x2="540.5" y2="385.5" stroke="#dfdfdf" stroke-width="1"/>
<line x1="42.5" y1="414.5" x2="540.5" y2="414.5" stroke="#dfdfdf" stroke-width="1"/>
<rect x="42.5" y="269.5" width="498.0" height="174.0" fill="none" stroke="#585858" stroke-width="1"/>
<line x1="125.5" y1="269.5" x2="125.5" y2="274.5" stroke="#585858" stroke-width="1"/>
<line x1="125.5" y1="443.5" x2="125.5" y2="438.5" stroke="#585858" stroke-width="1"/>
<line x1="208.5" y1="269.5" x2="208.5" y2="274.5" stroke="#585858" stroke-width="1"/>
<line x1="208.5" y1="443.5" x2="208.5" y2="438.5" stroke="#585858" stroke-width="1"/>
<line x1="291.5" y1="269.5" x2="291.5" y2="274.5" stroke="#585858" stroke-width="1"/>
<line x1="291.5" y1="443.5" x2="291.5" y2="438.5" stroke="#585858" stroke-width="1"/>
<line x1="374.5" y1="269.5" x2="374.5" y2="274.5" stroke="#585858" stroke-width="1"/>
<line x1="374.5" y1="443.5" x2="374.5" y2="438.5" stroke="#585858" stroke-width="1"/>
<line x1="457.5" y1="269.5" x2="457.5" y2="274.5" stroke="#585858" stroke-width="1"/>
<line x1="457.5" y1="443.5" x2="457.5" y2="438.5" stroke="#585858" stroke-width="1"/>
<line x1="42.5" y1="269.5" x2="47.5" y2="269.5" stroke="#585858" stroke-width="1"/>
<line x1="540.5" y1="269.5" x2="535.5" y2="269.5" stroke="#585858" stroke-width="1"/>
<line x1="42.5" y1="298.5" x2="47.5" y2="298.5" stroke="#585858" stroke-width="1"/>
<line x1="540.5" y1="298.5" x2="535.5" y2="298.5" stroke="#585858" stroke-width="1"/>
<line x1="42.5" y1="327.5" x2="47.5" y2="327.5" stroke="#585858" stroke-width="1"/>
<line x1="540.5" y1="327.5" x2="535.5" y2="327.5" stroke="#585858" stroke-width="1"/>
<line x1="42.5" y1="356.5" x2="47.5" y2="356.5" stroke="#585858" stroke-width="1"/>
<line x1="540.5" y1="356.5" x2="535.5" y2="356.5" stroke="#585858" stroke-width="1"/>
<line x1="42.5" y1="385.5" x2="47.5" y2="385.5" stroke="#585858" stroke-width="1"/>
<line x1="540.5" y1="385.5" x2="535.5" y2="385.5" stroke="#585858" stroke-width="1"/>
<line x1="42.5" y1="414.5" x2="47.5" y2="414.5" stroke="#585858" stroke-width="1"/>
<line x1="540.5" y1="414.5" x2="535.5" y2="414.5" stroke="#585858" stroke-width="1"/>
<line x1="42.5" y1="443.5" x2="47.5" y2="443.5" stroke="#585858" stroke-width="1"/>
<line x1="540.5" y1="443.5" x2="535.5" y2="443.5" stroke="#585858" stroke-width="1"/>
<g clip-path="url(#cb)">
<polyline points="42.0,293.0 43.6,293.1 45.2,292.7 46.8,292.2 48.4,292.7 50.0,292.0 51.6,291.1 53.2,292.5 54.8,292.1 56.4,293.3 58.0,291.8 60.0,292.9 62.0,292.5 64.0,292.1 66.0,292.3 68.0,292.7 70.0,292.5 71.7,293.1 73.3,293.7 75.0,294.0 76.7,294.2 78.3,294.7 80.0,294.5 81.7,294.6 83.3,294.3 85.0,293.9 86.7,295.1 88.3,294.7 90.0,295.0 91.7,294.7 93.3,295.0 95.0,294.8 96.7,295.2 98.3,295.5 100.0,295.4 101.7,295.7 103.3,295.5 105.0,295.8 106.7,295.6 108.3,295.6 110.0,295.7 111.7,295.1 113.3,295.9 115.0,296.0 116.7,295.6 118.3,296.0 120.0,296.0 121.7,295.9 123.3,296.0 125.0,296.5 126.7,296.4 128.3,296.3 130.0,296.5 131.7,296.6 133.3,296.9 135.0,297.0 136.7,297.3 138.3,297.3 140.0,297.5 141.7,297.7 143.3,297.8 145.0,298.0 146.7,298.7 148.3,299.3 150.0,299.8 152.1,300.2 154.1,301.8 156.1,301.1 158.2,300.8 159.9,300.2 161.6,300.4 163.3,300.0 165.0,299.5 166.7,299.4 168.3,299.5 170.0,299.6 171.7,299.5 173.3,299.5 175.0,299.3 176.7,299.1 178.3,299.2 180.0,299.4 181.7,299.1 183.3,298.9 185.0,299.0 186.7,299.0 188.3,298.8 190.0,299.0 191.7,298.8 193.3,298.9 195.0,298.8 196.7,298.7 198.3,298.7 200.0,298.5 201.7,298.5 203.4,298.5 205.1,298.5 206.8,298.4 208.5,298.5 210.2,298.5 211.9,298.5 213.6,298.5 215.3,298.5 217.0,298.5 218.7,298.5 220.4,298.5 222.1,298.4 223.8,298.4 225.5,298.5 227.2,298.5 228.9,298.4 230.6,298.3 232.3,298.3 234.0,298.3 235.7,298.3 237.4,298.3 239.1,298.3 240.8,298.4 242.5,298.4 244.2,298.4 245.9,298.4 247.6,298.3 249.3,298.4 251.0,298.5 252.7,298.4 254.4,298.4 256.1,298.5 257.8,298.4 259.5,298.4 261.2,298.4 262.9,298.4 264.6,298.5 266.3,298.5 268.0,298.4 269.7,298.4 271.4,298.4 273.1,298.3 274.8,298.4 276.5,298.4 278.2,298.3 279.9,298.3 281.6,298.4 283.3,298.3 285.0,298.4 286.7,298.3 288.4,298.4 290.1,298.4 291.8,298.4 293.5,298.4 295.2,298.3 296.9,298.3 298.6,298.3 300.3,298.2 302.0,298.3 303.7,298.3 305.4,298.3 307.1,298.3 308.8,298.4 310.5,298.3 312.2,298.3 313.9,298.3 315.6,298.3 317.3,298.4 319.0,298.4 320.7,298.3 322.4,298.3 324.1,298.3 325.8,298.3 327.5,298.3 329.2,298.2 330.9,298.3 332.6,298.3 334.3,298.3 336.0,298.3 337.7,298.3 339.4,298.3 341.1,298.3 342.8,298.3 344.5,298.3 346.2,298.3 347.9,298.3 349.6,298.3 351.3,298.2 353.0,298.3 354.7,298.3 356.4,298.3 358.1,298.3 359.8,298.3 361.5,298.3 363.2,298.3 364.9,298.3 366.6,298.3 368.3,298.3 370.0,298.3 371.7,298.3 373.4,298.3 375.1,298.4 376.8,298.3 378.5,298.4 380.2,298.3 381.9,298.4 383.6,298.4 385.3,298.3 387.0,298.4 388.7,298.3 390.4,298.3 392.1,298.3 393.8,298.3 395.5,298.3 397.2,298.3 398.9,298.3 400.6,298.4 402.3,298.3 404.0,298.3 405.7,298.3 407.4,298.3 409.1,298.3 410.8,298.3 412.5,298.3 414.2,298.3 415.9,298.3 417.6,298.3 419.3,298.3 421.0,298.3 422.7,298.3 424.4,298.3 426.1,298.3 427.8,298.3 429.5,298.3 431.2,298.3 432.9,298.3 434.6,298.3 436.3,298.2 438.0,298.2 439.7,298.3 441.4,298.2 443.1,298.3 444.8,298.3 446.5,298.2 448.2,298.2 449.9,298.2 451.6,298.2 453.3,298.2 455.0,298.2 456.7,298.2 458.4,298.2 460.1,298.2 461.8,298.2 463.5,298.2 465.2,298.2 466.9,298.2 468.6,298.2 470.3,298.2 472.0,298.2 473.7,298.2 475.4,298.2 477.1,298.2 478.8,298.2 480.5,298.2 482.2,298.1 483.9,298.1 485.6,298.2 487.3,298.1 489.0,298.1 490.7,298.1 492.4,298.1 494.1,298.1 495.8,298.1 497.5,298.1 499.2,298.1 500.9,298.1 502.6,298.1 504.3,298.1 506.0,298.1 507.7,298.1 509.4,298.1 511.1,298.1 512.8,298.1 514.5,298.1 516.2,298.1 517.9,298.1 519.6,298.1 521.3,298.0 523.0,298.0 524.7,298.0 526.4,298.0 528.1,298.0 529.8,298.0 531.5,298.0 533.2,298.0 534.9,298.0 536.6,298.0 538.3,298.0 540.0,298.0" fill="none" stroke="#7E2F8E" stroke-width="4.0" stroke-linejoin="round"/>
<polyline points="42.0,295.0 43.6,295.1 45.3,295.5 46.9,295.9 48.5,295.7 50.2,295.6 51.8,295.7 53.5,295.6 55.1,294.9 56.7,295.6 58.4,294.9 60.0,294.8 61.7,294.9 63.3,294.0 65.0,295.1 66.7,294.1 68.3,294.5 70.0,294.0 71.7,294.5 73.3,294.9 75.0,293.4 76.7,293.7 78.3,294.4 80.0,294.0 81.7,294.2 83.3,293.3 85.0,293.0 86.7,294.3 88.3,293.9 90.0,294.5 91.7,294.1 93.3,294.7 95.0,294.7 96.7,294.9 98.3,295.3 100.0,295.2 101.7,295.5 103.3,295.3 105.0,295.8 106.7,295.1 108.3,295.7 110.0,295.5 111.7,295.6 113.3,295.8 115.0,295.8 116.7,295.9 118.3,295.6 120.0,295.3 121.7,296.1 123.3,295.5 125.0,295.9 126.7,296.0 128.3,295.9 130.0,296.0 131.7,296.0 133.4,296.0 135.1,296.2 136.8,296.5 138.5,296.4 140.2,296.1 142.0,295.9 143.7,296.1 145.4,296.1 147.1,296.2 148.8,296.4 150.5,296.2 152.2,296.1 153.9,296.6 155.6,296.5 157.3,296.7 159.0,296.5 160.7,297.2 162.4,296.6 164.1,296.9 165.9,296.9 167.6,296.4 169.3,296.6 171.0,296.5 172.7,297.1 174.4,297.0 176.1,296.8 177.8,296.7 179.5,296.6 181.2,297.0 182.9,296.8 184.6,296.9 186.3,296.8 188.0,296.7 189.8,297.2 191.5,297.1 193.2,296.9 194.9,297.0 196.6,297.2 198.3,297.1 200.0,297.0 201.7,297.0 203.4,296.9 205.1,297.0 206.8,296.9 208.5,297.0 210.2,297.1 211.9,297.0 213.6,297.1 215.3,297.0 216.9,297.1 218.6,297.0 220.3,297.1 222.0,297.2 223.7,297.2 225.4,297.2 227.1,297.4 228.8,297.4 230.5,297.3 232.2,297.4 233.9,297.5 235.6,297.5 237.3,297.5 239.0,297.5 240.7,297.5 242.4,297.4 244.1,297.6 245.8,297.6 247.5,297.6 249.2,297.6 250.8,297.7 252.5,297.6 254.2,297.6 255.9,297.5 257.6,297.6 259.3,297.7 261.0,297.6 262.7,297.7 264.4,297.7 266.1,297.6 267.8,297.7 269.5,297.7 271.2,297.7 272.9,297.8 274.6,297.8 276.3,297.8 278.0,297.8 279.7,297.8 281.4,297.8 283.1,297.9 284.7,297.8 286.4,297.9 288.1,297.9 289.8,297.9 291.5,297.9 293.2,297.9 294.9,298.0 296.6,298.0 298.3,298.0 300.0,298.0 301.7,298.0 303.4,298.0 305.1,298.0 306.8,298.0 308.5,298.0 310.2,298.0 311.9,298.0 313.6,298.0 315.3,298.0 317.0,298.0 318.7,298.0 320.4,298.0 322.1,298.0 323.8,298.0 325.5,298.0 327.2,298.0 328.9,298.0 330.6,298.0 332.3,298.0 334.0,298.0 335.7,298.0 337.4,298.0 339.1,298.0 340.9,298.0 342.6,298.0 344.3,298.0 346.0,298.0 347.7,298.0 349.4,298.0 351.1,298.0 352.8,298.0 354.5,298.0 356.2,298.0 357.9,298.0 359.6,298.0 361.3,298.0 363.0,298.0 364.7,298.0 366.4,298.0 368.1,298.0 369.8,298.0 371.5,298.0 373.2,298.0 374.9,298.0 376.6,298.0 378.3,298.0 380.0,298.0 381.7,298.0 383.4,298.0 385.1,298.0 386.8,298.0 388.5,298.0 390.2,298.0 391.9,298.0 393.6,298.0 395.3,298.0 397.0,298.0 398.7,298.0 400.4,298.0 402.1,298.0 403.8,298.0 405.5,298.0 407.2,298.0 408.9,298.0 410.6,298.0 412.3,298.0 414.0,298.0 415.7,298.0 417.4,298.0 419.1,298.0 420.9,298.0 422.6,298.0 424.3,298.0 426.0,298.0 427.7,298.0 429.4,298.0 431.1,298.0 432.8,298.0 434.5,298.0 436.2,298.0 437.9,298.0 439.6,298.0 441.3,298.0 443.0,298.0 444.7,298.0 446.4,298.0 448.1,298.0 449.8,298.0 451.5,298.0 453.2,298.0 454.9,298.0 456.6,298.0 458.3,298.0 460.0,298.0 461.7,298.0 463.4,298.0 465.1,298.0 466.8,298.0 468.5,298.0 470.2,298.0 471.9,298.0 473.6,298.0 475.3,298.0 477.0,298.0 478.7,298.0 480.4,298.0 482.1,298.0 483.8,298.0 485.5,298.0 487.2,298.0 488.9,298.0 490.6,298.0 492.3,298.0 494.0,298.0 495.7,298.0 497.4,298.0 499.1,298.0 500.9,298.0 502.6,298.0 504.3,298.0 506.0,298.0 507.7,298.0 509.4,298.0 511.1,298.0 512.8,298.0 514.5,298.0 516.2,298.0 517.9,298.0 519.6,298.0 521.3,298.0 523.0,298.0 524.7,298.0 526.4,298.0 528.1,298.0 529.8,298.0 531.5,298.0 533.2,298.0 534.9,298.0 536.6,298.0 538.3,298.0 540.0,298.0" fill="none" stroke="#EDB120" stroke-width="4.0" stroke-linejoin="round"/>
<polyline points="42.0,298.5 43.8,298.6 45.5,298.5 47.2,298.7 49.0,298.7 50.8,298.9 52.5,298.8 54.2,299.0 56.0,299.1 57.8,299.2 59.5,299.1 61.2,299.0 63.0,299.2 64.8,299.0 66.5,299.2 68.2,299.3 70.0,299.5 71.7,299.7 73.3,299.8 75.0,299.5 76.7,299.5 78.3,299.5 80.0,299.3 81.7,299.7 83.3,299.6 85.0,300.0 86.7,299.9 88.3,300.0 90.0,300.0 91.7,300.1 93.4,299.9 95.1,300.1 96.8,300.5 98.5,299.9 100.2,300.2 101.8,300.1 103.5,300.7 105.2,300.3 106.9,300.4 108.6,300.4 110.3,300.1 112.0,300.3 113.5,300.6 115.0,300.3 116.5,300.5 118.0,301.0 119.6,301.3 121.3,301.0 122.9,301.9 124.6,301.3 126.2,301.8 127.8,302.1 129.5,301.0 131.1,301.9 132.8,300.7 134.4,301.0 136.0,301.5 137.7,301.2 139.3,301.3" fill="none" stroke="#77AC30" stroke-width="4.0" stroke-linejoin="round"/>
<polyline points="42.0,298.5 43.7,298.5 45.5,298.4 47.2,298.6 48.9,298.5 50.6,298.5 52.4,298.5 54.1,298.4 55.8,298.3 57.5,298.4 59.3,298.4 61.0,298.3 62.7,298.3 64.5,298.3 66.2,298.2 67.9,298.2 69.6,298.2 71.4,298.1 73.1,298.1 74.8,298.1 76.5,298.1 78.3,298.0 80.0,298.0 81.7,298.0 83.3,297.9 85.0,297.8 86.7,297.8 88.3,297.6 90.0,297.7 91.7,297.6 93.3,297.5 95.0,297.4 96.7,297.4 98.3,297.4 100.0,297.2 101.7,297.1 103.3,297.1 105.0,297.0 106.7,296.6 108.3,296.4 110.0,296.1 111.7,295.8 113.3,294.9 115.0,295.0 116.8,294.4 118.5,294.5 120.3,294.8 122.0,293.9 123.8,293.3 125.4,293.3 127.0,292.4 128.6,292.4 130.2,293.3 132.0,292.3 133.8,292.3 135.6,292.4 137.4,291.1 139.3,291.0 140.7,291.4 142.0,291.5 143.3,291.2 144.7,291.0 146.1,289.0 147.5,287.8 149.3,286.9 151.1,289.6 152.4,290.5 153.8,292.4 155.7,293.7 157.5,293.3 159.3,294.3 161.1,293.2 162.9,294.5 164.6,294.1 166.4,293.9 168.2,294.3 170.0,294.5 171.7,294.5 173.3,294.6 175.0,294.9 176.7,294.7 178.3,295.5 180.0,295.3 181.7,295.2 183.3,295.2 185.0,295.9 186.7,295.9 188.3,296.2 190.0,296.1 191.7,295.7 193.3,295.7 195.0,296.4 196.7,295.9 198.3,295.9 200.0,296.0 201.7,296.0 203.4,296.3 205.1,296.2 206.9,296.0 208.6,296.0 210.3,295.9 212.0,296.6 213.7,296.6 215.4,296.1 217.1,296.6 218.9,296.3 220.6,296.3 222.3,296.3 224.0,296.4 225.7,296.6 227.4,296.9 229.1,296.7 230.9,296.7 232.6,296.6 234.3,296.6 236.0,296.8 237.7,296.8 239.4,297.0 241.1,297.0 242.9,297.1 244.6,296.9 246.3,297.2 248.0,297.3 249.7,297.2 251.4,297.1 253.1,297.3 254.9,297.4 256.6,297.4 258.3,297.6 260.0,297.5 261.7,297.6 263.4,297.5 265.1,297.6 266.8,297.5 268.5,297.6 270.2,297.5 271.9,297.6 273.6,297.6 275.3,297.7 277.0,297.7 278.7,297.6 280.4,297.7 282.1,297.6 283.8,297.6 285.5,297.6 287.2,297.6 288.8,297.6 290.5,297.7 292.2,297.6 293.9,297.6 295.6,297.6 297.3,297.6 299.0,297.7 300.7,297.7 302.4,297.6 304.1,297.7 305.8,297.7 307.5,297.7 309.2,297.7 310.9,297.7 312.6,297.7 314.3,297.8 316.0,297.7 317.7,297.7 319.4,297.7 321.1,297.7 322.8,297.7 324.5,297.8 326.2,297.7 327.9,297.7 329.6,297.7 331.3,297.7 333.0,297.7 334.7,297.8 336.4,297.7 338.1,297.7 339.8,297.7 341.5,297.7 343.2,297.7 344.8,297.6 346.5,297.6 348.2,297.7 349.9,297.7 351.6,297.7 353.3,297.6 355.0,297.6 356.7,297.6 358.4,297.6 360.1,297.6 361.8,297.6 363.5,297.6 365.2,297.6 366.9,297.7 368.6,297.6 370.3,297.7 372.0,297.7 373.7,297.6 375.4,297.6 377.1,297.6 378.8,297.7 380.5,297.7 382.2,297.7 383.9,297.6 385.6,297.6 387.3,297.6 389.0,297.6 390.7,297.6 392.4,297.6 394.1,297.6 395.8,297.7 397.5,297.6 399.2,297.7 400.8,297.6 402.5,297.7 404.2,297.7 405.9,297.7 407.6,297.6 409.3,297.7 411.0,297.7 412.7,297.7 414.4,297.7 416.1,297.7 417.8,297.7 419.5,297.7 421.2,297.8 422.9,297.7 424.6,297.7 426.3,297.7 428.0,297.7 429.7,297.7 431.4,297.7 433.1,297.8 434.8,297.8 436.5,297.8 438.2,297.8 439.9,297.8 441.6,297.8 443.3,297.8 445.0,297.8 446.7,297.8 448.4,297.8 450.1,297.7 451.8,297.7 453.5,297.8 455.2,297.8 456.8,297.8 458.5,297.8 460.2,297.8 461.9,297.8 463.6,297.8 465.3,297.8 467.0,297.9 468.7,297.9 470.4,297.9 472.1,297.9 473.8,297.9 475.5,297.8 477.2,297.9 478.9,297.9 480.6,297.9 482.3,297.9 484.0,297.9 485.7,297.9 487.4,297.9 489.1,297.9 490.8,297.9 492.5,297.9 494.2,297.9 495.9,297.9 497.6,297.9 499.3,297.9 501.0,297.9 502.7,297.9 504.4,297.9 506.1,297.9 507.8,297.9 509.5,298.0 511.2,298.0 512.8,298.0 514.5,297.9 516.2,298.0 517.9,298.0 519.6,298.0 521.3,298.0 523.0,298.0 524.7,298.0 526.4,298.0 528.1,298.0 529.8,298.0 531.5,298.0 533.2,298.0 534.9,298.0 536.6,298.0 538.3,298.0 540.0,298.0" fill="none" stroke="#77AC30" stroke-width="4.0" stroke-linejoin="round"/>
<polyline points="42.0,292.0 43.5,291.8 45.0,292.8 46.5,292.5 48.0,294.0 49.6,294.9 51.2,295.2 52.8,295.4 54.4,295.9 56.0,296.5 57.8,296.6 59.5,296.6 61.2,296.8 63.0,297.0 64.8,297.0 66.5,297.3 68.2,297.3 70.0,297.5 71.7,297.3 73.3,297.4 75.0,297.1 76.7,297.2 78.3,297.0 80.0,296.8 81.7,296.9 83.3,296.7 85.0,296.9 86.7,296.6 88.3,296.7 90.0,296.6 91.7,296.5 93.3,296.9 95.0,296.5 96.7,296.6 98.3,295.7 100.0,295.3 101.7,294.4 103.3,294.6 105.0,294.5 106.8,294.0 108.5,293.8 110.2,292.9 112.0,292.8 113.5,292.5 115.0,292.1 116.5,292.4 118.0,293.1 119.6,292.3 121.1,291.9 122.4,290.4 123.8,290.5 125.2,290.3 126.5,289.2 127.9,287.2 129.3,286.5 130.7,284.7 132.0,284.2 133.3,284.7 134.7,281.9 136.5,277.8 138.4,276.9 139.7,275.1 141.1,270.5 142.0,269.2 142.9,271.5 143.8,278.7 144.7,283.3 146.1,285.5 147.5,283.3 149.3,280.5 151.1,278.7 152.5,280.5 153.8,286.0 155.6,288.7 157.0,291.3 158.4,290.1 160.4,291.1 162.3,290.7 164.3,292.6 165.8,293.3 167.4,292.4 168.9,293.3 170.4,293.6 171.9,293.4 173.5,293.7 175.1,294.0 176.6,293.6 178.1,293.2 179.6,293.6 181.2,292.6 182.7,291.6 184.8,291.5 186.8,289.5 188.9,287.5 190.4,288.9 191.9,289.5 193.4,291.2 195.0,291.6 197.1,290.9 199.1,290.6 200.6,287.1 202.1,283.4 204.2,277.3 206.2,274.2 208.3,275.2 209.3,285.4 211.3,286.5 213.4,288.0 215.4,285.4 217.4,283.0 219.5,282.4 221.6,291.6 223.6,293.5 225.7,294.7 227.2,294.8 228.8,294.9 230.3,294.9 231.8,294.7 233.4,295.2 235.1,296.2 236.7,295.6 238.4,295.5 240.0,296.0 241.7,296.1 243.3,295.6 245.0,295.7 246.7,296.2 248.3,295.8 250.0,296.0 251.7,296.2 253.4,296.5 255.2,296.2 256.9,296.3 258.6,296.4 260.3,296.1 262.1,296.5 263.8,296.3 265.5,296.5 267.2,296.7 269.0,296.5 270.7,296.2 272.4,296.3 274.1,296.3 275.9,296.5 277.6,296.4 279.3,296.7 281.0,296.7 282.8,296.8 284.5,296.7 286.2,296.7 287.9,296.8 289.7,296.8 291.4,296.5 293.1,296.7 294.8,296.6 296.6,296.5 298.3,296.6 300.0,296.5 301.7,296.8 303.3,296.8 305.0,296.9 306.7,296.9 308.3,297.2 310.0,297.2 311.7,297.1 313.3,297.2 315.0,297.3 316.7,297.4 318.3,297.4 320.0,297.5 321.7,297.6 323.3,297.7 325.0,297.8 326.7,297.8 328.3,297.9 330.0,298.0 331.7,298.0 333.4,298.0 335.1,298.0 336.8,298.0 338.5,298.0 340.2,298.0 341.9,298.0 343.5,298.0 345.2,298.0 346.9,298.0 348.6,298.0 350.3,298.0 352.0,298.0 353.7,298.0 355.4,298.0 357.1,298.0 358.8,298.0 360.5,298.0 362.2,298.0 363.9,298.0 365.6,298.0 367.3,298.0 369.0,298.0 370.6,298.0 372.3,298.0 374.0,298.0 375.7,298.0 377.4,298.0 379.1,298.0 380.8,298.0 382.5,298.0 384.2,298.0 385.9,298.0 387.6,298.0 389.3,298.0 391.0,298.0 392.7,298.0 394.4,298.0 396.0,298.0 397.7,298.0 399.4,298.0 401.1,298.0 402.8,298.0 404.5,298.0 406.2,298.0 407.9,298.0 409.6,298.0 411.3,298.0 413.0,298.0 414.7,298.0 416.4,298.0 418.1,298.0 419.8,298.0 421.5,298.0 423.1,298.0 424.8,298.0 426.5,298.0 428.2,298.0 429.9,298.0 431.6,298.0 433.3,298.0 435.0,298.0 436.7,298.0 438.4,298.0 440.1,298.0 441.8,298.0 443.5,298.0 445.2,298.0 446.9,298.0 448.5,298.0 450.2,298.0 451.9,298.0 453.6,298.0 455.3,298.0 457.0,298.0 458.7,298.0 460.4,298.0 462.1,298.0 463.8,298.0 465.5,298.0 467.2,298.0 468.9,298.0 470.6,298.0 472.3,298.0 474.0,298.0 475.6,298.0 477.3,298.0 479.0,298.0 480.7,298.0 482.4,298.0 484.1,298.0 485.8,298.0 487.5,298.0 489.2,298.0 490.9,298.0 492.6,298.0 494.3,298.0 496.0,298.0 497.7,298.0 499.4,298.0 501.0,298.0 502.7,298.0 504.4,298.0 506.1,298.0 507.8,298.0 509.5,298.0 511.2,298.0 512.9,298.0 514.6,298.0 516.3,298.0 518.0,298.0 519.7,298.0 521.4,298.0 523.1,298.0 524.8,298.0 526.5,298.0 528.1,298.0 529.8,298.0 531.5,298.0 533.2,298.0 534.9,298.0 536.6,298.0 538.3,298.0 540.0,298.0" fill="none" stroke="#77AC30" stroke-width="4.0" stroke-linejoin="round"/>
<polyline points="42.0,297.5 43.7,297.5 45.5,297.4 47.2,297.6 48.9,297.6 50.6,297.5 52.4,297.6 54.1,297.5 55.8,297.5 57.5,297.3 59.3,297.6 61.0,297.5 62.7,297.5 64.5,297.3 66.2,297.4 67.9,297.4 69.6,297.4 71.4,297.5 73.1,297.2 74.8,297.4 76.5,297.2 78.3,297.3 80.0,297.3 81.7,297.3 83.3,297.2 85.0,297.1 86.7,297.2 88.3,297.2 90.0,297.1 91.7,297.0 93.3,297.0 95.0,297.0 96.7,296.9 98.3,296.9 100.0,297.0 101.7,296.9 103.4,296.9 105.1,297.1 106.8,297.0 108.5,297.1 110.2,297.1 111.9,297.2 113.6,297.1 115.3,297.3 116.9,297.2 118.6,297.1 120.3,297.1 122.0,297.1 123.7,297.4 125.4,297.3 127.1,297.3 128.8,297.2 130.5,297.4 132.2,297.4 133.9,297.4 135.6,297.5 137.3,297.4 139.0,297.5 140.7,297.4 142.4,297.4 144.1,297.4 145.8,297.4 147.5,297.6 149.2,297.4 150.8,297.6 152.5,297.5 154.2,297.5 155.9,297.5 157.6,297.6 159.3,297.4 161.0,297.5 162.7,297.4 164.4,297.6 166.1,297.4 167.8,297.5 169.5,297.5 171.2,297.6 172.9,297.5 174.6,297.5 176.3,297.5 178.0,297.6 179.7,297.5 181.4,297.5 183.1,297.5 184.7,297.5 186.4,297.5 188.1,297.6 189.8,297.5 191.5,297.7 193.2,297.5 194.9,297.6 196.6,297.5 198.3,297.5 200.0,297.5 201.7,297.5 203.4,297.6 205.1,297.6 206.8,297.5 208.5,297.5 210.2,297.5 211.9,297.5 213.6,297.5 215.3,297.6 217.0,297.6 218.7,297.6 220.4,297.6 222.1,297.7 223.8,297.6 225.5,297.7 227.2,297.6 228.9,297.7 230.6,297.8 232.3,297.7 234.0,297.7 235.7,297.7 237.4,297.7 239.1,297.7 240.8,297.6 242.5,297.6 244.2,297.7 245.9,297.6 247.6,297.7 249.3,297.7 251.0,297.8 252.7,297.7 254.4,297.8 256.1,297.8 257.8,297.8 259.5,297.6 261.2,297.7 262.9,297.7 264.6,297.8 266.3,297.7 268.0,297.7 269.7,297.7 271.4,297.6 273.1,297.6 274.8,297.7 276.5,297.6 278.2,297.6 279.9,297.6 281.6,297.7 283.3,297.7 285.0,297.7 286.7,297.7 288.4,297.8 290.1,297.7 291.8,297.7 293.5,297.7 295.2,297.7 296.9,297.6 298.6,297.7 300.3,297.8 302.0,297.7 303.7,297.7 305.4,297.7 307.1,297.7 308.8,297.7 310.5,297.7 312.2,297.7 313.9,297.7 315.6,297.7 317.3,297.7 319.0,297.7 320.7,297.8 322.4,297.7 324.1,297.7 325.8,297.7 327.5,297.8 329.2,297.7 330.9,297.9 332.6,297.7 334.3,297.7 336.0,297.8 337.7,297.8 339.4,297.8 341.1,297.8 342.8,297.8 344.5,297.8 346.2,297.8 347.9,297.7 349.6,297.8 351.3,297.8 353.0,297.8 354.7,297.7 356.4,297.8 358.1,297.8 359.8,297.8 361.5,297.7 363.2,297.8 364.9,297.8 366.6,297.8 368.3,297.8 370.0,297.8 371.7,297.8 373.4,297.8 375.1,297.8 376.8,297.8 378.5,297.8 380.2,297.8 381.9,297.8 383.6,297.8 385.3,297.8 387.0,297.9 388.7,297.9 390.4,297.8 392.1,297.9 393.8,297.8 395.5,297.8 397.2,297.9 398.9,297.8 400.6,297.8 402.3,297.8 404.0,297.8 405.7,297.8 407.4,297.8 409.1,297.8 410.8,297.8 412.5,297.8 414.2,297.8 415.9,297.8 417.6,297.8 419.3,297.9 421.0,297.8 422.7,297.9 424.4,297.9 426.1,297.9 427.8,297.9 429.5,297.9 431.2,297.9 432.9,297.9 434.6,297.9 436.3,297.9 438.0,297.9 439.7,297.9 441.4,297.9 443.1,297.9 444.8,298.0 446.5,297.9 448.2,297.9 449.9,297.9 451.6,297.9 453.3,297.9 455.0,297.9 456.7,297.9 458.4,297.9 460.1,297.9 461.8,297.9 463.5,297.9 465.2,297.9 466.9,297.9 468.6,297.9 470.3,297.9 472.0,297.9 473.7,297.9 475.4,297.9 477.1,297.9 478.8,297.9 480.5,297.9 482.2,297.9 483.9,297.9 485.6,297.9 487.3,297.9 489.0,297.9 490.7,297.9 492.4,297.9 494.1,297.9 495.8,297.9 497.5,297.9 499.2,298.0 500.9,297.9 502.6,297.9 504.3,297.9 506.0,297.9 507.7,297.9 509.4,297.9 511.1,298.0 512.8,298.0 514.5,298.0 516.2,298.0 517.9,298.0 519.6,298.0 521.3,298.0 523.0,298.0 524.7,298.0 526.4,298.0 528.1,298.0 529.8,298.0 531.5,298.0 533.2,298.0 534.9,298.0 536.6,298.0 538.3,298.0 540.0,298.0" fill="none" stroke="#0072BD" stroke-width="4.0" stroke-linejoin="round"/>
<polyline points="42.0,298.0 43.7,298.0 45.4,298.0 47.1,298.0 48.8,298.0 50.5,298.0 52.2,298.0 53.9,298.0 55.6,297.9 57.4,298.0 59.1,297.9 60.8,297.9 62.5,297.9 64.2,297.9 65.9,297.9 67.6,297.9 69.3,297.9 71.0,297.9 72.7,297.9 74.4,297.9 76.1,297.9 77.8,297.9 79.5,297.9 81.2,297.9 82.9,297.9 84.6,297.8 86.4,297.8 88.1,297.8 89.8,297.8 91.5,297.8 93.2,297.8 94.9,297.8 96.6,297.8 98.3,297.8 100.0,297.8 101.7,297.8 103.4,297.8 105.1,297.8 106.8,297.8 108.5,297.8 110.2,297.9 111.9,297.9 113.6,297.9 115.3,297.9 117.0,297.9 118.7,297.9 120.4,297.9 122.1,297.9 123.8,297.9 125.5,297.9 127.2,297.9 128.9,297.9 130.6,297.9 132.3,297.8 134.0,297.8 135.7,297.8 137.4,297.8 139.1,297.8 140.8,297.9 142.5,297.8 144.2,297.8 145.9,297.8 147.6,297.9 149.3,297.8 151.0,297.9 152.7,297.8 154.4,297.9 156.1,297.8 157.8,297.8 159.5,297.8 161.2,297.8 162.9,297.8 164.6,297.8 166.3,297.8 168.0,297.9 169.7,297.8 171.4,297.9 173.1,297.8 174.7,297.9 176.4,297.8 178.1,297.8 179.8,297.8 181.5,297.9 183.2,297.9 184.9,297.9 186.6,297.9 188.3,297.8 190.0,297.8 191.7,297.8 193.4,297.8 195.1,297.9 196.8,297.8 198.5,297.8 200.2,297.8 201.9,297.9 203.6,297.8 205.3,297.8 207.0,297.8 208.7,297.9 210.4,297.9 212.1,297.8 213.8,297.8 215.5,297.9 217.2,297.8 218.9,297.8 220.6,297.8 222.3,297.8 224.0,297.9 225.7,297.8 227.4,297.9 229.1,297.9 230.8,297.9 232.5,297.9 234.2,297.8 235.9,297.9 237.6,297.9 239.3,297.9 241.0,297.9 242.7,297.9 244.4,297.9 246.1,297.9 247.8,297.9 249.5,297.9 251.2,297.9 252.9,297.9 254.6,297.9 256.3,297.9 258.0,297.9 259.7,297.9 261.4,297.9 263.1,297.9 264.8,297.9 266.5,297.9 268.2,297.8 269.9,297.8 271.6,297.9 273.3,297.9 275.0,297.8 276.7,297.8 278.4,297.9 280.1,297.9 281.8,297.8 283.5,297.9 285.2,297.8 286.9,297.9 288.6,297.8 290.3,297.9 292.0,297.9 293.7,297.9 295.4,297.9 297.1,297.8 298.8,297.9 300.5,297.9 302.2,297.9 303.9,297.8 305.6,297.9 307.3,297.9 309.0,297.9 310.7,297.9 312.4,297.9 314.1,297.9 315.8,297.9 317.5,297.9 319.2,297.9 320.8,297.9 322.5,297.9 324.2,297.9 325.9,297.9 327.6,297.9 329.3,297.9 331.0,297.9 332.7,297.9 334.4,297.9 336.1,297.9 337.8,297.9 339.5,297.9 341.2,297.9 342.9,297.9 344.6,297.9 346.3,297.9 348.0,297.9 349.7,297.9 351.4,297.9 353.1,297.9 354.8,297.9 356.5,297.9 358.2,297.9 359.9,297.9 361.6,297.9 363.3,297.9 365.0,297.9 366.7,297.9 368.4,297.9 370.1,297.9 371.8,297.9 373.5,297.9 375.2,297.9 376.9,297.9 378.6,297.9 380.3,297.9 382.0,297.9 383.7,297.9 385.4,297.9 387.1,297.9 388.8,297.9 390.5,297.9 392.2,297.9 393.9,297.9 395.6,297.9 397.3,297.9 399.0,297.9 400.7,297.9 402.4,297.9 404.1,297.9 405.8,297.9 407.5,297.9 409.2,297.9 410.9,297.9 412.6,297.9 414.3,297.9 416.0,297.9 417.7,297.9 419.4,297.9 421.1,297.9 422.8,297.9 424.5,297.9 426.2,297.9 427.9,297.9 429.6,298.0 431.3,298.0 433.0,297.9 434.7,297.9 436.4,297.9 438.1,298.0 439.8,298.0 441.5,298.0 443.2,298.0 444.9,298.0 446.6,298.0 448.3,298.0 450.0,298.0 451.7,298.0 453.4,298.0 455.1,298.0 456.8,298.0 458.5,298.0 460.2,298.0 461.9,298.0 463.6,298.0 465.3,298.0 466.9,298.0 468.6,298.0 470.3,298.0 472.0,298.0 473.7,298.0 475.4,298.0 477.1,298.0 478.8,298.0 480.5,298.0 482.2,298.0 483.9,298.0 485.6,298.0 487.3,298.0 489.0,298.0 490.7,298.0 492.4,298.0 494.1,298.0 495.8,298.0 497.5,298.0 499.2,298.0 500.9,298.0 502.6,298.0 504.3,298.0 506.0,298.0 507.7,298.0 509.4,298.0 511.1,298.0 512.8,298.0 514.5,298.0 516.2,298.0 517.9,298.0 519.6,298.0 521.3,298.0 523.0,298.0 524.7,298.0 526.4,298.0 528.1,298.0 529.8,298.0 531.5,298.0 533.2,298.0 534.9,298.0 536.6,298.0 538.3,298.0 540.0,298.0" fill="none" stroke="#0072BD" stroke-width="4.0" stroke-linejoin="round"/>
<polyline points="42.0,303.5 43.7,302.9 45.5,302.2 47.2,303.2 48.9,302.0 50.6,301.7 52.4,302.2 54.1,302.1 55.8,303.5 57.5,302.1 59.3,301.8 61.0,302.6 62.7,302.4 64.5,302.6 66.2,302.1 67.9,302.8 69.6,303.8 71.4,302.8 73.1,303.2 74.8,302.6 76.5,302.3 78.3,303.8 80.0,303.0 81.7,302.7 83.3,301.9 85.0,302.0 86.7,301.8 88.3,301.4 90.0,301.7 91.7,301.1 93.3,301.5 95.0,302.8 96.7,301.1 98.3,301.5 100.0,300.7 101.7,302.1 103.3,301.3 105.0,301.9 106.7,301.1 108.3,302.1 110.0,302.5 111.7,302.0 113.3,302.2 115.0,301.8 116.7,301.8 118.3,302.7 120.0,302.5 121.7,303.0 123.3,302.1 125.0,302.4 126.7,301.9 128.3,300.9 130.0,301.8 131.7,301.7 133.3,301.8 135.0,301.1 136.7,301.3 138.3,301.6 140.0,302.3 141.7,302.4 143.3,301.5 145.0,301.8 146.7,301.2 148.3,301.7 150.0,302.0 151.7,302.3 153.3,302.2 155.0,301.9 156.7,301.7 158.3,303.0 160.0,302.4 161.7,301.8 163.3,303.0 165.0,302.4 166.7,302.3 168.3,301.4 170.0,301.7 171.7,302.4 173.3,303.0 175.0,303.6 176.7,302.7 178.3,302.8 180.0,302.8 181.7,303.4 183.3,302.5 185.0,303.3 186.7,301.8 188.3,301.6 190.0,302.5 191.7,302.3 193.3,302.7 195.0,302.6 196.7,302.3 198.3,302.0 200.0,302.1 201.7,302.9 203.3,302.9 205.0,302.5 206.7,302.8 208.3,301.9 210.0,301.9 211.7,303.0 213.3,302.0 215.0,303.6 216.7,303.6 218.3,302.8 220.0,302.9 221.8,303.5 223.7,302.1 225.6,303.2 227.4,302.9 229.2,303.1 231.1,303.7 232.9,303.2 234.7,303.8 236.5,304.8 238.4,306.4 240.2,307.3 242.1,306.6 243.9,305.7 245.8,306.7 247.7,306.9 249.5,307.5 251.3,306.3 253.2,307.1 255.0,304.7 256.9,306.7 258.7,308.4 260.5,314.2 262.4,317.6 264.2,325.4 266.0,326.8 267.9,337.0 269.7,339.7 271.1,341.2 272.5,352.6 273.9,354.0 275.2,349.0 277.1,337.9 278.6,334.1 280.0,328.7 282.0,320.0 284.5,311.6 286.4,307.3 288.2,308.0 290.0,308.6 291.8,306.2 293.6,303.0 295.5,303.7 297.3,305.0 299.1,304.2 300.9,303.1 302.7,303.5 304.5,301.8 306.4,302.5 308.1,302.4 309.8,302.3 311.5,301.9 313.2,301.9 314.9,301.1 316.6,301.3 318.3,301.1 320.0,301.0 321.7,301.0 323.3,300.2 325.0,300.5 326.7,300.7 328.3,300.2 330.0,300.6 331.7,300.1 333.3,300.6 335.0,301.1 336.7,300.7 338.3,300.6 340.0,300.6 341.7,300.4 343.3,301.0 345.0,300.4 346.7,300.5 348.3,301.0 350.0,300.5 351.7,300.6 353.3,300.1 355.0,300.4 356.7,300.6 358.3,300.3 360.0,300.1 361.7,300.2 363.3,299.7 365.0,299.6 366.7,299.9 368.3,299.8 370.0,300.4 371.7,300.2 373.3,299.7 375.0,299.8 376.7,300.0 378.3,300.4 380.0,299.8 381.7,300.0 383.3,300.3 385.0,299.6 386.7,299.9 388.3,299.9 390.0,300.0 391.7,299.8 393.3,299.3 395.0,299.1 396.7,299.3 398.3,299.1 400.0,298.9 401.7,299.0 403.3,298.9 405.0,298.8 406.7,298.6 408.3,298.6 410.0,298.5 411.7,298.5 413.3,298.4 415.0,298.3 416.7,298.2 418.3,298.1 420.0,298.0 421.7,298.0 423.4,298.0 425.1,298.0 426.8,298.0 428.5,298.0 430.1,298.0 431.8,298.0 433.5,298.0 435.2,298.0 436.9,298.0 438.6,298.0 440.3,298.0 442.0,298.0 443.7,298.0 445.4,298.0 447.0,298.0 448.7,298.0 450.4,298.0 452.1,298.0 453.8,298.0 455.5,298.0 457.2,298.0 458.9,298.0 460.6,298.0 462.3,298.0 463.9,298.0 465.6,298.0 467.3,298.0 469.0,298.0 470.7,298.0 472.4,298.0 474.1,298.0 475.8,298.0 477.5,298.0 479.2,298.0 480.8,298.0 482.5,298.0 484.2,298.0 485.9,298.0 487.6,298.0 489.3,298.0 491.0,298.0 492.7,298.0 494.4,298.0 496.1,298.0 497.7,298.0 499.4,298.0 501.1,298.0 502.8,298.0 504.5,298.0 506.2,298.0 507.9,298.0 509.6,298.0 511.3,298.0 513.0,298.0 514.6,298.0 516.3,298.0 518.0,298.0 519.7,298.0 521.4,298.0 523.1,298.0 524.8,298.0 526.5,298.0 528.2,298.0 529.9,298.0 531.5,298.0 533.2,298.0 534.9,298.0 536.6,298.0 538.3,298.0 540.0,298.0" fill="none" stroke="#4DBEEE" stroke-width="4.0" stroke-linejoin="round"/>
<polyline points="42.0,302.0 43.5,303.8 44.9,304.2 46.3,305.1 47.8,306.4 49.2,307.2 50.7,307.0 52.2,305.3 53.6,305.6 55.0,305.5 56.5,303.5 58.0,301.7 59.5,301.3 60.9,300.4 62.4,300.4 63.8,299.8 65.4,299.8 67.0,299.8 68.7,300.0 70.3,299.5 71.9,299.8 73.5,299.3 75.1,299.7 76.8,299.6 78.4,299.4 80.0,299.5 81.7,299.5 83.4,299.7 85.1,299.5 86.8,299.5 88.5,299.3 90.1,299.5 91.8,299.4 93.5,299.3 95.2,299.2 96.9,299.2 98.6,299.1 100.3,299.3 102.0,299.2 103.7,299.4 105.4,299.4 107.0,299.4 108.7,299.2 110.4,299.6 112.1,299.3 113.8,299.6 115.5,299.6 117.2,299.3 118.9,299.4 120.6,299.3 122.3,299.2 123.9,299.1 125.6,299.0 127.3,299.5 129.0,299.3 130.7,299.3 132.4,299.4 134.1,299.4 135.8,299.4 137.5,299.4 139.2,299.4 140.8,299.3 142.5,299.2 144.2,299.2 145.9,299.2 147.6,299.2 149.3,299.1 151.0,299.2 152.7,298.8 154.4,299.0 156.1,299.1 157.7,298.9 159.4,299.2 161.1,298.9 162.8,299.3 164.5,299.3 166.2,299.3 167.9,299.1 169.6,299.1 171.3,299.2 173.0,299.2 174.6,299.0 176.3,298.9 178.0,299.0 179.7,299.1 181.4,298.9 183.1,299.1 184.8,298.9 186.5,299.0 188.2,299.1 189.9,299.0 191.5,298.9 193.2,299.2 194.9,299.0 196.6,298.9 198.3,299.0 200.0,299.0 201.7,298.9 203.4,299.0 205.1,299.0 206.8,299.0 208.5,299.2 210.2,299.0 211.9,298.9 213.6,299.0 215.3,299.0 217.0,299.1 218.7,298.8 220.4,299.0 222.1,299.1 223.8,298.9 225.5,299.2 227.2,299.1 228.9,298.7 230.6,299.0 232.3,299.0 234.0,299.0 235.7,299.0 237.4,299.1 239.1,299.1 240.8,299.1 242.5,298.9 244.2,299.0 245.9,298.9 247.6,299.1 249.3,298.9 251.0,299.1 252.7,299.0 254.4,299.1 256.1,299.0 257.8,299.2 259.5,298.9 261.2,299.0 262.9,298.8 264.6,298.9 266.3,298.9 268.0,298.7 269.7,298.7 271.4,298.7 273.1,298.7 274.8,298.8 276.5,298.9 278.2,298.8 279.9,298.9 281.6,298.6 283.3,298.7 285.0,298.7 286.7,298.7 288.4,298.9 290.1,298.8 291.8,298.7 293.5,298.8 295.2,298.8 296.9,299.0 298.6,298.9 300.3,299.0 302.0,299.0 303.7,298.8 305.4,298.9 307.1,298.8 308.8,298.8 310.5,298.7 312.2,298.8 313.9,298.8 315.6,298.8 317.3,298.8 319.0,298.9 320.7,298.8 322.4,298.8 324.1,298.8 325.8,298.9 327.5,298.9 329.2,298.9 330.9,298.9 332.6,298.9 334.3,298.8 336.0,298.9 337.7,298.9 339.4,298.8 341.1,298.9 342.8,298.8 344.5,298.8 346.2,298.8 347.9,298.8 349.6,298.8 351.3,298.8 353.0,298.9 354.7,298.8 356.4,298.8 358.1,298.9 359.8,298.9 361.5,298.9 363.2,298.9 364.9,298.9 366.6,298.9 368.3,298.8 370.0,298.8 371.7,298.6 373.4,298.7 375.1,298.7 376.8,298.8 378.5,298.7 380.2,298.7 381.9,298.6 383.6,298.7 385.3,298.7 387.0,298.7 388.7,298.7 390.4,298.7 392.1,298.7 393.8,298.6 395.5,298.7 397.2,298.6 398.9,298.6 400.6,298.6 402.3,298.6 404.0,298.5 405.7,298.6 407.4,298.5 409.1,298.6 410.8,298.6 412.5,298.6 414.2,298.6 415.9,298.5 417.6,298.5 419.3,298.6 421.0,298.6 422.7,298.5 424.4,298.5 426.1,298.4 427.8,298.5 429.5,298.5 431.2,298.4 432.9,298.4 434.6,298.4 436.3,298.4 438.0,298.4 439.7,298.4 441.4,298.4 443.1,298.4 444.8,298.4 446.5,298.4 448.2,298.4 449.9,298.4 451.6,298.4 453.3,298.4 455.0,298.4 456.7,298.4 458.4,298.4 460.1,298.4 461.8,298.4 463.5,298.3 465.2,298.3 466.9,298.3 468.6,298.3 470.3,298.4 472.0,298.3 473.7,298.3 475.4,298.3 477.1,298.3 478.8,298.3 480.5,298.3 482.2,298.3 483.9,298.2 485.6,298.3 487.3,298.3 489.0,298.3 490.7,298.3 492.4,298.2 494.1,298.3 495.8,298.2 497.5,298.2 499.2,298.2 500.9,298.2 502.6,298.2 504.3,298.2 506.0,298.1 507.7,298.2 509.4,298.1 511.1,298.1 512.8,298.1 514.5,298.1 516.2,298.1 517.9,298.1 519.6,298.1 521.3,298.1 523.0,298.1 524.7,298.1 526.4,298.1 528.1,298.1 529.8,298.1 531.5,298.0 533.2,298.0 534.9,298.0 536.6,298.0 538.3,298.0 540.0,298.0" fill="none" stroke="#D95319" stroke-width="4.0" stroke-linejoin="round"/>
<polyline points="42.0,304.9 43.5,304.2 44.9,307.0 46.3,307.6 47.8,308.5 49.2,308.7 50.7,307.8 52.2,305.6 53.6,306.4 55.0,304.2 56.5,304.2 58.0,303.8 59.5,302.7 60.9,302.6 62.4,302.0 63.8,302.0 65.3,301.8 66.7,301.4 68.2,302.0 70.1,301.9 72.1,302.1 74.0,302.0 75.9,302.9 77.9,302.5 79.8,302.7 81.7,303.4 83.7,302.8 85.6,302.7 87.1,303.3 88.5,302.1 90.0,302.7 91.5,302.8 92.9,304.2 94.3,304.7 95.8,306.4 97.2,307.9 98.7,309.3 100.2,310.6 101.6,308.5 103.0,305.6 104.5,303.5 106.0,311.5 107.5,315.8 109.0,326.0 109.6,333.3 110.4,331.8 111.0,321.6 111.8,311.5 113.3,307.0 114.8,307.7 116.2,310.0 117.6,310.6 119.0,308.5 121.0,307.9 122.9,308.4 124.5,306.6 126.2,307.9 127.8,305.9 129.4,306.4 131.1,305.0 132.8,307.3 134.4,309.2 136.0,314.8 137.6,314.1 139.2,317.7 140.9,320.6 142.6,318.2 144.2,318.2 145.8,318.5 147.5,316.5 150.0,316.0 151.5,319.0 153.0,311.0 154.5,302.0 156.3,301.1 158.2,301.3 160.0,300.5 161.7,300.7 163.3,300.9 165.0,300.7 166.7,300.4 168.3,300.0 170.0,300.3 171.7,300.8 173.3,300.9 175.0,301.0 176.7,300.9 178.3,301.1 180.0,301.0 181.7,300.7 183.3,301.2 185.0,301.4 186.7,301.2 188.3,300.9 190.0,300.9 191.7,301.3 193.3,300.6 195.0,301.2 196.7,300.6 198.3,300.6 200.0,300.5 201.7,300.2 203.4,300.7 205.1,300.3 206.9,300.5 208.6,300.2 210.3,299.9 212.0,300.0 213.7,299.9 215.4,300.2 217.1,300.1 218.9,299.9 220.6,299.9 222.3,299.6 224.0,299.9 225.7,299.7 227.4,299.6 229.1,299.6 230.9,299.4 232.6,299.4 234.3,298.9 236.0,299.2 237.7,299.4 239.4,299.1 241.1,299.5 242.9,299.7 244.6,299.6 246.3,299.1 248.0,299.3 249.7,299.4 251.4,299.2 253.1,299.3 254.9,299.2 256.6,298.9 258.3,298.9 260.0,299.0 261.7,299.0 263.3,299.0 265.0,299.0 266.7,298.8 268.3,298.9 270.0,298.8 271.7,299.0 273.3,298.9 275.0,299.0 276.7,298.9 278.3,299.1 280.0,299.0 281.7,299.0 283.3,299.0 285.0,298.8 286.7,298.8 288.3,298.7 290.0,298.7 291.7,298.6 293.3,298.7 295.0,298.6 296.7,298.5 298.3,298.5 300.0,298.5 301.7,298.5 303.4,298.6 305.1,298.5 306.8,298.6 308.5,298.6 310.2,298.6 311.9,298.6 313.6,298.6 315.3,298.6 317.0,298.5 318.7,298.5 320.4,298.5 322.1,298.6 323.8,298.4 325.5,298.5 327.2,298.5 328.9,298.5 330.6,298.5 332.3,298.5 334.0,298.6 335.7,298.5 337.4,298.5 339.1,298.6 340.9,298.5 342.6,298.5 344.3,298.5 346.0,298.5 347.7,298.5 349.4,298.6 351.1,298.5 352.8,298.5 354.5,298.5 356.2,298.5 357.9,298.5 359.6,298.5 361.3,298.4 363.0,298.4 364.7,298.3 366.4,298.4 368.1,298.3 369.8,298.4 371.5,298.4 373.2,298.4 374.9,298.3 376.6,298.4 378.3,298.4 380.0,298.3 381.7,298.3 383.4,298.4 385.1,298.4 386.8,298.3 388.5,298.3 390.2,298.3 391.9,298.3 393.6,298.4 395.3,298.3 397.0,298.4 398.7,298.4 400.4,298.3 402.1,298.4 403.8,298.3 405.5,298.3 407.2,298.3 408.9,298.3 410.6,298.2 412.3,298.4 414.0,298.3 415.7,298.3 417.4,298.3 419.1,298.3 420.9,298.3 422.6,298.2 424.3,298.2 426.0,298.3 427.7,298.2 429.4,298.2 431.1,298.2 432.8,298.2 434.5,298.2 436.2,298.2 437.9,298.2 439.6,298.2 441.3,298.2 443.0,298.2 444.7,298.2 446.4,298.2 448.1,298.2 449.8,298.2 451.5,298.2 453.2,298.2 454.9,298.2 456.6,298.2 458.3,298.2 460.0,298.2 461.7,298.2 463.4,298.2 465.1,298.2 466.8,298.2 468.5,298.2 470.2,298.1 471.9,298.1 473.6,298.1 475.3,298.1 477.0,298.1 478.7,298.1 480.4,298.1 482.1,298.1 483.8,298.1 485.5,298.1 487.2,298.1 488.9,298.1 490.6,298.1 492.3,298.1 494.0,298.1 495.7,298.1 497.4,298.1 499.1,298.1 500.9,298.1 502.6,298.1 504.3,298.1 506.0,298.1 507.7,298.1 509.4,298.1 511.1,298.0 512.8,298.0 514.5,298.0 516.2,298.0 517.9,298.0 519.6,298.0 521.3,298.0 523.0,298.0 524.7,298.0 526.4,298.0 528.1,298.0 529.8,298.0 531.5,298.0 533.2,298.0 534.9,298.0 536.6,298.0 538.3,298.0 540.0,298.0" fill="none" stroke="#A2142F" stroke-width="4.0" stroke-linejoin="round"/>
<polyline points="42.0,302.7 43.8,302.9 45.6,300.6 47.5,302.3 49.3,302.0 51.1,302.1 52.9,301.5 54.7,302.4 56.5,302.0 58.3,302.6 60.1,301.9 62.0,301.9 63.8,302.0 65.7,303.1 67.7,301.8 69.6,302.0 71.0,303.0 72.5,303.5 74.0,303.9 75.5,305.6 77.0,306.1 78.4,307.8 79.8,309.3 81.3,310.0 82.8,307.8 84.2,309.3 85.7,309.0 87.1,310.7 88.5,312.2 90.0,312.9 91.5,314.7 92.9,314.4 94.3,314.1 95.8,316.5 97.2,313.9 98.7,317.3 100.2,314.1 101.6,315.0 103.8,312.9 106.0,308.5 107.5,306.6 109.0,304.2 110.4,304.4 111.8,302.7 113.2,302.2 114.7,302.0 116.2,302.9 117.6,303.5 119.4,304.8 121.3,304.3 122.9,304.0 124.5,304.3 126.2,306.5 127.8,307.5 129.4,307.4 131.1,310.8 132.8,309.3 134.4,309.2 136.8,312.5 139.3,319.0 141.7,323.9 144.2,330.4 145.8,337.0 147.5,327.2 149.9,329.6 152.0,332.5 154.1,338.6 156.1,334.5 158.2,340.7 159.5,344.0 161.0,338.0 162.3,332.5 164.3,322.3 166.4,320.2 168.4,324.3 170.4,318.2 172.5,314.1 174.5,310.0 176.6,310.2 178.6,308.0 180.6,307.6 182.7,306.9 184.8,306.8 186.8,304.9 188.9,303.7 190.9,302.8 192.9,303.8 195.0,303.9 197.1,304.7 199.1,305.9 201.1,305.1 203.2,304.9 205.2,306.7 207.3,308.0 209.3,305.1 211.3,302.8 213.4,305.1 215.4,305.9 217.4,304.6 219.5,303.9 221.6,304.7 223.6,308.0 225.5,305.4 227.4,304.7 229.2,306.8 231.0,308.4 232.8,309.5 234.7,306.6 236.6,309.1 238.4,310.3 240.2,309.4 242.1,308.4 243.6,312.7 245.1,315.1 247.1,312.0 248.6,309.4 250.0,306.5 251.6,304.5 253.1,306.6 254.9,309.3 256.8,308.4 258.7,314.0 260.5,319.5 262.4,326.8 264.2,337.9 266.0,350.8 267.9,345.2 269.7,336.0 271.8,333.5 273.6,324.4 275.5,320.7 277.3,328.0 279.1,318.9 280.9,315.3 282.7,324.4 284.5,315.3 286.4,313.5 288.2,317.1 290.0,338.9 290.9,351.6 291.8,349.8 292.7,333.5 293.6,320.7 295.5,318.9 297.3,317.1 299.1,324.4 300.9,311.6 302.7,309.8 304.5,322.5 306.4,318.9 308.2,326.2 310.0,320.7 311.8,315.3 313.6,313.5 315.5,320.7 317.3,331.6 319.1,320.7 320.9,318.9 322.7,320.7 324.5,326.2 326.4,322.5 328.2,313.5 330.0,316.1 331.8,317.1 333.6,316.4 335.5,315.3 337.3,318.0 339.1,315.3 340.5,318.4 341.8,318.9 343.1,319.4 344.5,324.4 346.4,330.7 348.2,329.8 350.0,328.0 351.8,324.4 353.6,328.9 355.5,317.1 357.3,309.8 359.1,302.5 360.9,304.4 362.7,304.0 364.5,306.2 366.4,305.5 368.2,304.4 370.0,303.5 371.8,302.9 373.6,302.8 375.5,301.0 377.3,301.0 379.1,300.9 380.9,300.6 382.7,300.4 384.5,300.5 386.3,300.3 388.2,300.0 390.0,299.5 391.7,299.1 393.3,298.8 395.0,298.7 396.7,298.4 398.3,298.2 400.0,298.0" fill="none" stroke="#4DBEEE" stroke-width="4.0" stroke-linejoin="round"/>
<polyline points="139.3,301.3 140.9,302.5 142.5,302.5 144.2,304.1 145.8,304.8 147.9,306.1 150.0,309.0 152.1,311.1 154.1,311.0 156.1,311.9 158.2,313.0 160.2,315.5 162.3,316.1 164.3,320.2 166.4,328.4 168.4,338.6 170.4,350.9 172.5,346.8 174.5,332.5 176.6,324.3 178.6,330.4 180.7,344.8 182.7,338.6 184.8,326.3 186.8,318.2 188.9,314.1 190.9,314.5 193.0,313.0 195.0,310.4 197.0,314.1 199.1,315.4 201.1,316.1 203.2,320.2 205.2,316.1 207.3,312.0 209.3,314.1 211.3,324.3 213.4,328.4 215.4,331.9 217.5,330.4 219.5,326.3 221.8,334.2 223.2,340.0 225.2,352.3 226.2,358.4 228.3,350.2 229.3,342.0 231.4,360.4 233.4,370.7 235.4,374.8 237.5,395.2 238.5,397.3 239.5,385.0 240.6,366.6 241.6,356.4 242.6,348.2 243.6,340.0 245.8,323.1 247.6,328.7 249.5,332.4 251.3,326.8 253.1,328.0 253.9,340.0 255.9,350.2 258.0,360.4 260.0,362.5 262.0,380.9 263.1,401.3 264.1,425.9 265.1,417.7 266.1,391.1 267.1,372.7 269.2,370.7 271.2,348.2 272.3,342.0 274.5,339.0 276.3,352.3 278.4,362.5 280.4,370.7 282.5,362.5 283.5,348.2 285.3,329.9 286.4,324.4 288.2,315.3 290.0,309.8 291.8,307.8 293.6,304.4 295.5,305.6 297.3,306.2 299.1,305.0 300.9,302.5 302.7,302.5 304.5,302.5 306.4,300.5 308.2,298.9 309.9,298.7 311.6,298.6 313.3,298.5 314.9,298.3 316.6,298.3 318.3,298.1 320.0,298.0 321.7,298.0 323.4,298.0 325.1,298.0 326.8,298.0 328.5,298.0 330.2,298.0 331.9,298.0 333.6,298.0 335.3,298.0 337.0,298.0 338.7,298.0 340.4,298.0 342.1,298.0 343.8,298.0 345.5,298.0 347.2,298.0 348.9,298.0 350.6,298.0 352.3,298.0 354.0,298.0 355.7,298.0 357.4,298.0 359.1,298.0 360.9,298.0 362.6,298.0 364.3,298.0 366.0,298.0 367.7,298.0 369.4,298.0 371.1,298.0 372.8,298.0 374.5,298.0 376.2,298.0 377.9,298.0 379.6,298.0 381.3,298.0 383.0,298.0 384.7,298.0 386.4,298.0 388.1,298.0 389.8,298.0 391.5,298.0 393.2,298.0 394.9,298.0 396.6,298.0 398.3,298.0 400.0,298.0" fill="none" stroke="#77AC30" stroke-width="4.0" stroke-linejoin="round"/>
<polyline points="42.0,294.0 43.7,294.4 45.3,294.0 47.0,294.0 48.7,293.6 50.3,293.8 52.0,293.5 54.0,293.6 56.0,293.8 58.0,293.6 60.0,293.5 61.5,292.5 63.0,292.5 64.5,292.7 66.0,293.5 68.0,294.0 70.0,294.5 72.0,294.7 74.0,293.5 75.5,292.4 77.0,292.0 78.5,291.7 80.0,293.0 82.0,293.2 84.0,294.5 85.5,294.8 87.0,294.6 88.5,293.9 90.0,294.0 91.5,293.6 93.0,292.8 94.5,293.5 96.0,293.5 98.0,293.6 100.0,293.5 101.7,293.1 103.3,293.1 105.0,293.0 106.7,293.8 108.3,294.4 110.0,293.5 111.7,294.0 113.3,293.9 115.0,295.2 116.7,295.1 118.3,294.5 120.0,295.0 121.7,295.6 123.3,294.7 125.0,295.3 126.7,295.3 128.3,295.7 130.0,295.5 131.7,295.7 133.3,295.8 135.0,296.1 136.7,296.1 138.3,296.2 140.0,296.5 141.7,297.2 143.4,296.8 145.1,296.5 146.9,296.8 148.6,296.9 150.3,296.9 152.0,296.8 153.7,297.0 155.4,297.1 157.1,297.0 158.9,296.8 160.6,296.8 162.3,296.6 164.0,296.8 165.7,296.7 167.4,296.8 169.1,297.0 170.9,297.0 172.6,297.0 174.3,296.9 176.0,297.0 177.7,297.2 179.4,297.1 181.1,297.0 182.9,297.2 184.6,297.2 186.3,297.2 188.0,297.1 189.7,297.3 191.4,297.2 193.1,297.3 194.9,297.4 196.6,297.4 198.3,297.5 200.0,297.5 201.7,297.5 203.4,297.5 205.1,297.5 206.8,297.5 208.5,297.6 210.2,297.6 211.9,297.5 213.6,297.4 215.3,297.5 217.0,297.5 218.7,297.5 220.4,297.5 222.1,297.5 223.8,297.5 225.5,297.6 227.2,297.5 228.9,297.6 230.6,297.5 232.3,297.5 234.0,297.5 235.7,297.5 237.4,297.5 239.1,297.6 240.8,297.5 242.5,297.6 244.2,297.5 245.9,297.6 247.6,297.6 249.3,297.6 251.0,297.7 252.7,297.7 254.4,297.7 256.1,297.7 257.8,297.7 259.5,297.7 261.2,297.6 262.9,297.6 264.6,297.6 266.3,297.6 268.0,297.6 269.7,297.7 271.4,297.6 273.1,297.7 274.8,297.7 276.5,297.6 278.2,297.6 279.9,297.6 281.6,297.6 283.3,297.5 285.0,297.6 286.7,297.6 288.4,297.6 290.1,297.7 291.8,297.7 293.5,297.7 295.2,297.7 296.9,297.7 298.6,297.7 300.3,297.6 302.0,297.7 303.7,297.7 305.4,297.7 307.1,297.7 308.8,297.7 310.5,297.8 312.2,297.7 313.9,297.7 315.6,297.8 317.3,297.8 319.0,297.7 320.7,297.7 322.4,297.8 324.1,297.7 325.8,297.8 327.5,297.7 329.2,297.8 330.9,297.8 332.6,297.7 334.3,297.7 336.0,297.7 337.7,297.8 339.4,297.6 341.1,297.7 342.8,297.8 344.5,297.8 346.2,297.7 347.9,297.8 349.6,297.7 351.3,297.7 353.0,297.7 354.7,297.8 356.4,297.8 358.1,297.8 359.8,297.8 361.5,297.8 363.2,297.9 364.9,297.9 366.6,297.9 368.3,297.8 370.0,297.9 371.7,297.9 373.4,297.9 375.1,297.9 376.8,297.9 378.5,297.9 380.2,297.9 381.9,297.9 383.6,297.9 385.3,297.9 387.0,297.9 388.7,297.9 390.4,297.9 392.1,297.9 393.8,297.9 395.5,297.9 397.2,297.9 398.9,297.9 400.6,297.9 402.3,297.9 404.0,297.9 405.7,297.9 407.4,297.9 409.1,297.8 410.8,297.9 412.5,297.9 414.2,297.9 415.9,297.9 417.6,297.9 419.3,297.9 421.0,297.9 422.7,297.9 424.4,297.9 426.1,297.8 427.8,297.9 429.5,297.9 431.2,297.9 432.9,297.9 434.6,297.9 436.3,297.9 438.0,297.9 439.7,297.9 441.4,297.9 443.1,297.9 444.8,297.9 446.5,297.9 448.2,297.9 449.9,297.9 451.6,297.9 453.3,297.9 455.0,297.9 456.7,297.9 458.4,297.9 460.1,297.9 461.8,297.9 463.5,297.9 465.2,297.9 466.9,297.9 468.6,297.9 470.3,297.9 472.0,297.9 473.7,297.9 475.4,297.9 477.1,297.9 478.8,297.9 480.5,297.9 482.2,297.9 483.9,297.9 485.6,297.9 487.3,297.9 489.0,297.9 490.7,298.0 492.4,298.0 494.1,297.9 495.8,298.0 497.5,298.0 499.2,298.0 500.9,298.0 502.6,298.0 504.3,298.0 506.0,298.0 507.7,298.0 509.4,298.0 511.1,298.0 512.8,298.0 514.5,298.0 516.2,298.0 517.9,298.0 519.6,298.0 521.3,298.0 523.0,298.0 524.7,298.0 526.4,298.0 528.1,298.0 529.8,298.0 531.5,298.0 533.2,298.0 534.9,298.0 536.6,298.0 538.3,298.0 540.0,298.0" fill="none" stroke="#D95319" stroke-width="4.0" stroke-linejoin="round"/>
<polyline points="42.0,293.5 43.7,292.5 45.3,292.9 47.0,291.6 48.7,290.2 50.5,290.5 52.2,290.4 54.1,290.0 56.0,289.7 57.9,289.5 59.8,289.1 61.1,290.9 62.4,291.6 64.3,292.3 66.2,292.9 68.1,293.1 70.0,293.5 71.9,290.6 73.8,290.4 75.1,288.8 76.4,287.2 78.9,288.5 81.4,292.3 83.3,292.4 85.3,293.5 87.2,293.2 89.0,292.9 91.0,293.4 92.9,293.5 94.8,291.8 96.7,291.0 98.0,290.2 99.3,290.4 101.8,292.3 103.7,292.8 105.6,291.6 106.9,290.7 108.2,291.0 110.7,291.6 112.0,293.5 113.3,294.0 114.7,293.9 116.2,294.5 117.6,294.0 119.1,294.0 120.5,295.2 122.0,294.7 123.6,294.5 125.2,294.5 126.8,295.7 128.4,295.4 130.0,295.5 131.7,295.9 133.3,294.8 135.0,295.4 136.7,296.1 138.3,295.4 140.0,295.6 141.7,296.0 143.3,296.1 145.0,295.9 146.7,295.7 148.3,296.2 150.0,296.3 151.7,296.2 153.3,295.9 155.0,296.3 156.7,296.3 158.3,296.3 160.0,296.5 161.7,296.6 163.4,296.5 165.1,296.3 166.9,296.7 168.6,296.4 170.3,296.6 172.0,296.8 173.7,296.8 175.4,296.8 177.1,297.1 178.9,297.0 180.6,297.2 182.3,296.9 184.0,296.8 185.7,297.2 187.4,297.0 189.1,297.1 190.9,297.2 192.6,297.2 194.3,297.1 196.0,297.2 197.7,297.3 199.4,297.2 201.1,297.2 202.9,297.2 204.6,297.2 206.3,297.2 208.0,297.2 209.7,297.5 211.4,297.4 213.1,297.4 214.9,297.4 216.6,297.4 218.3,297.5 220.0,297.5 221.7,297.5 223.4,297.5 225.1,297.4 226.8,297.5 228.5,297.5 230.2,297.5 231.9,297.6 233.6,297.5 235.3,297.5 237.0,297.5 238.7,297.5 240.4,297.6 242.1,297.5 243.8,297.6 245.5,297.6 247.2,297.7 248.9,297.6 250.6,297.6 252.3,297.5 254.0,297.6 255.7,297.6 257.4,297.6 259.1,297.6 260.9,297.6 262.6,297.6 264.3,297.6 266.0,297.6 267.7,297.5 269.4,297.4 271.1,297.4 272.8,297.5 274.5,297.4 276.2,297.5 277.9,297.6 279.6,297.6 281.3,297.5 283.0,297.6 284.7,297.5 286.4,297.6 288.1,297.5 289.8,297.6 291.5,297.6 293.2,297.6 294.9,297.5 296.6,297.6 298.3,297.6 300.0,297.5 301.7,297.5 303.4,297.6 305.1,297.5 306.8,297.6 308.5,297.6 310.2,297.7 311.9,297.6 313.6,297.5 315.3,297.6 317.0,297.6 318.7,297.6 320.4,297.6 322.1,297.6 323.8,297.6 325.5,297.6 327.2,297.6 328.9,297.6 330.6,297.6 332.3,297.6 334.0,297.6 335.7,297.7 337.4,297.6 339.1,297.6 340.9,297.6 342.6,297.5 344.3,297.5 346.0,297.6 347.7,297.6 349.4,297.5 351.1,297.5 352.8,297.6 354.5,297.5 356.2,297.6 357.9,297.6 359.6,297.5 361.3,297.6 363.0,297.6 364.7,297.5 366.4,297.5 368.1,297.6 369.8,297.5 371.5,297.5 373.2,297.5 374.9,297.5 376.6,297.6 378.3,297.6 380.0,297.6 381.7,297.5 383.4,297.7 385.1,297.6 386.8,297.6 388.5,297.6 390.2,297.6 391.9,297.7 393.6,297.7 395.3,297.7 397.0,297.7 398.7,297.7 400.4,297.7 402.1,297.7 403.8,297.7 405.5,297.7 407.2,297.7 408.9,297.7 410.6,297.7 412.3,297.7 414.0,297.7 415.7,297.7 417.4,297.7 419.1,297.7 420.9,297.7 422.6,297.7 424.3,297.7 426.0,297.7 427.7,297.7 429.4,297.7 431.1,297.7 432.8,297.7 434.5,297.7 436.2,297.7 437.9,297.7 439.6,297.7 441.3,297.7 443.0,297.7 444.7,297.7 446.4,297.7 448.1,297.7 449.8,297.7 451.5,297.7 453.2,297.7 454.9,297.7 456.6,297.8 458.3,297.8 460.0,297.8 461.7,297.8 463.4,297.8 465.1,297.8 466.8,297.8 468.5,297.8 470.2,297.8 471.9,297.8 473.6,297.8 475.3,297.8 477.0,297.8 478.7,297.8 480.4,297.8 482.1,297.9 483.8,297.9 485.5,297.9 487.2,297.9 488.9,297.9 490.6,297.9 492.3,297.9 494.0,297.9 495.7,297.9 497.4,297.9 499.1,297.9 500.9,297.9 502.6,297.9 504.3,297.9 506.0,297.9 507.7,297.9 509.4,297.9 511.1,297.9 512.8,297.9 514.5,297.9 516.2,297.9 517.9,297.9 519.6,297.9 521.3,298.0 523.0,298.0 524.7,298.0 526.4,298.0 528.1,298.0 529.8,298.0 531.5,298.0 533.2,298.0 534.9,298.0 536.6,298.0 538.3,298.0 540.0,298.0" fill="none" stroke="#D95319" stroke-width="4.0" stroke-linejoin="round"/>
<polyline points="42.0,300.0 43.8,299.7 45.5,300.2 47.2,300.2 49.0,300.3 50.8,300.2 52.5,299.9 54.2,300.1 56.0,299.9 57.8,299.8 59.5,299.6 61.2,299.5 63.0,299.7 64.8,299.7 66.5,299.6 68.2,299.8 70.0,299.6 71.7,299.5 73.3,299.3 75.0,299.3 76.7,299.3 78.3,299.0 80.0,299.0 81.7,298.9 83.3,298.9 85.0,298.9 86.7,298.8 88.3,298.8 90.0,298.8 91.7,298.8 93.3,298.8 95.0,298.6 96.7,298.6 98.3,298.6 100.0,298.5 101.7,298.5 103.3,298.5 105.0,298.4 106.7,298.4 108.3,298.3 110.0,298.2 111.7,298.2 113.3,298.1 115.0,298.2 116.7,298.1 118.3,298.1 120.0,298.1 121.7,298.1 123.3,298.1 125.0,298.0 126.7,298.0 128.3,298.0 130.0,298.0 131.7,298.0 133.4,298.0 135.1,298.0 136.8,298.0 138.5,298.0 140.2,298.0 141.9,298.0 143.6,298.0 145.3,298.0 147.0,298.0 148.7,298.0 150.4,298.0 152.1,298.0 153.8,298.0 155.5,298.0 157.2,298.0 158.9,298.0 160.6,298.0 162.3,298.0 164.0,298.0 165.7,298.0 167.4,298.0 169.1,298.0 170.8,298.0 172.5,298.0 174.2,298.0 175.9,298.0 177.6,298.0 179.3,298.0 181.0,298.0 182.7,298.0 184.4,298.0 186.1,298.0 187.8,298.0 189.5,298.0 191.2,298.0 192.9,298.0 194.6,298.0 196.3,298.0 198.0,298.0 199.8,298.0 201.5,298.0 203.2,298.0 204.9,298.0 206.6,298.0 208.3,298.0 210.0,298.0 211.7,298.0 213.4,298.0 215.1,298.0 216.8,298.0 218.5,298.0 220.2,298.0 221.9,298.0 223.6,298.0 225.3,298.0 227.0,298.0 228.7,298.0 230.4,298.0 232.1,298.0 233.8,298.0 235.5,298.0 237.2,298.0 238.9,298.0 240.6,298.0 242.3,298.0 244.0,298.0 245.7,298.0 247.4,298.0 249.1,298.0 250.8,298.0 252.5,298.0 254.2,298.0 255.9,298.0 257.6,298.0 259.3,298.0 261.0,298.0 262.7,298.0 264.4,298.0 266.1,298.0 267.8,298.0 269.5,298.0 271.2,298.0 272.9,298.0 274.6,298.0 276.3,298.0 278.0,298.0 279.7,298.0 281.4,298.0 283.1,298.0 284.8,298.0 286.5,298.0 288.2,298.0 289.9,298.0 291.6,298.0 293.3,298.0 295.0,298.0 296.7,298.0 298.4,298.0 300.1,298.0 301.8,298.0 303.5,298.0 305.2,298.0 306.9,298.0 308.6,298.0 310.3,298.0 312.0,298.0 313.7,298.0 315.4,298.0 317.1,298.0 318.8,298.0 320.5,298.0 322.2,298.0 323.9,298.0 325.6,298.0 327.3,298.0 329.0,298.0 330.7,298.0 332.4,298.0 334.1,298.0 335.9,298.0 337.6,298.0 339.3,298.0 341.0,298.0 342.7,298.0 344.4,298.0 346.1,298.0 347.8,298.0 349.5,298.0 351.2,298.0 352.9,298.0 354.6,298.0 356.3,298.0 358.0,298.0 359.7,298.0 361.4,298.0 363.1,298.0 364.8,298.0 366.5,298.0 368.2,298.0 369.9,298.0 371.6,298.0 373.3,298.0 375.0,298.0 376.7,298.0 378.4,298.0 380.1,298.0 381.8,298.0 383.5,298.0 385.2,298.0 386.9,298.0 388.6,298.0 390.3,298.0 392.0,298.0 393.7,298.0 395.4,298.0 397.1,298.0 398.8,298.0 400.5,298.0 402.2,298.0 403.9,298.0 405.6,298.0 407.3,298.0 409.0,298.0 410.7,298.0 412.4,298.0 414.1,298.0 415.8,298.0 417.5,298.0 419.2,298.0 420.9,298.0 422.6,298.0 424.3,298.0 426.0,298.0 427.7,298.0 429.4,298.0 431.1,298.0 432.8,298.0 434.5,298.0 436.2,298.0 437.9,298.0 439.6,298.0 441.3,298.0 443.0,298.0 444.7,298.0 446.4,298.0 448.1,298.0 449.8,298.0 451.5,298.0 453.2,298.0 454.9,298.0 456.6,298.0 458.3,298.0 460.0,298.0 461.7,298.0 463.4,298.0 465.1,298.0 466.8,298.0 468.5,298.0 470.2,298.0 472.0,298.0 473.7,298.0 475.4,298.0 477.1,298.0 478.8,298.0 480.5,298.0 482.2,298.0 483.9,298.0 485.6,298.0 487.3,298.0 489.0,298.0 490.7,298.0 492.4,298.0 494.1,298.0 495.8,298.0 497.5,298.0 499.2,298.0 500.9,298.0 502.6,298.0 504.3,298.0 506.0,298.0 507.7,298.0 509.4,298.0 511.1,298.0 512.8,298.0 514.5,298.0 516.2,298.0 517.9,298.0 519.6,298.0 521.3,298.0 523.0,298.0 524.7,298.0 526.4,298.0 528.1,298.0 529.8,298.0 531.5,298.0 533.2,298.0 534.9,298.0 536.6,298.0 538.3,298.0 540.0,298.0" fill="none" stroke="#D95319" stroke-width="4.0" stroke-linejoin="round"/>
</g>
<text transform="translate(42.5,460.3) scale(0.93,1)" text-anchor="middle" font-family="Liberation Sans, Arial, sans-serif" font-size="12.7" fill="#262626">0</text>
<text transform="translate(125.5,460.3) scale(0.93,1)" text-anchor="middle" font-family="Liberation Sans, Arial, sans-serif" font-size="12.7" fill="#262626">0.5</text>
<text transform="translate(208.5,460.3) scale(0.93,1)" text-anchor="middle" font-family="Liberation Sans, Arial, sans-serif" font-size="12.7" fill="#262626">1</text>
<text transform="translate(291.5,460.3) scale(0.93,1)" text-anchor="middle" font-family="Liberation Sans, Arial, sans-serif" font-size="12.7" fill="#262626">1.5</text>
<text transform="translate(374.5,460.3) scale(0.93,1)" text-anchor="middle" font-family="Liberation Sans, Arial, sans-serif" font-size="12.7" fill="#262626">2</text>
<text transform="translate(457.5,460.3) scale(0.93,1)" text-anchor="middle" font-family="Liberation Sans, Arial, sans-serif" font-size="12.7" fill="#262626">2.5</text>
<text transform="translate(540.5,460.3) scale(0.93,1)" text-anchor="middle" font-family="Liberation Sans, Arial, sans-serif" font-size="12.7" fill="#262626">3</text>
<text transform="translate(37,274.0) scale(0.93,1)" text-anchor="end" font-family="Liberation Sans, Arial, sans-serif" font-size="12.7" fill="#262626">10</text>
<text transform="translate(37,303.0) scale(0.93,1)" text-anchor="end" font-family="Liberation Sans, Arial, sans-serif" font-size="12.7" fill="#262626">0</text>
<text transform="translate(37,332.0) scale(0.93,1)" text-anchor="end" font-family="Liberation Sans, Arial, sans-serif" font-size="12.7" fill="#262626">-10</text>
<text transform="translate(37,361.0) scale(0.93,1)" text-anchor="end" font-family="Liberation Sans, Arial, sans-serif" font-size="12.7" fill="#262626">-20</text>
<text transform="translate(37,390.0) scale(0.93,1)" text-anchor="end" font-family="Liberation Sans, Arial, sans-serif" font-size="12.7" fill="#262626">-30</text>
<text transform="translate(37,419.0) scale(0.93,1)" text-anchor="end" font-family="Liberation Sans, Arial, sans-serif" font-size="12.7" fill="#262626">-40</text>
<text transform="translate(37,448.0) scale(0.93,1)" text-anchor="end" font-family="Liberation Sans, Arial, sans-serif" font-size="12.7" fill="#262626">-50</text>
<text x="291.5" y="477.8" text-anchor="middle" font-family="Liberation Sans, Arial, sans-serif" font-size="13" fill="#262626">Time [sec]</text>
<text transform="translate(13,356.5) rotate(-90)" text-anchor="middle" font-family="Liberation Sans, Arial, sans-serif" font-size="13" fill="#262626">x</text>
<text x="290.5" y="263.2" text-anchor="middle" font-family="Liberation Sans, Arial, sans-serif" font-size="12.5" font-weight="bold" fill="#000"><tspan font-style="italic">σ</tspan><tspan font-size="11" dy="-6">2</tspan><tspan dy="6"> - 2a = 7</tspan></text>
</svg>
</body></html>
